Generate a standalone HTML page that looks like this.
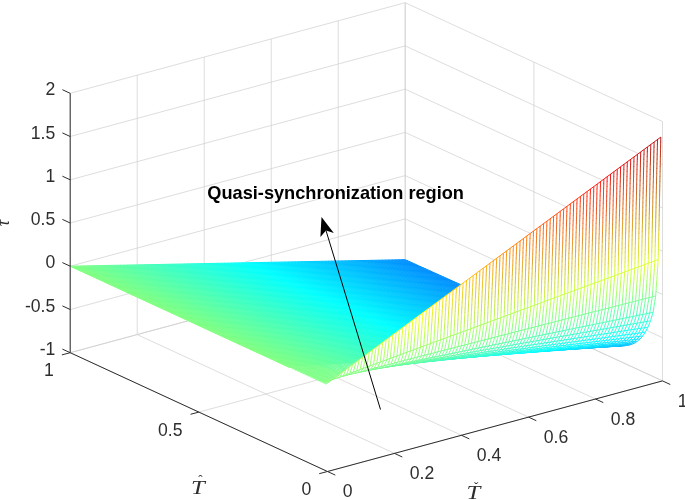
<!DOCTYPE html>
<html><head><meta charset="utf-8"><title>Quasi-synchronization region</title>
<style>html,body{margin:0;padding:0;background:#fff}svg{display:block}</style></head>
<body>
<svg width="685" height="500" viewBox="0 0 685 500"><defs><linearGradient id="ul" gradientUnits="userSpaceOnUse" x1="70.2" y1="266.2" x2="132.8" y2="130.7"><stop offset="0.000" stop-color="#80ff80"/><stop offset="0.534" stop-color="#00ffff"/><stop offset="1.000" stop-color="#0090ff"/></linearGradient><linearGradient id="p99" gradientUnits="userSpaceOnUse" x1="115.5" y1="426.9" x2="28.3" y2="104.6"><stop offset="0" stop-color="#000080"/><stop offset="0.125" stop-color="#0000ff"/><stop offset="0.375" stop-color="#00ffff"/><stop offset="0.625" stop-color="#ffff00"/><stop offset="0.875" stop-color="#ff0000"/><stop offset="1" stop-color="#800000"/></linearGradient><linearGradient id="p98" gradientUnits="userSpaceOnUse" x1="115.9" y1="428.7" x2="28.8" y2="106.4"><stop offset="0" stop-color="#000080"/><stop offset="0.125" stop-color="#0000ff"/><stop offset="0.375" stop-color="#00ffff"/><stop offset="0.625" stop-color="#ffff00"/><stop offset="0.875" stop-color="#ff0000"/><stop offset="1" stop-color="#800000"/></linearGradient><linearGradient id="p97" gradientUnits="userSpaceOnUse" x1="116.4" y1="430.5" x2="29.2" y2="108.1"><stop offset="0" stop-color="#000080"/><stop offset="0.125" stop-color="#0000ff"/><stop offset="0.375" stop-color="#00ffff"/><stop offset="0.625" stop-color="#ffff00"/><stop offset="0.875" stop-color="#ff0000"/><stop offset="1" stop-color="#800000"/></linearGradient><linearGradient id="p96" gradientUnits="userSpaceOnUse" x1="116.9" y1="432.2" x2="29.7" y2="109.9"><stop offset="0" stop-color="#000080"/><stop offset="0.125" stop-color="#0000ff"/><stop offset="0.375" stop-color="#00ffff"/><stop offset="0.625" stop-color="#ffff00"/><stop offset="0.875" stop-color="#ff0000"/><stop offset="1" stop-color="#800000"/></linearGradient><linearGradient id="p95" gradientUnits="userSpaceOnUse" x1="117.4" y1="434.0" x2="30.2" y2="111.7"><stop offset="0" stop-color="#000080"/><stop offset="0.125" stop-color="#0000ff"/><stop offset="0.375" stop-color="#00ffff"/><stop offset="0.625" stop-color="#ffff00"/><stop offset="0.875" stop-color="#ff0000"/><stop offset="1" stop-color="#800000"/></linearGradient><linearGradient id="p94" gradientUnits="userSpaceOnUse" x1="117.8" y1="435.7" x2="30.7" y2="113.4"><stop offset="0" stop-color="#000080"/><stop offset="0.125" stop-color="#0000ff"/><stop offset="0.375" stop-color="#00ffff"/><stop offset="0.625" stop-color="#ffff00"/><stop offset="0.875" stop-color="#ff0000"/><stop offset="1" stop-color="#800000"/></linearGradient><linearGradient id="p93" gradientUnits="userSpaceOnUse" x1="118.3" y1="437.5" x2="31.2" y2="115.2"><stop offset="0" stop-color="#000080"/><stop offset="0.125" stop-color="#0000ff"/><stop offset="0.375" stop-color="#00ffff"/><stop offset="0.625" stop-color="#ffff00"/><stop offset="0.875" stop-color="#ff0000"/><stop offset="1" stop-color="#800000"/></linearGradient><linearGradient id="p92" gradientUnits="userSpaceOnUse" x1="118.8" y1="439.3" x2="31.6" y2="117.0"><stop offset="0" stop-color="#000080"/><stop offset="0.125" stop-color="#0000ff"/><stop offset="0.375" stop-color="#00ffff"/><stop offset="0.625" stop-color="#ffff00"/><stop offset="0.875" stop-color="#ff0000"/><stop offset="1" stop-color="#800000"/></linearGradient><linearGradient id="p91" gradientUnits="userSpaceOnUse" x1="119.3" y1="441.0" x2="32.1" y2="118.7"><stop offset="0" stop-color="#000080"/><stop offset="0.125" stop-color="#0000ff"/><stop offset="0.375" stop-color="#00ffff"/><stop offset="0.625" stop-color="#ffff00"/><stop offset="0.875" stop-color="#ff0000"/><stop offset="1" stop-color="#800000"/></linearGradient><linearGradient id="p90" gradientUnits="userSpaceOnUse" x1="119.7" y1="442.8" x2="32.6" y2="120.5"><stop offset="0" stop-color="#000080"/><stop offset="0.125" stop-color="#0000ff"/><stop offset="0.375" stop-color="#00ffff"/><stop offset="0.625" stop-color="#ffff00"/><stop offset="0.875" stop-color="#ff0000"/><stop offset="1" stop-color="#800000"/></linearGradient><linearGradient id="p89" gradientUnits="userSpaceOnUse" x1="120.2" y1="444.5" x2="33.1" y2="122.2"><stop offset="0" stop-color="#000080"/><stop offset="0.125" stop-color="#0000ff"/><stop offset="0.375" stop-color="#00ffff"/><stop offset="0.625" stop-color="#ffff00"/><stop offset="0.875" stop-color="#ff0000"/><stop offset="1" stop-color="#800000"/></linearGradient><linearGradient id="p88" gradientUnits="userSpaceOnUse" x1="120.7" y1="446.3" x2="33.5" y2="124.0"><stop offset="0" stop-color="#000080"/><stop offset="0.125" stop-color="#0000ff"/><stop offset="0.375" stop-color="#00ffff"/><stop offset="0.625" stop-color="#ffff00"/><stop offset="0.875" stop-color="#ff0000"/><stop offset="1" stop-color="#800000"/></linearGradient><linearGradient id="p87" gradientUnits="userSpaceOnUse" x1="121.2" y1="448.1" x2="34.0" y2="125.8"><stop offset="0" stop-color="#000080"/><stop offset="0.125" stop-color="#0000ff"/><stop offset="0.375" stop-color="#00ffff"/><stop offset="0.625" stop-color="#ffff00"/><stop offset="0.875" stop-color="#ff0000"/><stop offset="1" stop-color="#800000"/></linearGradient><linearGradient id="p86" gradientUnits="userSpaceOnUse" x1="121.7" y1="449.8" x2="34.5" y2="127.5"><stop offset="0" stop-color="#000080"/><stop offset="0.125" stop-color="#0000ff"/><stop offset="0.375" stop-color="#00ffff"/><stop offset="0.625" stop-color="#ffff00"/><stop offset="0.875" stop-color="#ff0000"/><stop offset="1" stop-color="#800000"/></linearGradient><linearGradient id="p85" gradientUnits="userSpaceOnUse" x1="122.1" y1="451.6" x2="35.0" y2="129.3"><stop offset="0" stop-color="#000080"/><stop offset="0.125" stop-color="#0000ff"/><stop offset="0.375" stop-color="#00ffff"/><stop offset="0.625" stop-color="#ffff00"/><stop offset="0.875" stop-color="#ff0000"/><stop offset="1" stop-color="#800000"/></linearGradient><linearGradient id="p84" gradientUnits="userSpaceOnUse" x1="122.6" y1="453.4" x2="35.4" y2="131.0"><stop offset="0" stop-color="#000080"/><stop offset="0.125" stop-color="#0000ff"/><stop offset="0.375" stop-color="#00ffff"/><stop offset="0.625" stop-color="#ffff00"/><stop offset="0.875" stop-color="#ff0000"/><stop offset="1" stop-color="#800000"/></linearGradient><linearGradient id="p83" gradientUnits="userSpaceOnUse" x1="123.1" y1="455.1" x2="35.9" y2="132.8"><stop offset="0" stop-color="#000080"/><stop offset="0.125" stop-color="#0000ff"/><stop offset="0.375" stop-color="#00ffff"/><stop offset="0.625" stop-color="#ffff00"/><stop offset="0.875" stop-color="#ff0000"/><stop offset="1" stop-color="#800000"/></linearGradient><linearGradient id="p82" gradientUnits="userSpaceOnUse" x1="123.6" y1="456.9" x2="36.4" y2="134.6"><stop offset="0" stop-color="#000080"/><stop offset="0.125" stop-color="#0000ff"/><stop offset="0.375" stop-color="#00ffff"/><stop offset="0.625" stop-color="#ffff00"/><stop offset="0.875" stop-color="#ff0000"/><stop offset="1" stop-color="#800000"/></linearGradient><linearGradient id="p81" gradientUnits="userSpaceOnUse" x1="124.0" y1="458.6" x2="36.9" y2="136.3"><stop offset="0" stop-color="#000080"/><stop offset="0.125" stop-color="#0000ff"/><stop offset="0.375" stop-color="#00ffff"/><stop offset="0.625" stop-color="#ffff00"/><stop offset="0.875" stop-color="#ff0000"/><stop offset="1" stop-color="#800000"/></linearGradient><linearGradient id="p80" gradientUnits="userSpaceOnUse" x1="124.5" y1="460.4" x2="37.3" y2="138.1"><stop offset="0" stop-color="#000080"/><stop offset="0.125" stop-color="#0000ff"/><stop offset="0.375" stop-color="#00ffff"/><stop offset="0.625" stop-color="#ffff00"/><stop offset="0.875" stop-color="#ff0000"/><stop offset="1" stop-color="#800000"/></linearGradient><linearGradient id="p79" gradientUnits="userSpaceOnUse" x1="125.0" y1="462.2" x2="37.8" y2="139.9"><stop offset="0" stop-color="#000080"/><stop offset="0.125" stop-color="#0000ff"/><stop offset="0.375" stop-color="#00ffff"/><stop offset="0.625" stop-color="#ffff00"/><stop offset="0.875" stop-color="#ff0000"/><stop offset="1" stop-color="#800000"/></linearGradient><linearGradient id="p78" gradientUnits="userSpaceOnUse" x1="125.5" y1="463.9" x2="38.3" y2="141.6"><stop offset="0" stop-color="#000080"/><stop offset="0.125" stop-color="#0000ff"/><stop offset="0.375" stop-color="#00ffff"/><stop offset="0.625" stop-color="#ffff00"/><stop offset="0.875" stop-color="#ff0000"/><stop offset="1" stop-color="#800000"/></linearGradient><linearGradient id="p77" gradientUnits="userSpaceOnUse" x1="125.9" y1="465.7" x2="38.8" y2="143.4"><stop offset="0" stop-color="#000080"/><stop offset="0.125" stop-color="#0000ff"/><stop offset="0.375" stop-color="#00ffff"/><stop offset="0.625" stop-color="#ffff00"/><stop offset="0.875" stop-color="#ff0000"/><stop offset="1" stop-color="#800000"/></linearGradient><linearGradient id="p76" gradientUnits="userSpaceOnUse" x1="126.4" y1="467.4" x2="39.3" y2="145.1"><stop offset="0" stop-color="#000080"/><stop offset="0.125" stop-color="#0000ff"/><stop offset="0.375" stop-color="#00ffff"/><stop offset="0.625" stop-color="#ffff00"/><stop offset="0.875" stop-color="#ff0000"/><stop offset="1" stop-color="#800000"/></linearGradient><linearGradient id="p75" gradientUnits="userSpaceOnUse" x1="126.9" y1="469.2" x2="39.7" y2="146.9"><stop offset="0" stop-color="#000080"/><stop offset="0.125" stop-color="#0000ff"/><stop offset="0.375" stop-color="#00ffff"/><stop offset="0.625" stop-color="#ffff00"/><stop offset="0.875" stop-color="#ff0000"/><stop offset="1" stop-color="#800000"/></linearGradient><linearGradient id="p74" gradientUnits="userSpaceOnUse" x1="127.4" y1="471.0" x2="40.2" y2="148.7"><stop offset="0" stop-color="#000080"/><stop offset="0.125" stop-color="#0000ff"/><stop offset="0.375" stop-color="#00ffff"/><stop offset="0.625" stop-color="#ffff00"/><stop offset="0.875" stop-color="#ff0000"/><stop offset="1" stop-color="#800000"/></linearGradient><linearGradient id="p73" gradientUnits="userSpaceOnUse" x1="127.8" y1="472.7" x2="40.7" y2="150.4"><stop offset="0" stop-color="#000080"/><stop offset="0.125" stop-color="#0000ff"/><stop offset="0.375" stop-color="#00ffff"/><stop offset="0.625" stop-color="#ffff00"/><stop offset="0.875" stop-color="#ff0000"/><stop offset="1" stop-color="#800000"/></linearGradient><linearGradient id="p72" gradientUnits="userSpaceOnUse" x1="128.3" y1="474.5" x2="41.2" y2="152.2"><stop offset="0" stop-color="#000080"/><stop offset="0.125" stop-color="#0000ff"/><stop offset="0.375" stop-color="#00ffff"/><stop offset="0.625" stop-color="#ffff00"/><stop offset="0.875" stop-color="#ff0000"/><stop offset="1" stop-color="#800000"/></linearGradient><linearGradient id="p71" gradientUnits="userSpaceOnUse" x1="128.8" y1="476.3" x2="41.6" y2="153.9"><stop offset="0" stop-color="#000080"/><stop offset="0.125" stop-color="#0000ff"/><stop offset="0.375" stop-color="#00ffff"/><stop offset="0.625" stop-color="#ffff00"/><stop offset="0.875" stop-color="#ff0000"/><stop offset="1" stop-color="#800000"/></linearGradient><linearGradient id="p70" gradientUnits="userSpaceOnUse" x1="129.3" y1="478.0" x2="42.1" y2="155.7"><stop offset="0" stop-color="#000080"/><stop offset="0.125" stop-color="#0000ff"/><stop offset="0.375" stop-color="#00ffff"/><stop offset="0.625" stop-color="#ffff00"/><stop offset="0.875" stop-color="#ff0000"/><stop offset="1" stop-color="#800000"/></linearGradient><linearGradient id="p69" gradientUnits="userSpaceOnUse" x1="129.8" y1="479.8" x2="42.6" y2="157.5"><stop offset="0" stop-color="#000080"/><stop offset="0.125" stop-color="#0000ff"/><stop offset="0.375" stop-color="#00ffff"/><stop offset="0.625" stop-color="#ffff00"/><stop offset="0.875" stop-color="#ff0000"/><stop offset="1" stop-color="#800000"/></linearGradient><linearGradient id="p68" gradientUnits="userSpaceOnUse" x1="130.2" y1="481.5" x2="43.1" y2="159.2"><stop offset="0" stop-color="#000080"/><stop offset="0.125" stop-color="#0000ff"/><stop offset="0.375" stop-color="#00ffff"/><stop offset="0.625" stop-color="#ffff00"/><stop offset="0.875" stop-color="#ff0000"/><stop offset="1" stop-color="#800000"/></linearGradient><linearGradient id="p67" gradientUnits="userSpaceOnUse" x1="130.7" y1="483.3" x2="43.5" y2="161.0"><stop offset="0" stop-color="#000080"/><stop offset="0.125" stop-color="#0000ff"/><stop offset="0.375" stop-color="#00ffff"/><stop offset="0.625" stop-color="#ffff00"/><stop offset="0.875" stop-color="#ff0000"/><stop offset="1" stop-color="#800000"/></linearGradient><linearGradient id="p66" gradientUnits="userSpaceOnUse" x1="131.2" y1="485.1" x2="44.0" y2="162.8"><stop offset="0" stop-color="#000080"/><stop offset="0.125" stop-color="#0000ff"/><stop offset="0.375" stop-color="#00ffff"/><stop offset="0.625" stop-color="#ffff00"/><stop offset="0.875" stop-color="#ff0000"/><stop offset="1" stop-color="#800000"/></linearGradient><linearGradient id="p65" gradientUnits="userSpaceOnUse" x1="131.7" y1="486.8" x2="44.5" y2="164.5"><stop offset="0" stop-color="#000080"/><stop offset="0.125" stop-color="#0000ff"/><stop offset="0.375" stop-color="#00ffff"/><stop offset="0.625" stop-color="#ffff00"/><stop offset="0.875" stop-color="#ff0000"/><stop offset="1" stop-color="#800000"/></linearGradient><linearGradient id="p64" gradientUnits="userSpaceOnUse" x1="132.1" y1="488.6" x2="45.0" y2="166.3"><stop offset="0" stop-color="#000080"/><stop offset="0.125" stop-color="#0000ff"/><stop offset="0.375" stop-color="#00ffff"/><stop offset="0.625" stop-color="#ffff00"/><stop offset="0.875" stop-color="#ff0000"/><stop offset="1" stop-color="#800000"/></linearGradient><linearGradient id="p63" gradientUnits="userSpaceOnUse" x1="132.6" y1="490.3" x2="45.4" y2="168.0"><stop offset="0" stop-color="#000080"/><stop offset="0.125" stop-color="#0000ff"/><stop offset="0.375" stop-color="#00ffff"/><stop offset="0.625" stop-color="#ffff00"/><stop offset="0.875" stop-color="#ff0000"/><stop offset="1" stop-color="#800000"/></linearGradient><linearGradient id="p62" gradientUnits="userSpaceOnUse" x1="133.1" y1="492.1" x2="45.9" y2="169.8"><stop offset="0" stop-color="#000080"/><stop offset="0.125" stop-color="#0000ff"/><stop offset="0.375" stop-color="#00ffff"/><stop offset="0.625" stop-color="#ffff00"/><stop offset="0.875" stop-color="#ff0000"/><stop offset="1" stop-color="#800000"/></linearGradient><linearGradient id="p61" gradientUnits="userSpaceOnUse" x1="133.6" y1="493.9" x2="46.4" y2="171.6"><stop offset="0" stop-color="#000080"/><stop offset="0.125" stop-color="#0000ff"/><stop offset="0.375" stop-color="#00ffff"/><stop offset="0.625" stop-color="#ffff00"/><stop offset="0.875" stop-color="#ff0000"/><stop offset="1" stop-color="#800000"/></linearGradient><linearGradient id="p60" gradientUnits="userSpaceOnUse" x1="134.0" y1="495.6" x2="46.9" y2="173.3"><stop offset="0" stop-color="#000080"/><stop offset="0.125" stop-color="#0000ff"/><stop offset="0.375" stop-color="#00ffff"/><stop offset="0.625" stop-color="#ffff00"/><stop offset="0.875" stop-color="#ff0000"/><stop offset="1" stop-color="#800000"/></linearGradient><linearGradient id="p59" gradientUnits="userSpaceOnUse" x1="134.5" y1="497.4" x2="47.4" y2="175.1"><stop offset="0" stop-color="#000080"/><stop offset="0.125" stop-color="#0000ff"/><stop offset="0.375" stop-color="#00ffff"/><stop offset="0.625" stop-color="#ffff00"/><stop offset="0.875" stop-color="#ff0000"/><stop offset="1" stop-color="#800000"/></linearGradient><linearGradient id="p58" gradientUnits="userSpaceOnUse" x1="135.0" y1="499.2" x2="47.8" y2="176.8"><stop offset="0" stop-color="#000080"/><stop offset="0.125" stop-color="#0000ff"/><stop offset="0.375" stop-color="#00ffff"/><stop offset="0.625" stop-color="#ffff00"/><stop offset="0.875" stop-color="#ff0000"/><stop offset="1" stop-color="#800000"/></linearGradient><linearGradient id="p57" gradientUnits="userSpaceOnUse" x1="135.5" y1="500.9" x2="48.3" y2="178.6"><stop offset="0" stop-color="#000080"/><stop offset="0.125" stop-color="#0000ff"/><stop offset="0.375" stop-color="#00ffff"/><stop offset="0.625" stop-color="#ffff00"/><stop offset="0.875" stop-color="#ff0000"/><stop offset="1" stop-color="#800000"/></linearGradient><linearGradient id="p56" gradientUnits="userSpaceOnUse" x1="135.9" y1="502.7" x2="48.8" y2="180.4"><stop offset="0" stop-color="#000080"/><stop offset="0.125" stop-color="#0000ff"/><stop offset="0.375" stop-color="#00ffff"/><stop offset="0.625" stop-color="#ffff00"/><stop offset="0.875" stop-color="#ff0000"/><stop offset="1" stop-color="#800000"/></linearGradient><linearGradient id="p55" gradientUnits="userSpaceOnUse" x1="136.4" y1="504.4" x2="49.3" y2="182.1"><stop offset="0" stop-color="#000080"/><stop offset="0.125" stop-color="#0000ff"/><stop offset="0.375" stop-color="#00ffff"/><stop offset="0.625" stop-color="#ffff00"/><stop offset="0.875" stop-color="#ff0000"/><stop offset="1" stop-color="#800000"/></linearGradient><linearGradient id="p54" gradientUnits="userSpaceOnUse" x1="136.9" y1="506.2" x2="49.7" y2="183.9"><stop offset="0" stop-color="#000080"/><stop offset="0.125" stop-color="#0000ff"/><stop offset="0.375" stop-color="#00ffff"/><stop offset="0.625" stop-color="#ffff00"/><stop offset="0.875" stop-color="#ff0000"/><stop offset="1" stop-color="#800000"/></linearGradient><linearGradient id="p53" gradientUnits="userSpaceOnUse" x1="137.4" y1="508.0" x2="50.2" y2="185.7"><stop offset="0" stop-color="#000080"/><stop offset="0.125" stop-color="#0000ff"/><stop offset="0.375" stop-color="#00ffff"/><stop offset="0.625" stop-color="#ffff00"/><stop offset="0.875" stop-color="#ff0000"/><stop offset="1" stop-color="#800000"/></linearGradient><linearGradient id="p52" gradientUnits="userSpaceOnUse" x1="137.9" y1="509.7" x2="50.7" y2="187.4"><stop offset="0" stop-color="#000080"/><stop offset="0.125" stop-color="#0000ff"/><stop offset="0.375" stop-color="#00ffff"/><stop offset="0.625" stop-color="#ffff00"/><stop offset="0.875" stop-color="#ff0000"/><stop offset="1" stop-color="#800000"/></linearGradient><linearGradient id="p51" gradientUnits="userSpaceOnUse" x1="138.3" y1="511.5" x2="51.2" y2="189.2"><stop offset="0" stop-color="#000080"/><stop offset="0.125" stop-color="#0000ff"/><stop offset="0.375" stop-color="#00ffff"/><stop offset="0.625" stop-color="#ffff00"/><stop offset="0.875" stop-color="#ff0000"/><stop offset="1" stop-color="#800000"/></linearGradient><linearGradient id="p50" gradientUnits="userSpaceOnUse" x1="138.8" y1="513.2" x2="51.6" y2="190.9"><stop offset="0" stop-color="#000080"/><stop offset="0.125" stop-color="#0000ff"/><stop offset="0.375" stop-color="#00ffff"/><stop offset="0.625" stop-color="#ffff00"/><stop offset="0.875" stop-color="#ff0000"/><stop offset="1" stop-color="#800000"/></linearGradient><linearGradient id="p49" gradientUnits="userSpaceOnUse" x1="139.3" y1="515.0" x2="52.1" y2="192.7"><stop offset="0" stop-color="#000080"/><stop offset="0.125" stop-color="#0000ff"/><stop offset="0.375" stop-color="#00ffff"/><stop offset="0.625" stop-color="#ffff00"/><stop offset="0.875" stop-color="#ff0000"/><stop offset="1" stop-color="#800000"/></linearGradient><linearGradient id="p48" gradientUnits="userSpaceOnUse" x1="139.8" y1="516.8" x2="52.6" y2="194.5"><stop offset="0" stop-color="#000080"/><stop offset="0.125" stop-color="#0000ff"/><stop offset="0.375" stop-color="#00ffff"/><stop offset="0.625" stop-color="#ffff00"/><stop offset="0.875" stop-color="#ff0000"/><stop offset="1" stop-color="#800000"/></linearGradient><linearGradient id="p47" gradientUnits="userSpaceOnUse" x1="140.2" y1="518.5" x2="53.1" y2="196.2"><stop offset="0" stop-color="#000080"/><stop offset="0.125" stop-color="#0000ff"/><stop offset="0.375" stop-color="#00ffff"/><stop offset="0.625" stop-color="#ffff00"/><stop offset="0.875" stop-color="#ff0000"/><stop offset="1" stop-color="#800000"/></linearGradient><linearGradient id="p46" gradientUnits="userSpaceOnUse" x1="140.7" y1="520.3" x2="53.5" y2="198.0"><stop offset="0" stop-color="#000080"/><stop offset="0.125" stop-color="#0000ff"/><stop offset="0.375" stop-color="#00ffff"/><stop offset="0.625" stop-color="#ffff00"/><stop offset="0.875" stop-color="#ff0000"/><stop offset="1" stop-color="#800000"/></linearGradient><linearGradient id="p45" gradientUnits="userSpaceOnUse" x1="141.2" y1="522.1" x2="54.0" y2="199.7"><stop offset="0" stop-color="#000080"/><stop offset="0.125" stop-color="#0000ff"/><stop offset="0.375" stop-color="#00ffff"/><stop offset="0.625" stop-color="#ffff00"/><stop offset="0.875" stop-color="#ff0000"/><stop offset="1" stop-color="#800000"/></linearGradient><linearGradient id="p44" gradientUnits="userSpaceOnUse" x1="141.7" y1="523.8" x2="54.5" y2="201.5"><stop offset="0" stop-color="#000080"/><stop offset="0.125" stop-color="#0000ff"/><stop offset="0.375" stop-color="#00ffff"/><stop offset="0.625" stop-color="#ffff00"/><stop offset="0.875" stop-color="#ff0000"/><stop offset="1" stop-color="#800000"/></linearGradient><linearGradient id="p43" gradientUnits="userSpaceOnUse" x1="142.1" y1="525.6" x2="55.0" y2="203.3"><stop offset="0" stop-color="#000080"/><stop offset="0.125" stop-color="#0000ff"/><stop offset="0.375" stop-color="#00ffff"/><stop offset="0.625" stop-color="#ffff00"/><stop offset="0.875" stop-color="#ff0000"/><stop offset="1" stop-color="#800000"/></linearGradient><linearGradient id="p42" gradientUnits="userSpaceOnUse" x1="142.6" y1="527.3" x2="55.5" y2="205.0"><stop offset="0" stop-color="#000080"/><stop offset="0.125" stop-color="#0000ff"/><stop offset="0.375" stop-color="#00ffff"/><stop offset="0.625" stop-color="#ffff00"/><stop offset="0.875" stop-color="#ff0000"/><stop offset="1" stop-color="#800000"/></linearGradient><linearGradient id="p41" gradientUnits="userSpaceOnUse" x1="143.1" y1="529.1" x2="55.9" y2="206.8"><stop offset="0" stop-color="#000080"/><stop offset="0.125" stop-color="#0000ff"/><stop offset="0.375" stop-color="#00ffff"/><stop offset="0.625" stop-color="#ffff00"/><stop offset="0.875" stop-color="#ff0000"/><stop offset="1" stop-color="#800000"/></linearGradient><linearGradient id="p40" gradientUnits="userSpaceOnUse" x1="143.6" y1="530.9" x2="56.4" y2="208.6"><stop offset="0" stop-color="#000080"/><stop offset="0.125" stop-color="#0000ff"/><stop offset="0.375" stop-color="#00ffff"/><stop offset="0.625" stop-color="#ffff00"/><stop offset="0.875" stop-color="#ff0000"/><stop offset="1" stop-color="#800000"/></linearGradient><linearGradient id="p39" gradientUnits="userSpaceOnUse" x1="144.0" y1="532.6" x2="56.9" y2="210.3"><stop offset="0" stop-color="#000080"/><stop offset="0.125" stop-color="#0000ff"/><stop offset="0.375" stop-color="#00ffff"/><stop offset="0.625" stop-color="#ffff00"/><stop offset="0.875" stop-color="#ff0000"/><stop offset="1" stop-color="#800000"/></linearGradient><linearGradient id="p38" gradientUnits="userSpaceOnUse" x1="144.5" y1="534.4" x2="57.4" y2="212.1"><stop offset="0" stop-color="#000080"/><stop offset="0.125" stop-color="#0000ff"/><stop offset="0.375" stop-color="#00ffff"/><stop offset="0.625" stop-color="#ffff00"/><stop offset="0.875" stop-color="#ff0000"/><stop offset="1" stop-color="#800000"/></linearGradient><linearGradient id="p37" gradientUnits="userSpaceOnUse" x1="145.0" y1="536.1" x2="57.8" y2="213.8"><stop offset="0" stop-color="#000080"/><stop offset="0.125" stop-color="#0000ff"/><stop offset="0.375" stop-color="#00ffff"/><stop offset="0.625" stop-color="#ffff00"/><stop offset="0.875" stop-color="#ff0000"/><stop offset="1" stop-color="#800000"/></linearGradient><linearGradient id="p36" gradientUnits="userSpaceOnUse" x1="145.5" y1="537.9" x2="58.3" y2="215.6"><stop offset="0" stop-color="#000080"/><stop offset="0.125" stop-color="#0000ff"/><stop offset="0.375" stop-color="#00ffff"/><stop offset="0.625" stop-color="#ffff00"/><stop offset="0.875" stop-color="#ff0000"/><stop offset="1" stop-color="#800000"/></linearGradient><linearGradient id="p35" gradientUnits="userSpaceOnUse" x1="146.0" y1="539.7" x2="58.8" y2="217.4"><stop offset="0" stop-color="#000080"/><stop offset="0.125" stop-color="#0000ff"/><stop offset="0.375" stop-color="#00ffff"/><stop offset="0.625" stop-color="#ffff00"/><stop offset="0.875" stop-color="#ff0000"/><stop offset="1" stop-color="#800000"/></linearGradient><linearGradient id="p34" gradientUnits="userSpaceOnUse" x1="146.4" y1="541.4" x2="59.3" y2="219.1"><stop offset="0" stop-color="#000080"/><stop offset="0.125" stop-color="#0000ff"/><stop offset="0.375" stop-color="#00ffff"/><stop offset="0.625" stop-color="#ffff00"/><stop offset="0.875" stop-color="#ff0000"/><stop offset="1" stop-color="#800000"/></linearGradient><linearGradient id="p33" gradientUnits="userSpaceOnUse" x1="146.9" y1="543.2" x2="59.7" y2="220.9"><stop offset="0" stop-color="#000080"/><stop offset="0.125" stop-color="#0000ff"/><stop offset="0.375" stop-color="#00ffff"/><stop offset="0.625" stop-color="#ffff00"/><stop offset="0.875" stop-color="#ff0000"/><stop offset="1" stop-color="#800000"/></linearGradient><linearGradient id="p32" gradientUnits="userSpaceOnUse" x1="147.4" y1="545.0" x2="60.2" y2="222.7"><stop offset="0" stop-color="#000080"/><stop offset="0.125" stop-color="#0000ff"/><stop offset="0.375" stop-color="#00ffff"/><stop offset="0.625" stop-color="#ffff00"/><stop offset="0.875" stop-color="#ff0000"/><stop offset="1" stop-color="#800000"/></linearGradient><linearGradient id="p31" gradientUnits="userSpaceOnUse" x1="147.9" y1="546.7" x2="60.7" y2="224.4"><stop offset="0" stop-color="#000080"/><stop offset="0.125" stop-color="#0000ff"/><stop offset="0.375" stop-color="#00ffff"/><stop offset="0.625" stop-color="#ffff00"/><stop offset="0.875" stop-color="#ff0000"/><stop offset="1" stop-color="#800000"/></linearGradient><linearGradient id="p30" gradientUnits="userSpaceOnUse" x1="148.3" y1="548.5" x2="61.2" y2="226.2"><stop offset="0" stop-color="#000080"/><stop offset="0.125" stop-color="#0000ff"/><stop offset="0.375" stop-color="#00ffff"/><stop offset="0.625" stop-color="#ffff00"/><stop offset="0.875" stop-color="#ff0000"/><stop offset="1" stop-color="#800000"/></linearGradient><linearGradient id="p29" gradientUnits="userSpaceOnUse" x1="148.8" y1="550.2" x2="61.6" y2="227.9"><stop offset="0" stop-color="#000080"/><stop offset="0.125" stop-color="#0000ff"/><stop offset="0.375" stop-color="#00ffff"/><stop offset="0.625" stop-color="#ffff00"/><stop offset="0.875" stop-color="#ff0000"/><stop offset="1" stop-color="#800000"/></linearGradient><linearGradient id="p28" gradientUnits="userSpaceOnUse" x1="149.3" y1="552.0" x2="62.1" y2="229.7"><stop offset="0" stop-color="#000080"/><stop offset="0.125" stop-color="#0000ff"/><stop offset="0.375" stop-color="#00ffff"/><stop offset="0.625" stop-color="#ffff00"/><stop offset="0.875" stop-color="#ff0000"/><stop offset="1" stop-color="#800000"/></linearGradient><linearGradient id="p27" gradientUnits="userSpaceOnUse" x1="149.8" y1="553.8" x2="62.6" y2="231.5"><stop offset="0" stop-color="#000080"/><stop offset="0.125" stop-color="#0000ff"/><stop offset="0.375" stop-color="#00ffff"/><stop offset="0.625" stop-color="#ffff00"/><stop offset="0.875" stop-color="#ff0000"/><stop offset="1" stop-color="#800000"/></linearGradient><linearGradient id="p26" gradientUnits="userSpaceOnUse" x1="150.2" y1="555.5" x2="63.1" y2="233.2"><stop offset="0" stop-color="#000080"/><stop offset="0.125" stop-color="#0000ff"/><stop offset="0.375" stop-color="#00ffff"/><stop offset="0.625" stop-color="#ffff00"/><stop offset="0.875" stop-color="#ff0000"/><stop offset="1" stop-color="#800000"/></linearGradient><linearGradient id="p25" gradientUnits="userSpaceOnUse" x1="150.7" y1="557.3" x2="63.6" y2="235.0"><stop offset="0" stop-color="#000080"/><stop offset="0.125" stop-color="#0000ff"/><stop offset="0.375" stop-color="#00ffff"/><stop offset="0.625" stop-color="#ffff00"/><stop offset="0.875" stop-color="#ff0000"/><stop offset="1" stop-color="#800000"/></linearGradient><linearGradient id="p24" gradientUnits="userSpaceOnUse" x1="151.2" y1="559.0" x2="64.0" y2="236.7"><stop offset="0" stop-color="#000080"/><stop offset="0.125" stop-color="#0000ff"/><stop offset="0.375" stop-color="#00ffff"/><stop offset="0.625" stop-color="#ffff00"/><stop offset="0.875" stop-color="#ff0000"/><stop offset="1" stop-color="#800000"/></linearGradient><linearGradient id="p23" gradientUnits="userSpaceOnUse" x1="151.7" y1="560.8" x2="64.5" y2="238.5"><stop offset="0" stop-color="#000080"/><stop offset="0.125" stop-color="#0000ff"/><stop offset="0.375" stop-color="#00ffff"/><stop offset="0.625" stop-color="#ffff00"/><stop offset="0.875" stop-color="#ff0000"/><stop offset="1" stop-color="#800000"/></linearGradient><linearGradient id="p22" gradientUnits="userSpaceOnUse" x1="152.1" y1="562.6" x2="65.0" y2="240.3"><stop offset="0" stop-color="#000080"/><stop offset="0.125" stop-color="#0000ff"/><stop offset="0.375" stop-color="#00ffff"/><stop offset="0.625" stop-color="#ffff00"/><stop offset="0.875" stop-color="#ff0000"/><stop offset="1" stop-color="#800000"/></linearGradient><linearGradient id="p21" gradientUnits="userSpaceOnUse" x1="152.6" y1="564.3" x2="65.5" y2="242.0"><stop offset="0" stop-color="#000080"/><stop offset="0.125" stop-color="#0000ff"/><stop offset="0.375" stop-color="#00ffff"/><stop offset="0.625" stop-color="#ffff00"/><stop offset="0.875" stop-color="#ff0000"/><stop offset="1" stop-color="#800000"/></linearGradient><linearGradient id="p20" gradientUnits="userSpaceOnUse" x1="153.1" y1="566.1" x2="65.9" y2="243.8"><stop offset="0" stop-color="#000080"/><stop offset="0.125" stop-color="#0000ff"/><stop offset="0.375" stop-color="#00ffff"/><stop offset="0.625" stop-color="#ffff00"/><stop offset="0.875" stop-color="#ff0000"/><stop offset="1" stop-color="#800000"/></linearGradient><linearGradient id="p19" gradientUnits="userSpaceOnUse" x1="153.6" y1="567.9" x2="66.4" y2="245.6"><stop offset="0" stop-color="#000080"/><stop offset="0.125" stop-color="#0000ff"/><stop offset="0.375" stop-color="#00ffff"/><stop offset="0.625" stop-color="#ffff00"/><stop offset="0.875" stop-color="#ff0000"/><stop offset="1" stop-color="#800000"/></linearGradient><linearGradient id="p18" gradientUnits="userSpaceOnUse" x1="154.1" y1="569.6" x2="66.9" y2="247.3"><stop offset="0" stop-color="#000080"/><stop offset="0.125" stop-color="#0000ff"/><stop offset="0.375" stop-color="#00ffff"/><stop offset="0.625" stop-color="#ffff00"/><stop offset="0.875" stop-color="#ff0000"/><stop offset="1" stop-color="#800000"/></linearGradient><linearGradient id="p17" gradientUnits="userSpaceOnUse" x1="154.5" y1="571.4" x2="67.4" y2="249.1"><stop offset="0" stop-color="#000080"/><stop offset="0.125" stop-color="#0000ff"/><stop offset="0.375" stop-color="#00ffff"/><stop offset="0.625" stop-color="#ffff00"/><stop offset="0.875" stop-color="#ff0000"/><stop offset="1" stop-color="#800000"/></linearGradient><linearGradient id="p16" gradientUnits="userSpaceOnUse" x1="155.0" y1="573.1" x2="67.8" y2="250.8"><stop offset="0" stop-color="#000080"/><stop offset="0.125" stop-color="#0000ff"/><stop offset="0.375" stop-color="#00ffff"/><stop offset="0.625" stop-color="#ffff00"/><stop offset="0.875" stop-color="#ff0000"/><stop offset="1" stop-color="#800000"/></linearGradient><linearGradient id="p15" gradientUnits="userSpaceOnUse" x1="155.5" y1="574.9" x2="68.3" y2="252.6"><stop offset="0" stop-color="#000080"/><stop offset="0.125" stop-color="#0000ff"/><stop offset="0.375" stop-color="#00ffff"/><stop offset="0.625" stop-color="#ffff00"/><stop offset="0.875" stop-color="#ff0000"/><stop offset="1" stop-color="#800000"/></linearGradient><linearGradient id="s14" gradientUnits="userSpaceOnUse" x1="156.0" y1="576.7" x2="68.8" y2="254.4"><stop offset="0" stop-color="#000080"/><stop offset="0.125" stop-color="#0000ff"/><stop offset="0.375" stop-color="#00ffff"/><stop offset="0.625" stop-color="#ffff00"/><stop offset="0.875" stop-color="#ff0000"/><stop offset="1" stop-color="#800000"/></linearGradient><linearGradient id="s13" gradientUnits="userSpaceOnUse" x1="156.4" y1="578.4" x2="69.3" y2="256.1"><stop offset="0" stop-color="#000080"/><stop offset="0.125" stop-color="#0000ff"/><stop offset="0.375" stop-color="#00ffff"/><stop offset="0.625" stop-color="#ffff00"/><stop offset="0.875" stop-color="#ff0000"/><stop offset="1" stop-color="#800000"/></linearGradient><linearGradient id="s12" gradientUnits="userSpaceOnUse" x1="156.9" y1="580.2" x2="69.7" y2="257.9"><stop offset="0" stop-color="#000080"/><stop offset="0.125" stop-color="#0000ff"/><stop offset="0.375" stop-color="#00ffff"/><stop offset="0.625" stop-color="#ffff00"/><stop offset="0.875" stop-color="#ff0000"/><stop offset="1" stop-color="#800000"/></linearGradient><linearGradient id="s11" gradientUnits="userSpaceOnUse" x1="157.4" y1="582.0" x2="70.2" y2="259.6"><stop offset="0" stop-color="#000080"/><stop offset="0.125" stop-color="#0000ff"/><stop offset="0.375" stop-color="#00ffff"/><stop offset="0.625" stop-color="#ffff00"/><stop offset="0.875" stop-color="#ff0000"/><stop offset="1" stop-color="#800000"/></linearGradient><linearGradient id="s10" gradientUnits="userSpaceOnUse" x1="157.9" y1="583.7" x2="70.7" y2="261.4"><stop offset="0" stop-color="#000080"/><stop offset="0.125" stop-color="#0000ff"/><stop offset="0.375" stop-color="#00ffff"/><stop offset="0.625" stop-color="#ffff00"/><stop offset="0.875" stop-color="#ff0000"/><stop offset="1" stop-color="#800000"/></linearGradient><linearGradient id="s9" gradientUnits="userSpaceOnUse" x1="158.3" y1="585.5" x2="71.2" y2="263.2"><stop offset="0" stop-color="#000080"/><stop offset="0.125" stop-color="#0000ff"/><stop offset="0.375" stop-color="#00ffff"/><stop offset="0.625" stop-color="#ffff00"/><stop offset="0.875" stop-color="#ff0000"/><stop offset="1" stop-color="#800000"/></linearGradient><linearGradient id="s8" gradientUnits="userSpaceOnUse" x1="158.8" y1="587.2" x2="71.6" y2="264.9"><stop offset="0" stop-color="#000080"/><stop offset="0.125" stop-color="#0000ff"/><stop offset="0.375" stop-color="#00ffff"/><stop offset="0.625" stop-color="#ffff00"/><stop offset="0.875" stop-color="#ff0000"/><stop offset="1" stop-color="#800000"/></linearGradient><linearGradient id="s7" gradientUnits="userSpaceOnUse" x1="159.3" y1="589.0" x2="72.1" y2="266.7"><stop offset="0" stop-color="#000080"/><stop offset="0.125" stop-color="#0000ff"/><stop offset="0.375" stop-color="#00ffff"/><stop offset="0.625" stop-color="#ffff00"/><stop offset="0.875" stop-color="#ff0000"/><stop offset="1" stop-color="#800000"/></linearGradient><linearGradient id="s6" gradientUnits="userSpaceOnUse" x1="159.8" y1="590.8" x2="72.6" y2="268.5"><stop offset="0" stop-color="#000080"/><stop offset="0.125" stop-color="#0000ff"/><stop offset="0.375" stop-color="#00ffff"/><stop offset="0.625" stop-color="#ffff00"/><stop offset="0.875" stop-color="#ff0000"/><stop offset="1" stop-color="#800000"/></linearGradient><linearGradient id="s5" gradientUnits="userSpaceOnUse" x1="160.2" y1="592.5" x2="73.1" y2="270.2"><stop offset="0" stop-color="#000080"/><stop offset="0.125" stop-color="#0000ff"/><stop offset="0.375" stop-color="#00ffff"/><stop offset="0.625" stop-color="#ffff00"/><stop offset="0.875" stop-color="#ff0000"/><stop offset="1" stop-color="#800000"/></linearGradient><linearGradient id="s4" gradientUnits="userSpaceOnUse" x1="160.7" y1="594.3" x2="73.6" y2="272.0"><stop offset="0" stop-color="#000080"/><stop offset="0.125" stop-color="#0000ff"/><stop offset="0.375" stop-color="#00ffff"/><stop offset="0.625" stop-color="#ffff00"/><stop offset="0.875" stop-color="#ff0000"/><stop offset="1" stop-color="#800000"/></linearGradient><linearGradient id="s3" gradientUnits="userSpaceOnUse" x1="161.2" y1="596.0" x2="74.0" y2="273.7"><stop offset="0" stop-color="#000080"/><stop offset="0.125" stop-color="#0000ff"/><stop offset="0.375" stop-color="#00ffff"/><stop offset="0.625" stop-color="#ffff00"/><stop offset="0.875" stop-color="#ff0000"/><stop offset="1" stop-color="#800000"/></linearGradient><linearGradient id="s2" gradientUnits="userSpaceOnUse" x1="161.7" y1="597.8" x2="74.5" y2="275.5"><stop offset="0" stop-color="#000080"/><stop offset="0.125" stop-color="#0000ff"/><stop offset="0.375" stop-color="#00ffff"/><stop offset="0.625" stop-color="#ffff00"/><stop offset="0.875" stop-color="#ff0000"/><stop offset="1" stop-color="#800000"/></linearGradient><linearGradient id="s1" gradientUnits="userSpaceOnUse" x1="162.2" y1="599.6" x2="75.0" y2="277.3"><stop offset="0" stop-color="#000080"/><stop offset="0.125" stop-color="#0000ff"/><stop offset="0.375" stop-color="#00ffff"/><stop offset="0.625" stop-color="#ffff00"/><stop offset="0.875" stop-color="#ff0000"/><stop offset="1" stop-color="#800000"/></linearGradient><linearGradient id="s0" gradientUnits="userSpaceOnUse" x1="162.6" y1="601.3" x2="75.5" y2="279.0"><stop offset="0" stop-color="#000080"/><stop offset="0.125" stop-color="#0000ff"/><stop offset="0.375" stop-color="#00ffff"/><stop offset="0.625" stop-color="#ffff00"/><stop offset="0.875" stop-color="#ff0000"/><stop offset="1" stop-color="#800000"/></linearGradient><linearGradient id="sf" gradientUnits="userSpaceOnUse" x1="324" y1="0" x2="342" y2="0"><stop offset="0" stop-color="#a6ffa6"/><stop offset="1" stop-color="#fff"/></linearGradient></defs>
<path d="M327.5 471.5L70.2 352.7M70.2 352.7L70.2 93.3M394.5 453.4L137.2 334.6M137.2 334.6L137.2 75.2M461.5 435.3L204.2 316.5M204.2 316.5L204.2 57.1M528.5 417.1L271.2 298.3M271.2 298.3L271.2 38.9M595.5 399L338.2 280.2M338.2 280.2L338.2 20.8M662.5 380.9L405.2 262.1M405.2 262.1L405.2 2.7M327.5 471.5L662.5 380.9M662.5 380.9L662.5 121.5M198.8 412.1L533.9 321.5M533.9 321.5L533.9 62.1M70.2 352.7L405.2 262.1M405.2 262.1L405.2 2.7M70.2 352.7L405.2 262.1M405.2 262.1L662.5 380.9M70.2 309.5L405.2 218.9M405.2 218.9L662.5 337.7M70.2 266.2L405.2 175.6M405.2 175.6L662.5 294.4M70.2 223L405.2 132.4M405.2 132.4L662.5 251.2M70.2 179.8L405.2 89.2M405.2 89.2L662.5 208M70.2 136.5L405.2 45.9M405.2 45.9L662.5 164.7M70.2 93.3L405.2 2.7M405.2 2.7L662.5 121.5" stroke="#cecece" stroke-width="0.7" fill="none"/>
<path d="M289.7 367.6L624.7 345.7L624.7 345.7L622.1 345.8L619.5 345.8L616.9 345.5L614.3 345.2L611.8 344.8L609.2 344.3L606.6 343.7L604 343L601.4 342.3L598.9 341.6L596.3 340.8L593.7 340L591.1 339.1L588.5 338.3L585.9 337.4L583.4 336.4L580.8 335.5L578.2 334.6L575.6 333.6L573 332.6L570.4 331.6L567.9 330.6L565.3 329.6L562.7 328.6L560.1 327.5L557.5 326.5L555 325.4L552.4 324.4L549.8 323.3L547.2 322.3L544.6 321.2L542 320.1L539.5 319L536.9 317.9L534.3 316.8L531.7 315.7L529.1 314.6L526.6 313.5L524 312.4L521.4 311.3L518.8 310.2L516.2 309.1L513.6 308L511.1 306.9L508.5 305.7L505.9 304.6L503.3 303.5L500.7 302.4L498.2 301.2L495.6 300.1L493 299L490.4 297.8L487.8 296.7L485.2 295.5L482.7 294.4L480.1 293.3L477.5 292.1L474.9 291L472.3 289.8L469.8 288.7L467.2 287.5L464.6 286.4L462 285.2L459.4 284.1L456.8 282.9L454.3 281.8L451.7 280.6L449.1 279.4L446.5 278.3L443.9 277.1L441.3 276L438.8 274.8L436.2 273.6L433.6 272.5L431 271.3L428.4 270.2L425.9 269L423.3 267.8L420.7 266.7L418.1 265.5L415.5 264.3L412.9 263.2L410.4 262L407.8 260.8L405.2 259.7L70.2 266.2 Z" fill="#fff"/>
<path d="M289.7 367.6L624.7 345.7L624.7 345.7L622.1 345.8L619.5 345.8L616.9 345.5L614.3 345.2L611.8 344.8L609.2 344.3L606.6 343.7L604 343L601.4 342.3L598.9 341.6L596.3 340.8L593.7 340L591.1 339.1L588.5 338.3L585.9 337.4L583.4 336.4L580.8 335.5L578.2 334.6L575.6 333.6L573 332.6L570.4 331.6L567.9 330.6L565.3 329.6L562.7 328.6L560.1 327.5L557.5 326.5L555 325.4L552.4 324.4L549.8 323.3L547.2 322.3L544.6 321.2L542 320.1L539.5 319L536.9 317.9L534.3 316.8L531.7 315.7L529.1 314.6L526.6 313.5L524 312.4L521.4 311.3L518.8 310.2L516.2 309.1L513.6 308L511.1 306.9L508.5 305.7L505.9 304.6L503.3 303.5L500.7 302.4L498.2 301.2L495.6 300.1L493 299L490.4 297.8L487.8 296.7L485.2 295.5L482.7 294.4L480.1 293.3L477.5 292.1L474.9 291L472.3 289.8L469.8 288.7L467.2 287.5L464.6 286.4L462 285.2L459.4 284.1L456.8 282.9L454.3 281.8L451.7 280.6L449.1 279.4L446.5 278.3L443.9 277.1L441.3 276L438.8 274.8L436.2 273.6L433.6 272.5L431 271.3L428.4 270.2L425.9 269L423.3 267.8L420.7 266.7L418.1 265.5L415.5 264.3L412.9 263.2L410.4 262L407.8 260.8L405.2 259.7L70.2 266.2 Z" fill="url(#ul)" fill-opacity="0.7"/>
<g fill="none" stroke-width="1">
<path d="M70.2 266.2L405.2 259.7" stroke="url(#p99)"/>
<path d="M72.8 267.4L407.8 260.8" stroke="url(#p98)"/>
<path d="M75.4 268.6L410.4 262" stroke="url(#p97)"/>
<path d="M77.9 269.8L412.9 263.2" stroke="url(#p96)"/>
<path d="M80.5 271L415.5 264.3" stroke="url(#p95)"/>
<path d="M83.1 272.2L418.1 265.5" stroke="url(#p94)"/>
<path d="M85.7 273.4L420.7 266.7" stroke="url(#p93)"/>
<path d="M88.3 274.6L423.3 267.8" stroke="url(#p92)"/>
<path d="M90.9 275.8L425.9 269" stroke="url(#p91)"/>
<path d="M93.4 277L428.4 270.2" stroke="url(#p90)"/>
<path d="M96 278.2L431 271.3" stroke="url(#p89)"/>
<path d="M98.6 279.3L433.6 272.5" stroke="url(#p88)"/>
<path d="M101.2 280.5L436.2 273.6" stroke="url(#p87)"/>
<path d="M103.8 281.7L438.8 274.8" stroke="url(#p86)"/>
<path d="M106.3 282.9L441.3 276" stroke="url(#p85)"/>
<path d="M108.9 284.1L443.9 277.1" stroke="url(#p84)"/>
<path d="M111.5 285.3L446.5 278.3" stroke="url(#p83)"/>
<path d="M114.1 286.5L449.1 279.4" stroke="url(#p82)"/>
<path d="M116.7 287.7L451.7 280.6" stroke="url(#p81)"/>
<path d="M119.3 288.9L454.3 281.8" stroke="url(#p80)"/>
<path d="M121.8 290.1L456.8 282.9" stroke="url(#p79)"/>
<path d="M124.4 291.3L459.4 284.1" stroke="url(#p78)"/>
<path d="M127 292.5L462 285.2" stroke="url(#p77)"/>
<path d="M129.6 293.6L464.6 286.4" stroke="url(#p76)"/>
<path d="M132.2 294.8L467.2 287.5" stroke="url(#p75)"/>
<path d="M134.8 296L469.8 288.7" stroke="url(#p74)"/>
<path d="M137.3 297.2L472.3 289.8" stroke="url(#p73)"/>
<path d="M139.9 298.4L474.9 291" stroke="url(#p72)"/>
<path d="M142.5 299.6L477.5 292.1" stroke="url(#p71)"/>
<path d="M145.1 300.8L480.1 293.3" stroke="url(#p70)"/>
<path d="M147.7 302L482.7 294.4" stroke="url(#p69)"/>
<path d="M150.2 303.2L485.2 295.5" stroke="url(#p68)"/>
<path d="M152.8 304.4L487.8 296.7" stroke="url(#p67)"/>
<path d="M155.4 305.6L490.4 297.8" stroke="url(#p66)"/>
<path d="M158 306.8L493 299" stroke="url(#p65)"/>
<path d="M160.6 308L495.6 300.1" stroke="url(#p64)"/>
<path d="M163.2 309.1L498.2 301.2" stroke="url(#p63)"/>
<path d="M165.7 310.3L500.7 302.4" stroke="url(#p62)"/>
<path d="M168.3 311.5L503.3 303.5" stroke="url(#p61)"/>
<path d="M170.9 312.7L505.9 304.6" stroke="url(#p60)"/>
<path d="M173.5 313.9L508.5 305.7" stroke="url(#p59)"/>
<path d="M176.1 315.1L511.1 306.9" stroke="url(#p58)"/>
<path d="M178.6 316.3L513.6 308" stroke="url(#p57)"/>
<path d="M181.2 317.5L516.2 309.1" stroke="url(#p56)"/>
<path d="M183.8 318.7L518.8 310.2" stroke="url(#p55)"/>
<path d="M186.4 319.9L521.4 311.3" stroke="url(#p54)"/>
<path d="M189 321.1L524 312.4" stroke="url(#p53)"/>
<path d="M191.6 322.3L526.6 313.5" stroke="url(#p52)"/>
<path d="M194.1 323.5L529.1 314.6" stroke="url(#p51)"/>
<path d="M196.7 324.6L531.7 315.7" stroke="url(#p50)"/>
<path d="M199.3 325.8L534.3 316.8" stroke="url(#p49)"/>
<path d="M201.9 327L536.9 317.9" stroke="url(#p48)"/>
<path d="M204.5 328.2L539.5 319" stroke="url(#p47)"/>
<path d="M207 329.4L542 320.1" stroke="url(#p46)"/>
<path d="M209.6 330.6L544.6 321.2" stroke="url(#p45)"/>
<path d="M212.2 331.8L547.2 322.3" stroke="url(#p44)"/>
<path d="M214.8 333L549.8 323.3" stroke="url(#p43)"/>
<path d="M217.4 334.2L552.4 324.4" stroke="url(#p42)"/>
<path d="M220 335.4L555 325.4" stroke="url(#p41)"/>
<path d="M222.5 336.6L557.5 326.5" stroke="url(#p40)"/>
<path d="M225.1 337.8L560.1 327.5" stroke="url(#p39)"/>
<path d="M227.7 339L562.7 328.6" stroke="url(#p38)"/>
<path d="M230.3 340.1L565.3 329.6" stroke="url(#p37)"/>
<path d="M232.9 341.3L567.9 330.6" stroke="url(#p36)"/>
<path d="M235.4 342.5L570.4 331.6" stroke="url(#p35)"/>
<path d="M238 343.7L573 332.6" stroke="url(#p34)"/>
<path d="M240.6 344.9L575.6 333.6" stroke="url(#p33)"/>
<path d="M243.2 346.1L578.2 334.6" stroke="url(#p32)"/>
<path d="M245.8 347.3L580.8 335.5" stroke="url(#p31)"/>
<path d="M248.4 348.5L583.4 336.4" stroke="url(#p30)"/>
<path d="M250.9 349.7L585.9 337.4" stroke="url(#p29)"/>
<path d="M253.5 350.9L588.5 338.3" stroke="url(#p28)"/>
<path d="M256.1 352.1L591.1 339.1" stroke="url(#p27)"/>
<path d="M258.7 353.3L593.7 340" stroke="url(#p26)"/>
<path d="M261.3 354.4L596.3 340.8" stroke="url(#p25)"/>
<path d="M263.9 355.6L598.9 341.6" stroke="url(#p24)"/>
<path d="M266.4 356.8L601.4 342.3" stroke="url(#p23)"/>
<path d="M269 358L604 343" stroke="url(#p22)"/>
<path d="M271.6 359.2L606.6 343.7" stroke="url(#p21)"/>
<path d="M274.2 360.4L609.2 344.3" stroke="url(#p20)"/>
<path d="M276.8 361.6L611.8 344.8" stroke="url(#p19)"/>
<path d="M279.3 362.8L614.3 345.2" stroke="url(#p18)"/>
<path d="M281.9 364L616.9 345.5" stroke="url(#p17)"/>
<path d="M284.5 365.2L619.5 345.8" stroke="url(#p16)"/>
<path d="M287.1 366.4L622.1 345.8" stroke="url(#p15)"/>
<path d="M624.7 345.7L604 343L583.4 336.4L562.7 328.6L542 320.1L521.4 311.3L500.7 302.4L480.1 293.3L459.4 284.1L438.8 274.8L418.1 265.5L405.2 259.7" stroke="#0090ff"/>
<path d="M621.3 346L600.7 343.2L580 336.6L559.4 328.7L538.7 320.2L518 311.4L497.4 302.4L476.7 293.3L456.1 284.1L435.4 274.9L414.8 265.6L401.8 259.7" stroke="#0092ff"/>
<path d="M618 346.2L597.3 343.3L576.7 336.7L556 328.8L535.3 320.3L514.7 311.5L494 302.5L473.4 293.4L452.7 284.2L432.1 274.9L411.4 265.6L398.5 259.8" stroke="#0095ff"/>
<path d="M614.6 346.4L594 343.5L573.3 336.8L552.7 328.9L532 320.4L511.3 311.6L490.7 302.6L470 293.5L449.4 284.3L428.7 275L408.1 265.7L395.2 259.9" stroke="#0097ff"/>
<path d="M611.3 346.6L590.6 343.6L570 336.9L549.3 329L528.6 320.5L508 311.7L487.3 302.7L466.7 293.6L446 284.3L425.4 275.1L404.7 265.8L391.8 259.9" stroke="#0099ff"/>
<path d="M607.9 346.8L587.3 343.8L566.6 337L546 329.1L525.3 320.6L504.6 311.8L484 302.8L463.3 293.6L442.7 284.4L422 275.2L401.4 265.8L388.4 260" stroke="#009cff"/>
<path d="M604.6 347L583.9 343.9L563.3 337.2L542.6 329.2L521.9 320.7L501.3 311.8L480.6 302.8L460 293.7L439.3 284.5L418.7 275.2L398 265.9L385.1 260.1" stroke="#009eff"/>
<path d="M601.2 347.3L580.6 344.1L559.9 337.3L539.3 329.3L518.6 320.8L497.9 311.9L477.3 302.9L456.6 293.8L436 284.6L415.3 275.3L394.7 266L381.7 260.1" stroke="#00a1ff"/>
<path d="M597.9 347.5L577.2 344.2L556.6 337.4L535.9 329.4L515.2 320.9L494.6 312L473.9 303L453.3 293.9L432.6 284.6L412 275.4L391.3 266L378.4 260.2" stroke="#00a3ff"/>
<path d="M594.5 347.7L573.9 344.4L553.2 337.5L532.6 329.5L511.9 320.9L491.2 312.1L470.6 303.1L449.9 293.9L429.3 284.7L408.6 275.4L388 266.1L375.1 260.3" stroke="#00a5ff"/>
<path d="M591.2 347.9L570.5 344.5L549.9 337.7L529.2 329.6L508.5 321L487.9 312.2L467.2 303.2L446.6 294L425.9 284.8L405.3 275.5L384.6 266.2L371.7 260.3" stroke="#00a8ff"/>
<path d="M587.8 348.1L567.2 344.7L546.5 337.8L525.9 329.7L505.2 321.1L484.5 312.3L463.9 303.2L443.2 294.1L422.6 284.9L401.9 275.6L381.3 266.2L368.3 260.4" stroke="#00aaff"/>
<path d="M584.5 348.4L563.8 344.8L543.2 337.9L522.5 329.8L501.8 321.2L481.2 312.4L460.5 303.3L439.9 294.2L419.2 284.9L398.6 275.6L377.9 266.3L365 260.5" stroke="#00adff"/>
<path d="M581.1 348.6L560.5 345L539.8 338L519.2 329.9L498.5 321.3L477.8 312.4L457.2 303.4L436.5 294.2L415.9 285L395.2 275.7L374.6 266.4L361.7 260.5" stroke="#00afff"/>
<path d="M577.8 348.8L557.1 345.1L536.5 338.1L515.8 330L495.1 321.4L474.5 312.5L453.8 303.5L433.2 294.3L412.5 285.1L391.9 275.8L371.2 266.4L358.3 260.6" stroke="#00b1ff"/>
<path d="M574.4 349L553.8 345.3L533.1 338.3L512.5 330.1L491.8 321.5L471.1 312.6L450.5 303.6L429.8 294.4L409.2 285.1L388.5 275.8L367.9 266.5L354.9 260.7" stroke="#00b4ff"/>
<path d="M571.1 349.2L550.4 345.4L529.8 338.4L509.1 330.2L488.4 321.6L467.8 312.7L447.1 303.6L426.5 294.5L405.8 285.2L385.2 275.9L364.5 266.6L351.6 260.7" stroke="#00b6ff"/>
<path d="M567.7 349.4L547.1 345.6L526.4 338.5L505.8 330.3L485.1 321.7L464.4 312.8L443.8 303.7L423.1 294.5L402.5 285.3L381.8 276L361.2 266.6L348.2 260.8" stroke="#00b8ff"/>
<path d="M564.4 349.7L543.7 345.7L523.1 338.6L502.4 330.4L481.7 321.8L461.1 312.9L440.4 303.8L419.8 294.6L399.1 285.4L378.5 276.1L357.8 266.7L344.9 260.9" stroke="#00bbff"/>
<path d="M561 349.9L540.4 345.9L519.7 338.7L499.1 330.5L478.4 321.9L457.7 313L437.1 303.9L416.4 294.7L395.8 285.4L375.1 276.1L354.5 266.8L341.6 260.9" stroke="#00bdff"/>
<path d="M557.7 350.1L537 346L516.4 338.9L495.7 330.6L475 322L454.4 313L433.7 303.9L413.1 294.8L392.4 285.5L371.8 276.2L351.1 266.8L338.2 261" stroke="#00c0ff"/>
<path d="M554.3 350.3L533.7 346.2L513 339L492.4 330.8L471.7 322.1L451 313.1L430.4 304L409.7 294.8L389.1 285.6L368.4 276.3L347.8 266.9L334.9 261" stroke="#00c2ff"/>
<path d="M551 350.5L530.3 346.3L509.7 339.1L489 330.9L468.3 322.2L447.7 313.2L427 304.1L406.4 294.9L385.7 285.6L365.1 276.3L344.4 267L331.5 261.1" stroke="#00c4ff"/>
<path d="M547.6 350.8L527 346.5L506.3 339.2L485.7 331L465 322.2L444.3 313.3L423.7 304.2L403 295L382.4 285.7L361.7 276.4L341.1 267L328.2 261.2" stroke="#00c7ff"/>
<path d="M544.3 351L523.6 346.6L503 339.3L482.3 331.1L461.6 322.3L441 313.4L420.3 304.3L399.7 295.1L379 285.8L358.4 276.5L337.7 267.1L324.8 261.2" stroke="#00c9ff"/>
<path d="M540.9 351.2L520.3 346.8L499.6 339.5L479 331.2L458.3 322.4L437.6 313.5L417 304.3L396.3 295.1L375.7 285.9L355 276.5L334.4 267.2L321.4 261.3" stroke="#00ccff"/>
<path d="M537.6 351.4L516.9 346.9L496.3 339.6L475.6 331.3L454.9 322.5L434.3 313.6L413.6 304.4L393 295.2L372.3 285.9L351.7 276.6L331 267.2L318.1 261.4" stroke="#00ceff"/>
<path d="M534.2 351.6L513.6 347.1L492.9 339.7L472.3 331.4L451.6 322.6L430.9 313.6L410.3 304.5L389.6 295.3L369 286L348.3 276.7L327.7 267.3L314.7 261.4" stroke="#00d0ff"/>
<path d="M530.9 351.8L510.2 347.2L489.6 339.8L468.9 331.5L448.2 322.7L427.6 313.7L406.9 304.6L386.3 295.4L365.6 286.1L345 276.7L324.3 267.4L311.4 261.5" stroke="#00d3ff"/>
<path d="M527.5 352.1L506.9 347.4L486.2 339.9L465.6 331.6L444.9 322.8L424.2 313.8L403.6 304.7L382.9 295.4L362.3 286.1L341.6 276.8L321 267.4L308.1 261.6" stroke="#00d5ff"/>
<path d="M524.2 352.3L503.5 347.5L482.9 340.1L462.2 331.7L441.5 322.9L420.9 313.9L400.2 304.7L379.6 295.5L358.9 286.2L338.3 276.9L317.6 267.5L304.7 261.6" stroke="#00d7ff"/>
<path d="M520.8 352.5L500.2 347.7L479.5 340.2L458.9 331.8L438.2 323L417.5 314L396.9 304.8L376.2 295.6L355.6 286.3L334.9 277L314.3 267.6L301.3 261.7" stroke="#00daff"/>
<path d="M517.5 352.7L496.8 347.8L476.2 340.3L455.5 331.9L434.8 323.1L414.2 314.1L393.5 304.9L372.9 295.7L352.2 286.4L331.6 277L310.9 267.6L298 261.8" stroke="#00dcff"/>
<path d="M514.1 352.9L493.5 348L472.8 340.4L452.2 332L431.5 323.2L410.8 314.1L390.2 305L369.5 295.7L348.9 286.4L328.2 277.1L307.6 267.7L294.7 261.8" stroke="#00dfff"/>
<path d="M510.8 353.2L490.1 348.1L469.5 340.5L448.8 332.1L428.1 323.3L407.5 314.2L386.8 305.1L366.2 295.8L345.5 286.5L324.9 277.2L304.2 267.8L291.3 261.9" stroke="#00e1ff"/>
<path d="M507.4 353.4L486.8 348.3L466.1 340.7L445.5 332.2L424.8 323.4L404.1 314.3L383.5 305.1L362.8 295.9L342.2 286.6L321.5 277.2L300.9 267.8L287.9 262" stroke="#00e3ff"/>
<path d="M504.1 353.6L483.4 348.4L462.8 340.8L442.1 332.3L421.4 323.5L400.8 314.4L380.1 305.2L359.5 296L338.8 286.7L318.2 277.3L297.5 267.9L284.6 262" stroke="#00e6ff"/>
<path d="M500.7 353.8L480.1 348.6L459.4 340.9L438.8 332.4L418.1 323.6L397.4 314.5L376.8 305.3L356.1 296L335.5 286.7L314.8 277.4L294.2 268L281.2 262.1" stroke="#00e8ff"/>
<path d="M497.4 354L476.7 348.7L456.1 341L435.4 332.5L414.7 323.6L394.1 314.6L373.4 305.4L352.8 296.1L332.1 286.8L311.5 277.4L290.8 268L277.9 262.2" stroke="#00ebff"/>
<path d="M494 354.2L473.4 348.9L452.7 341.1L432.1 332.6L411.4 323.7L390.7 314.7L370.1 305.5L349.4 296.2L328.8 286.9L308.1 277.5L287.5 268.1L274.6 262.2" stroke="#00edff"/>
<path d="M490.7 354.5L470 349L449.4 341.3L428.7 332.7L408 323.8L387.4 314.7L366.7 305.5L346.1 296.3L325.4 286.9L304.8 277.6L284.1 268.2L271.2 262.3" stroke="#00efff"/>
<path d="M487.3 354.7L466.7 349.2L446 341.4L425.4 332.8L404.7 323.9L384 314.8L363.4 305.6L342.7 296.3L322.1 287L301.4 277.6L280.8 268.2L267.8 262.4" stroke="#00f2ff"/>
<path d="M484 354.9L463.3 349.3L442.7 341.5L422 332.9L401.3 324L380.7 314.9L360 305.7L339.4 296.4L318.7 287.1L298.1 277.7L277.4 268.3L264.5 262.4" stroke="#00f4ff"/>
<path d="M480.6 355.1L460 349.5L439.3 341.6L418.7 333L398 324.1L377.3 315L356.7 305.8L336 296.5L315.4 287.2L294.7 277.8L274.1 268.4L261.2 262.5" stroke="#00f7ff"/>
<path d="M477.3 355.3L456.6 349.6L436 341.7L415.3 333.1L394.6 324.2L374 315.1L353.3 305.9L332.7 296.6L312 287.2L291.4 277.9L270.7 268.4L257.8 262.6" stroke="#00f9ff"/>
<path d="M473.9 355.6L453.3 349.8L432.6 341.9L412 333.2L391.3 324.3L370.6 315.2L350 305.9L329.3 296.6L308.7 287.3L288 277.9L267.4 268.5L254.4 262.6" stroke="#00fbff"/>
<path d="M470.6 355.8L449.9 349.9L429.3 342L408.6 333.3L387.9 324.4L367.3 315.3L346.6 306L326 296.7L305.3 287.4L284.7 278L264 268.6L251.1 262.7" stroke="#00feff"/>
<path d="M467.2 356L446.6 350.1L425.9 342.1L405.3 333.5L384.6 324.5L363.9 315.3L343.3 306.1L322.6 296.8L302 287.4L281.3 278.1L260.7 268.6L247.8 262.8" stroke="#01fffe"/>
<path d="M463.9 356.2L443.2 350.2L422.6 342.2L401.9 333.6L381.2 324.6L360.6 315.4L339.9 306.2L319.3 296.9L298.6 287.5L278 278.1L257.3 268.7L244.4 262.8" stroke="#03fffc"/>
<path d="M460.5 356.4L439.9 350.4L419.2 342.3L398.6 333.7L377.9 324.7L357.2 315.5L336.6 306.3L315.9 297L295.3 287.6L274.6 278.2L254 268.8L241.1 262.9" stroke="#06fff9"/>
<path d="M457.2 356.6L436.5 350.5L415.9 342.5L395.2 333.8L374.5 324.8L353.9 315.6L333.2 306.3L312.6 297L291.9 287.7L271.3 278.3L250.6 268.8L237.7 263" stroke="#08fff7"/>
<path d="M453.8 356.9L433.2 350.7L412.5 342.6L391.9 333.9L371.2 324.9L350.5 315.7L329.9 306.4L309.2 297.1L288.6 287.7L267.9 278.3L247.3 268.9L234.3 263" stroke="#0bfff4"/>
<path d="M450.5 357.1L429.8 350.8L409.2 342.7L388.5 334L367.8 324.9L347.2 315.8L326.5 306.5L305.9 297.2L285.2 287.8L264.6 278.4L243.9 269L231 263.1" stroke="#0dfff2"/>
<path d="M447.1 357.3L426.5 351L405.8 342.8L385.2 334.1L364.5 325L343.8 315.9L323.2 306.6L302.5 297.3L281.9 287.9L261.2 278.5L240.6 269L227.7 263.1" stroke="#0ffff0"/>
<path d="M443.8 357.5L423.1 351.1L402.5 342.9L381.8 334.2L361.1 325.1L340.5 315.9L319.8 306.7L299.2 297.3L278.5 288L257.9 278.5L237.2 269.1L224.3 263.2" stroke="#12ffed"/>
<path d="M440.4 357.7L419.8 351.3L399.1 343.1L378.5 334.3L357.8 325.2L337.1 316L316.5 306.7L295.8 297.4L275.2 288L254.5 278.6L233.9 269.2L220.9 263.3" stroke="#14ffeb"/>
<path d="M437.1 358L416.4 351.4L395.8 343.2L375.1 334.4L354.4 325.3L333.8 316.1L313.1 306.8L292.5 297.5L271.8 288.1L251.2 278.7L230.5 269.2L217.6 263.3" stroke="#17ffe8"/>
<path d="M433.7 358.2L413.1 351.6L392.4 343.3L371.8 334.5L351.1 325.4L330.4 316.2L309.8 306.9L289.1 297.6L268.5 288.2L247.8 278.8L227.2 269.3L214.2 263.4" stroke="#19ffe6"/>
<path d="M430.4 358.4L409.7 351.7L389.1 343.4L368.4 334.6L347.7 325.5L327.1 316.3L306.4 307L285.8 297.6L265.1 288.2L244.5 278.8L223.8 269.4L210.9 263.5" stroke="#1bffe4"/>
<path d="M427 358.6L406.4 351.9L385.7 343.6L365.1 334.7L344.4 325.6L323.7 316.4L303.1 307.1L282.4 297.7L261.8 288.3L241.1 278.9L220.5 269.4L207.6 263.5" stroke="#1effe1"/>
<path d="M423.7 358.8L403 352L382.4 343.7L361.7 334.8L341 325.7L320.4 316.5L299.7 307.1L279.1 297.8L258.4 288.4L237.8 279L217.1 269.5L204.2 263.6" stroke="#20ffdf"/>
<path d="M420.3 359L399.7 352.2L379 343.8L358.4 334.9L337.7 325.8L317 316.5L296.4 307.2L275.7 297.9L255.1 288.5L234.4 279L213.8 269.6L200.8 263.7" stroke="#22ffdd"/>
<path d="M417 359.3L396.3 352.3L375.7 343.9L355 335L334.3 325.9L313.7 316.6L293 307.3L272.4 297.9L251.7 288.5L231.1 279.1L210.4 269.6L197.5 263.7" stroke="#25ffda"/>
<path d="M413.6 359.5L393 352.5L372.3 344L351.7 335.1L331 326L310.3 316.7L289.7 307.4L269 298L248.4 288.6L227.7 279.2L207.1 269.7L194.1 263.8" stroke="#27ffd8"/>
<path d="M410.3 359.7L389.6 352.6L369 344.2L348.3 335.2L327.6 326.1L307 316.8L286.3 307.5L265.7 298.1L245 288.7L224.4 279.2L203.7 269.8L190.8 263.9" stroke="#2affd5"/>
<path d="M406.9 359.9L386.3 352.8L365.6 344.3L345 335.3L324.3 326.2L303.6 316.9L283 307.5L262.3 298.2L241.7 288.7L221 279.3L200.4 269.9L187.4 263.9" stroke="#2cffd3"/>
<path d="M403.6 360.1L382.9 352.9L362.3 344.4L341.6 335.4L320.9 326.3L300.3 317L279.6 307.6L259 298.2L238.3 288.8L217.7 279.4L197 269.9L184.1 264" stroke="#2effd1"/>
<path d="M400.2 360.4L379.6 353.1L358.9 344.5L338.3 335.5L317.6 326.3L296.9 317.1L276.3 307.7L255.6 298.3L235 288.9L214.3 279.4L193.7 270L180.8 264.1" stroke="#31ffce"/>
<path d="M396.9 360.6L376.2 353.2L355.6 344.6L334.9 335.6L314.2 326.4L293.6 317.1L272.9 307.8L252.3 298.4L231.6 289L211 279.5L190.3 270.1L177.4 264.1" stroke="#33ffcc"/>
<path d="M393.5 360.8L372.9 353.4L352.2 344.8L331.6 335.7L310.9 326.5L290.2 317.2L269.6 307.9L248.9 298.5L228.3 289L207.6 279.6L187 270.1L174.1 264.2" stroke="#36ffc9"/>
<path d="M390.2 361L369.5 353.5L348.9 344.9L328.2 335.8L307.5 326.6L286.9 317.3L266.2 307.9L245.6 298.5L224.9 289.1L204.3 279.7L183.6 270.2L170.7 264.3" stroke="#38ffc7"/>
<path d="M386.8 361.2L366.2 353.7L345.5 345L324.9 335.9L304.2 326.7L283.5 317.4L262.9 308L242.2 298.6L221.6 289.2L200.9 279.7L180.3 270.3L167.3 264.3" stroke="#3affc5"/>
<path d="M383.5 361.5L362.8 353.8L342.2 345.1L321.5 336L300.8 326.8L280.2 317.5L259.5 308.1L238.9 298.7L218.2 289.2L197.6 279.8L176.9 270.3L164 264.4" stroke="#3dffc2"/>
<path d="M380.1 361.7L359.5 354L338.8 345.2L318.2 336.1L297.5 326.9L276.8 317.6L256.2 308.2L235.5 298.8L214.9 289.3L194.2 279.9L173.6 270.4L160.6 264.5" stroke="#3fffc0"/>
<path d="M376.8 361.9L356.1 354.1L335.5 345.4L314.8 336.3L294.1 327L273.5 317.7L252.8 308.3L232.2 298.8L211.5 289.4L190.9 279.9L170.2 270.5L157.3 264.5" stroke="#41ffbe"/>
<path d="M373.4 362.1L352.8 354.3L332.1 345.5L311.5 336.4L290.8 327.1L270.1 317.7L249.5 308.3L228.8 298.9L208.2 289.5L187.5 280L166.9 270.5L153.9 264.6" stroke="#44ffbb"/>
<path d="M370.1 362.3L349.4 354.4L328.8 345.6L308.1 336.5L287.4 327.2L266.8 317.8L246.1 308.4L225.5 299L204.8 289.5L184.2 280.1L163.5 270.6L150.6 264.7" stroke="#46ffb9"/>
<path d="M366.7 362.5L346.1 354.6L325.4 345.7L304.8 336.6L284.1 327.3L263.4 317.9L242.8 308.5L222.1 299.1L201.5 289.6L180.8 280.1L160.2 270.7L147.2 264.7" stroke="#49ffb6"/>
<path d="M363.4 362.8L342.7 354.7L322.1 345.8L301.4 336.7L280.7 327.4L260.1 318L239.4 308.6L218.8 299.1L198.1 289.7L177.5 280.2L156.8 270.7L143.9 264.8" stroke="#4bffb4"/>
<path d="M360 363L339.4 354.9L318.7 346L298.1 336.8L277.4 327.5L256.7 318.1L236.1 308.7L215.4 299.2L194.8 289.8L174.1 280.3L153.5 270.8L140.6 264.9" stroke="#4dffb2"/>
<path d="M356.7 363.2L336 355L315.4 346.1L294.7 336.9L274 327.6L253.4 318.2L232.7 308.7L212.1 299.3L191.4 289.8L170.8 280.3L150.1 270.9L137.2 264.9" stroke="#50ffaf"/>
<path d="M353.3 363.4L332.7 355.2L312 346.2L291.4 337L270.7 327.6L250 318.3L229.4 308.8L208.7 299.4L188.1 289.9L167.4 280.4L146.8 270.9L133.8 265" stroke="#52ffad"/>
<path d="M350 363.6L329.3 355.3L308.7 346.3L288 337.1L267.3 327.7L246.7 318.3L226 308.9L205.4 299.4L184.7 290L164.1 280.5L143.4 271L130.5 265" stroke="#55ffaa"/>
<path d="M346.6 363.9L326 355.5L305.3 346.4L284.7 337.2L264 327.8L243.3 318.4L222.7 309L202 299.5L181.4 290L160.7 280.6L140.1 271.1L127.1 265.1" stroke="#57ffa8"/>
<path d="M343.3 364.1L322.6 355.6L302 346.6L281.3 337.3L260.6 327.9L240 318.5L219.3 309.1L198.7 299.6L178 290.1L157.4 280.6L136.7 271.1L123.8 265.2" stroke="#59ffa6"/>
<path d="M339.9 364.3L319.3 355.8L298.6 346.7L278 337.4L257.3 328L236.6 318.6L216 309.1L195.3 299.7L174.7 290.2L154 280.7L133.4 271.2L120.4 265.2" stroke="#5cffa3"/>
<path d="M336.6 364.5L315.9 355.9L295.3 346.8L274.6 337.5L253.9 328.1L233.3 318.7L212.6 309.2L192 299.7L171.3 290.3L150.7 280.8L130 271.3L117.1 265.3" stroke="#5effa1"/>
<path d="M333.2 364.7L312.6 356.1L291.9 346.9L271.3 337.6L250.6 328.2L229.9 318.8L209.3 309.3L188.6 299.8L168 290.3L147.3 280.8L126.7 271.3L113.8 265.4" stroke="#60ff9f"/>
<path d="M329.9 364.9L309.2 356.2L288.6 347L267.9 337.7L247.2 328.3L226.6 318.9L205.9 309.4L185.3 299.9L164.6 290.4L144 280.9L123.3 271.4L110.4 265.4" stroke="#63ff9c"/>
<path d="M326.5 365.2L305.9 356.4L285.2 347.2L264.6 337.8L243.9 328.4L223.2 318.9L202.6 309.5L181.9 300L161.3 290.5L140.6 281L120 271.5L107.1 265.5" stroke="#65ff9a"/>
<path d="M323.2 365.4L302.5 356.5L281.9 347.3L261.2 337.9L240.5 328.5L219.9 319L199.2 309.5L178.6 300L157.9 290.5L137.3 281L116.6 271.5L103.7 265.6" stroke="#68ff97"/>
<path d="M319.8 365.6L299.2 356.7L278.5 347.4L257.9 338L237.2 328.6L216.5 319.1L195.9 309.6L175.2 300.1L154.6 290.6L133.9 281.1L113.3 271.6L100.3 265.6" stroke="#6aff95"/>
<path d="M316.5 365.8L295.8 356.8L275.2 347.5L254.5 338.1L233.8 328.7L213.2 319.2L192.5 309.7L171.9 300.2L151.2 290.7L130.6 281.2L109.9 271.7L97 265.7" stroke="#6cff93"/>
<path d="M313.1 366L292.5 357L271.8 347.6L251.2 338.2L230.5 328.8L209.8 319.3L189.2 309.8L168.5 300.3L147.9 290.8L127.2 281.2L106.6 271.7L93.6 265.8" stroke="#6fff90"/>
<path d="M309.8 366.3L289.1 357.1L268.5 347.8L247.8 338.3L227.1 328.9L206.5 319.4L185.8 309.9L165.2 300.3L144.5 290.8L123.9 281.3L103.2 271.8L90.3 265.8" stroke="#71ff8e"/>
<path d="M306.4 366.5L285.8 357.3L265.1 347.9L244.5 338.4L223.8 328.9L203.1 319.4L182.5 309.9L161.8 300.4L141.2 290.9L120.5 281.4L99.9 271.9L86.9 265.9" stroke="#74ff8b"/>
<path d="M303.1 366.7L282.4 357.4L261.8 348L241.1 338.5L220.4 329L199.8 319.5L179.1 310L158.5 300.5L137.8 291L117.2 281.5L96.5 271.9L83.6 266" stroke="#76ff89"/>
<path d="M299.7 366.9L279.1 357.6L258.4 348.1L237.8 338.6L217.1 329.1L196.4 319.6L175.8 310.1L155.1 300.6L134.5 291L113.8 281.5L93.2 272L80.2 266" stroke="#78ff87"/>
<path d="M296.4 367.1L275.7 357.7L255.1 348.2L234.4 338.7L213.7 329.2L193.1 319.7L172.4 310.2L151.8 300.7L131.1 291.1L110.5 281.6L89.8 272.1L76.9 266.1" stroke="#7bff84"/>
<path d="M293 367.3L272.4 357.9L251.7 348.4L231.1 338.8L210.4 329.3L189.7 319.8L169.1 310.3L148.4 300.7L127.8 291.2L107.1 281.7L86.5 272.1L73.6 266.2" stroke="#7dff82"/>
<path d="M289.7 367.6L269 358L248.4 348.5L227.7 339L207 329.4L186.4 319.9L165.7 310.3L145.1 300.8L124.4 291.3L103.8 281.7L83.1 272.2L70.2 266.2" stroke="#80ff80"/>
</g>
<g fill="none" stroke-width="0.9">
<path d="M292.3 368.8L627.3 345.4L624.7 345.7L289.7 367.6Z" fill="url(#sf)"/>
<path d="M289.7 367.6L624.7 345.7" stroke="url(#s14)"/>
<path d="M295.6 368.5L293 367.3M299 368.3L296.4 367.1M302.3 368.1L299.7 366.9M305.7 367.8L303.1 366.7M309 367.6L306.4 366.5M312.4 367.4L309.8 366.3M315.7 367.1L313.1 366M319.1 366.9L316.5 365.8" stroke="#7f8"/>
<path d="M322.4 366.7L319.8 365.6M325.8 366.4L323.2 365.4M329.1 366.2L326.5 365.2M332.5 366L329.9 364.9M335.8 365.7L333.2 364.7M339.2 365.5L336.6 364.5M342.5 365.3L339.9 364.3M345.9 365L343.3 364.1" stroke="#6f9"/>
<path d="M349.2 364.8L346.6 363.9M352.6 364.6L350 363.6M355.9 364.3L353.3 363.4M359.3 364.1L356.7 363.2M362.6 363.9L360 363M366 363.6L363.4 362.8M369.3 363.4L366.7 362.5M372.7 363.2L370.1 362.3M376 362.9L373.4 362.1" stroke="#5fa"/>
<path d="M379.4 362.7L376.8 361.9M382.7 362.5L380.1 361.7M386.1 362.2L383.5 361.5M389.4 362L386.8 361.2M392.8 361.8L390.2 361M396.1 361.5L393.5 360.8M399.5 361.3L396.9 360.6M402.8 361.1L400.2 360.4" stroke="#4fb"/>
<path d="M406.2 360.8L403.6 360.1M409.5 360.6L406.9 359.9M412.9 360.4L410.3 359.7M416.2 360.1L413.6 359.5M419.6 359.9L417 359.3M422.9 359.7L420.3 359M426.3 359.4L423.7 358.8M429.6 359.2L427 358.6M433 359L430.4 358.4" stroke="#3fc"/>
<path d="M436.3 358.7L433.7 358.2M439.7 358.5L437.1 358M443 358.3L440.4 357.7M446.4 358L443.8 357.5M449.7 357.8L447.1 357.3M453.1 357.6L450.5 357.1M456.4 357.3L453.8 356.9M459.8 357.1L457.2 356.6" stroke="#2fd"/>
<path d="M463.1 356.9L460.5 356.4M466.5 356.6L463.9 356.2M469.8 356.4L467.2 356M473.2 356.2L470.6 355.8M476.5 355.9L473.9 355.6M479.9 355.7L477.3 355.3M483.2 355.5L480.6 355.1M486.6 355.2L484 354.9M489.9 355L487.3 354.7" stroke="#1fe"/>
<path d="M493.3 354.8L490.7 354.5M496.6 354.5L494 354.2M500 354.3L497.4 354M503.3 354.1L500.7 353.8M506.7 353.8L504.1 353.6M510 353.6L507.4 353.4M513.4 353.4L510.8 353.2M516.7 353.1L514.1 352.9" stroke="#0ff"/>
<path d="M520.1 352.9L517.5 352.7M523.4 352.7L520.8 352.5M526.8 352.4L524.2 352.3M530.1 352.2L527.5 352.1M533.5 352L530.9 351.8M536.8 351.7L534.2 351.6M540.2 351.5L537.6 351.4M543.5 351.3L540.9 351.2M546.9 351L544.3 351" stroke="#0ef"/>
<path d="M550.2 350.8L547.6 350.8M553.6 350.6L551 350.5M556.9 350.3L554.3 350.3M560.3 350.1L557.7 350.1M563.6 349.9L561 349.9M567 349.6L564.4 349.7M570.3 349.4L567.7 349.4M573.7 349.2L571.1 349.2" stroke="#0df"/>
<path d="M577 348.9L574.4 349M580.4 348.7L577.8 348.8M583.7 348.5L581.1 348.6M587.1 348.2L584.5 348.4M590.4 348L587.8 348.1M593.8 347.8L591.2 347.9M597.1 347.5L594.5 347.7M600.5 347.3L597.9 347.5M603.8 347.1L601.2 347.3" stroke="#0cf"/>
<path d="M607.2 346.8L604.6 347M610.5 346.6L607.9 346.8M613.9 346.4L611.3 346.6M617.2 346.1L614.6 346.4M620.6 345.9L618 346.2M623.9 345.7L621.3 346M627.3 345.4L624.7 345.7" stroke="#0bf"/>
<path d="M294.8 369.9L629.8 344.9L627.3 345.4L292.3 368.8Z" fill="url(#sf)"/>
<path d="M292.3 368.8L627.3 345.4" stroke="url(#s13)"/>
<path d="M298.2 369.7L295.6 368.5M301.5 369.4L299 368.3M304.9 369.2L302.3 368.1M308.2 368.9L305.7 367.8M311.6 368.7L309 367.6M314.9 368.4L312.4 367.4M318.3 368.2L315.7 367.1M321.6 367.9L319.1 366.9" stroke="#7f8"/>
<path d="M325 367.7L322.4 366.7M328.3 367.4L325.8 366.4M331.7 367.2L329.1 366.2M335 366.9L332.5 366M338.4 366.7L335.8 365.7M341.7 366.4L339.2 365.5M345.1 366.2L342.5 365.3M348.4 365.9L345.9 365M351.8 365.7L349.2 364.8" stroke="#6f9"/>
<path d="M355.1 365.4L352.6 364.6M358.5 365.2L355.9 364.3M361.8 364.9L359.3 364.1M365.2 364.7L362.6 363.9M368.5 364.4L366 363.6M371.9 364.2L369.3 363.4M375.2 363.9L372.7 363.2M378.6 363.7L376 362.9M381.9 363.4L379.4 362.7" stroke="#5fa"/>
<path d="M385.3 363.2L382.7 362.5M388.6 362.9L386.1 362.2M392 362.7L389.4 362M395.3 362.4L392.8 361.8M398.7 362.2L396.1 361.5M402 361.9L399.5 361.3M405.4 361.7L402.8 361.1M408.7 361.4L406.2 360.8" stroke="#4fb"/>
<path d="M412.1 361.2L409.5 360.6M415.4 360.9L412.9 360.4M418.8 360.7L416.2 360.1M422.1 360.4L419.6 359.9M425.5 360.2L422.9 359.7M428.8 359.9L426.3 359.4M432.2 359.7L429.6 359.2M435.5 359.4L433 359M438.9 359.2L436.3 358.7" stroke="#3fc"/>
<path d="M442.2 358.9L439.7 358.5M445.6 358.7L443 358.3M448.9 358.4L446.4 358M452.3 358.2L449.7 357.8M455.6 357.9L453.1 357.6M459 357.7L456.4 357.3M462.3 357.4L459.8 357.1M465.7 357.2L463.1 356.9M469 356.9L466.5 356.6" stroke="#2fd"/>
<path d="M472.4 356.7L469.8 356.4M475.7 356.4L473.2 356.2M479.1 356.2L476.5 355.9M482.4 355.9L479.9 355.7M485.8 355.7L483.2 355.5M489.1 355.4L486.6 355.2M492.5 355.2L489.9 355M495.8 354.9L493.3 354.8" stroke="#1fe"/>
<path d="M499.2 354.7L496.6 354.5M502.5 354.4L500 354.3M505.9 354.2L503.3 354.1M509.2 353.9L506.7 353.8M512.6 353.7L510 353.6M515.9 353.4L513.4 353.4M519.3 353.2L516.7 353.1M522.6 352.9L520.1 352.9M526 352.7L523.4 352.7" stroke="#0ff"/>
<path d="M529.3 352.4L526.8 352.4M532.7 352.2L530.1 352.2M536 351.9L533.5 352M539.4 351.7L536.8 351.7M542.7 351.4L540.2 351.5M546.1 351.2L543.5 351.3M549.4 350.9L546.9 351M552.8 350.6L550.2 350.8M556.1 350.4L553.6 350.6" stroke="#0ef"/>
<path d="M559.5 350.1L556.9 350.3M562.8 349.9L560.3 350.1M566.2 349.6L563.6 349.9M569.5 349.4L567 349.6M572.9 349.1L570.3 349.4M576.2 348.9L573.7 349.2M579.6 348.6L577 348.9M582.9 348.4L580.4 348.7" stroke="#0df"/>
<path d="M586.3 348.1L583.7 348.5M589.6 347.9L587.1 348.2M593 347.6L590.4 348M596.3 347.4L593.8 347.8M599.7 347.1L597.1 347.5M603 346.9L600.5 347.3M606.4 346.6L603.8 347.1M609.7 346.4L607.2 346.8M613.1 346.1L610.5 346.6" stroke="#0cf"/>
<path d="M616.4 345.9L613.9 346.4M619.8 345.6L617.2 346.1M623.1 345.4L620.6 345.9M626.5 345.1L623.9 345.7M629.8 344.9L627.3 345.4" stroke="#0bf"/>
<path d="M297.4 371.1L632.4 344L629.8 344.9L294.8 369.9Z" fill="url(#sf)"/>
<path d="M294.8 369.9L629.8 344.9" stroke="url(#s12)"/>
<path d="M300.8 370.9L298.2 369.7M304.1 370.6L301.5 369.4M307.5 370.3L304.9 369.2M310.8 370.1L308.2 368.9M314.2 369.8L311.6 368.7M317.5 369.5L314.9 368.4M320.9 369.2L318.3 368.2M324.2 369L321.6 367.9" stroke="#7f8"/>
<path d="M327.6 368.7L325 367.7M330.9 368.4L328.3 367.4M334.3 368.2L331.7 367.2M337.6 367.9L335 366.9M341 367.6L338.4 366.7M344.3 367.3L341.7 366.4M347.7 367.1L345.1 366.2M351 366.8L348.4 365.9M354.4 366.5L351.8 365.7" stroke="#6f9"/>
<path d="M357.7 366.3L355.1 365.4M361.1 366L358.5 365.2M364.4 365.7L361.8 364.9M367.8 365.4L365.2 364.7M371.1 365.2L368.5 364.4M374.5 364.9L371.9 364.2M377.8 364.6L375.2 363.9M381.2 364.4L378.6 363.7M384.5 364.1L381.9 363.4" stroke="#5fa"/>
<path d="M387.9 363.8L385.3 363.2M391.2 363.6L388.6 362.9M394.6 363.3L392 362.7M397.9 363L395.3 362.4M401.3 362.7L398.7 362.2M404.6 362.5L402 361.9M408 362.2L405.4 361.7M411.3 361.9L408.7 361.4M414.7 361.7L412.1 361.2" stroke="#4fb"/>
<path d="M418 361.4L415.4 360.9M421.4 361.1L418.8 360.7M424.7 360.8L422.1 360.4M428.1 360.6L425.5 360.2M431.4 360.3L428.8 359.9M434.8 360L432.2 359.7M438.1 359.8L435.5 359.4M441.5 359.5L438.9 359.2M444.8 359.2L442.2 358.9" stroke="#3fc"/>
<path d="M448.2 358.9L445.6 358.7M451.5 358.7L448.9 358.4M454.9 358.4L452.3 358.2M458.2 358.1L455.6 357.9M461.6 357.9L459 357.7M464.9 357.6L462.3 357.4M468.3 357.3L465.7 357.2M471.6 357L469 356.9M475 356.8L472.4 356.7" stroke="#2fd"/>
<path d="M478.3 356.5L475.7 356.4M481.7 356.2L479.1 356.2M485 356L482.4 355.9M488.4 355.7L485.8 355.7M491.7 355.4L489.1 355.4M495.1 355.1L492.5 355.2M498.4 354.9L495.8 354.9M501.8 354.6L499.2 354.7M505.1 354.3L502.5 354.4" stroke="#1fe"/>
<path d="M508.5 354.1L505.9 354.2M511.8 353.8L509.2 353.9M515.2 353.5L512.6 353.7M518.5 353.2L515.9 353.4M521.9 353L519.3 353.2M525.2 352.7L522.6 352.9M528.6 352.4L526 352.7M531.9 352.2L529.3 352.4M535.3 351.9L532.7 352.2" stroke="#0ff"/>
<path d="M538.6 351.6L536 351.9M542 351.4L539.4 351.7M545.3 351.1L542.7 351.4M548.7 350.8L546.1 351.2M552 350.5L549.4 350.9M555.4 350.3L552.8 350.6M558.7 350L556.1 350.4M562.1 349.7L559.5 350.1M565.4 349.5L562.8 349.9" stroke="#0ef"/>
<path d="M568.8 349.2L566.2 349.6M572.1 348.9L569.5 349.4M575.5 348.6L572.9 349.1M578.8 348.4L576.2 348.9M582.2 348.1L579.6 348.6M585.5 347.8L582.9 348.4M588.9 347.6L586.3 348.1M592.2 347.3L589.6 347.9M595.6 347L593 347.6" stroke="#0df"/>
<path d="M598.9 346.7L596.3 347.4M602.3 346.5L599.7 347.1M605.6 346.2L603 346.9M609 345.9L606.4 346.6M612.3 345.7L609.7 346.4M615.7 345.4L613.1 346.1M619 345.1L616.4 345.9M622.4 344.8L619.8 345.6M625.7 344.6L623.1 345.4" stroke="#0cf"/>
<path d="M629.1 344.3L626.5 345.1M632.4 344L629.8 344.9" stroke="#0bf"/>
<path d="M300 372.3L635 342.8L632.4 344L297.4 371.1Z" fill="url(#sf)"/>
<path d="M297.4 371.1L632.4 344" stroke="url(#s11)"/>
<path d="M303.3 372L300.8 370.9M306.7 371.7L304.1 370.6M310 371.4L307.5 370.3M313.4 371.2L310.8 370.1M316.7 370.9L314.2 369.8M320.1 370.6L317.5 369.5M323.4 370.3L320.9 369.2M326.8 370L324.2 369M330.1 369.7L327.6 368.7" stroke="#7f8"/>
<path d="M333.5 369.4L330.9 368.4M336.8 369.1L334.3 368.2M340.2 368.8L337.6 367.9M343.5 368.5L341 367.6M346.9 368.2L344.3 367.3M350.2 367.9L347.7 367.1M353.6 367.6L351 366.8M356.9 367.3L354.4 366.5M360.3 367L357.7 366.3" stroke="#6f9"/>
<path d="M363.6 366.7L361.1 366M367 366.4L364.4 365.7M370.3 366.1L367.8 365.4M373.7 365.8L371.1 365.2M377 365.5L374.5 364.9M380.4 365.2L377.8 364.6M383.7 365L381.2 364.4M387.1 364.7L384.5 364.1M390.4 364.4L387.9 363.8" stroke="#5fa"/>
<path d="M393.8 364.1L391.2 363.6M397.1 363.8L394.6 363.3M400.5 363.5L397.9 363M403.8 363.2L401.3 362.7M407.2 362.9L404.6 362.5M410.5 362.6L408 362.2M413.9 362.3L411.3 361.9M417.2 362L414.7 361.7M420.6 361.7L418 361.4M423.9 361.4L421.4 361.1" stroke="#4fb"/>
<path d="M427.3 361.1L424.7 360.8M430.6 360.8L428.1 360.6M434 360.5L431.4 360.3M437.3 360.2L434.8 360M440.7 359.9L438.1 359.8M444 359.6L441.5 359.5M447.4 359.3L444.8 359.2M450.7 359L448.2 358.9M454.1 358.8L451.5 358.7" stroke="#3fc"/>
<path d="M457.4 358.5L454.9 358.4M460.8 358.2L458.2 358.1M464.1 357.9L461.6 357.9M467.5 357.6L464.9 357.6M470.8 357.3L468.3 357.3M474.2 357L471.6 357M477.5 356.7L475 356.8M480.9 356.4L478.3 356.5M484.2 356.1L481.7 356.2" stroke="#2fd"/>
<path d="M487.6 355.8L485 356M490.9 355.5L488.4 355.7M494.3 355.2L491.7 355.4M497.6 354.9L495.1 355.1M501 354.6L498.4 354.9M504.3 354.3L501.8 354.6M507.7 354L505.1 354.3M511 353.7L508.5 354.1M514.4 353.4L511.8 353.8" stroke="#1fe"/>
<path d="M517.7 353.1L515.2 353.5M521.1 352.8L518.5 353.2M524.4 352.6L521.9 353M527.8 352.3L525.2 352.7M531.1 352L528.6 352.4M534.5 351.7L531.9 352.2M537.8 351.4L535.3 351.9M541.2 351.1L538.6 351.6M544.5 350.8L542 351.4M547.9 350.5L545.3 351.1" stroke="#0ff"/>
<path d="M551.2 350.2L548.7 350.8M554.6 349.9L552 350.5M557.9 349.6L555.4 350.3M561.3 349.3L558.7 350M564.6 349L562.1 349.7M568 348.7L565.4 349.5M571.3 348.4L568.8 349.2M574.7 348.1L572.1 348.9M578 347.8L575.5 348.6" stroke="#0ef"/>
<path d="M581.4 347.5L578.8 348.4M584.7 347.2L582.2 348.1M588.1 346.9L585.5 347.8M591.4 346.6L588.9 347.6M594.8 346.4L592.2 347.3M598.1 346.1L595.6 347M601.5 345.8L598.9 346.7M604.8 345.5L602.3 346.5M608.2 345.2L605.6 346.2" stroke="#0df"/>
<path d="M611.5 344.9L609 345.9M614.9 344.6L612.3 345.7M618.2 344.3L615.7 345.4M621.6 344L619 345.1M624.9 343.7L622.4 344.8M628.3 343.4L625.7 344.6M631.6 343.1L629.1 344.3M635 342.8L632.4 344" stroke="#0cf"/>
<path d="M302.6 373.5L637.6 341.1L635 342.8L300 372.3Z" fill="url(#sf)"/>
<path d="M300 372.3L635 342.8" stroke="url(#s10)"/>
<path d="M305.9 373.2L303.3 372M309.3 372.9L306.7 371.7M312.6 372.6L310 371.4M316 372.2L313.4 371.2M319.3 371.9L316.7 370.9M322.7 371.6L320.1 370.6M326 371.3L323.4 370.3M329.4 370.9L326.8 370M332.7 370.6L330.1 369.7" stroke="#7f8"/>
<path d="M336.1 370.3L333.5 369.4M339.4 370L336.8 369.1M342.8 369.6L340.2 368.8M346.1 369.3L343.5 368.5M349.5 369L346.9 368.2M352.8 368.7L350.2 367.9M356.2 368.3L353.6 367.6M359.5 368L356.9 367.3M362.9 367.7L360.3 367M366.2 367.4L363.6 366.7" stroke="#6f9"/>
<path d="M369.6 367L367 366.4M372.9 366.7L370.3 366.1M376.3 366.4L373.7 365.8M379.6 366.1L377 365.5M383 365.8L380.4 365.2M386.3 365.4L383.7 365M389.7 365.1L387.1 364.7M393 364.8L390.4 364.4M396.4 364.5L393.8 364.1" stroke="#5fa"/>
<path d="M399.7 364.1L397.1 363.8M403.1 363.8L400.5 363.5M406.4 363.5L403.8 363.2M409.8 363.2L407.2 362.9M413.1 362.8L410.5 362.6M416.5 362.5L413.9 362.3M419.8 362.2L417.2 362M423.2 361.9L420.6 361.7M426.5 361.5L423.9 361.4M429.9 361.2L427.3 361.1" stroke="#4fb"/>
<path d="M433.2 360.9L430.6 360.8M436.6 360.6L434 360.5M439.9 360.2L437.3 360.2M443.3 359.9L440.7 359.9M446.6 359.6L444 359.6M450 359.3L447.4 359.3M453.3 359L450.7 359M456.7 358.6L454.1 358.8M460 358.3L457.4 358.5M463.4 358L460.8 358.2" stroke="#3fc"/>
<path d="M466.7 357.7L464.1 357.9M470.1 357.3L467.5 357.6M473.4 357L470.8 357.3M476.8 356.7L474.2 357M480.1 356.4L477.5 356.7M483.5 356L480.9 356.4M486.8 355.7L484.2 356.1M490.2 355.4L487.6 355.8M493.5 355.1L490.9 355.5" stroke="#2fd"/>
<path d="M496.9 354.7L494.3 355.2M500.2 354.4L497.6 354.9M503.6 354.1L501 354.6M506.9 353.8L504.3 354.3M510.3 353.4L507.7 354M513.6 353.1L511 353.7M517 352.8L514.4 353.4M520.3 352.5L517.7 353.1M523.7 352.1L521.1 352.8M527 351.8L524.4 352.6" stroke="#1fe"/>
<path d="M530.4 351.5L527.8 352.3M533.7 351.2L531.1 352M537.1 350.9L534.5 351.7M540.4 350.5L537.8 351.4M543.8 350.2L541.2 351.1M547.1 349.9L544.5 350.8M550.5 349.6L547.9 350.5M553.8 349.2L551.2 350.2M557.2 348.9L554.6 349.9M560.5 348.6L557.9 349.6" stroke="#0ff"/>
<path d="M563.9 348.3L561.3 349.3M567.2 347.9L564.6 349M570.6 347.6L568 348.7M573.9 347.3L571.3 348.4M577.3 347L574.7 348.1M580.6 346.6L578 347.8M584 346.3L581.4 347.5M587.3 346L584.7 347.2M590.7 345.7L588.1 346.9" stroke="#0ef"/>
<path d="M594 345.3L591.4 346.6M597.4 345L594.8 346.4M600.7 344.7L598.1 346.1M604.1 344.4L601.5 345.8M607.4 344.1L604.8 345.5M610.8 343.7L608.2 345.2M614.1 343.4L611.5 344.9M617.5 343.1L614.9 344.6M620.8 342.8L618.2 344.3M624.2 342.4L621.6 344" stroke="#0df"/>
<path d="M627.5 342.1L624.9 343.7M630.9 341.8L628.3 343.4M634.2 341.5L631.6 343.1M637.6 341.1L635 342.8" stroke="#0cf"/>
<path d="M305.2 374.7L640.2 338.9L637.6 341.1L302.6 373.5Z" fill="url(#sf)"/>
<path d="M302.6 373.5L637.6 341.1" stroke="url(#s9)"/>
<path d="M308.5 374.4L305.9 373.2M311.9 374L309.3 372.9M315.2 373.6L312.6 372.6M318.6 373.3L316 372.2M321.9 372.9L319.3 371.9M325.3 372.6L322.7 371.6M328.6 372.2L326 371.3M332 371.9L329.4 370.9M335.3 371.5L332.7 370.6M338.7 371.1L336.1 370.3" stroke="#7f8"/>
<path d="M342 370.8L339.4 370M345.4 370.4L342.8 369.6M348.7 370.1L346.1 369.3M352.1 369.7L349.5 369M355.4 369.3L352.8 368.7M358.8 369L356.2 368.3M362.1 368.6L359.5 368M365.5 368.3L362.9 367.7M368.8 367.9L366.2 367.4M372.2 367.6L369.6 367" stroke="#6f9"/>
<path d="M375.5 367.2L372.9 366.7M378.9 366.8L376.3 366.4M382.2 366.5L379.6 366.1M385.6 366.1L383 365.8M388.9 365.8L386.3 365.4M392.3 365.4L389.7 365.1M395.6 365L393 364.8M399 364.7L396.4 364.5M402.3 364.3L399.7 364.1M405.7 364L403.1 363.8" stroke="#5fa"/>
<path d="M409 363.6L406.4 363.5M412.4 363.3L409.8 363.2M415.7 362.9L413.1 362.8M419.1 362.5L416.5 362.5M422.4 362.2L419.8 362.2M425.8 361.8L423.2 361.9M429.1 361.5L426.5 361.5M432.5 361.1L429.9 361.2M435.8 360.8L433.2 360.9M439.2 360.4L436.6 360.6" stroke="#4fb"/>
<path d="M442.5 360L439.9 360.2M445.9 359.7L443.3 359.9M449.2 359.3L446.6 359.6M452.6 359L450 359.3M455.9 358.6L453.3 359M459.3 358.2L456.7 358.6M462.6 357.9L460 358.3M466 357.5L463.4 358M469.3 357.2L466.7 357.7M472.7 356.8L470.1 357.3M476 356.5L473.4 357" stroke="#3fc"/>
<path d="M479.4 356.1L476.8 356.7M482.7 355.7L480.1 356.4M486.1 355.4L483.5 356M489.4 355L486.8 355.7M492.8 354.7L490.2 355.4M496.1 354.3L493.5 355.1M499.5 353.9L496.9 354.7M502.8 353.6L500.2 354.4M506.2 353.2L503.6 354.1M509.5 352.9L506.9 353.8" stroke="#2fd"/>
<path d="M512.9 352.5L510.3 353.4M516.2 352.2L513.6 353.1M519.6 351.8L517 352.8M522.9 351.4L520.3 352.5M526.3 351.1L523.7 352.1M529.6 350.7L527 351.8M533 350.4L530.4 351.5M536.3 350L533.7 351.2M539.7 349.7L537.1 350.9M543 349.3L540.4 350.5" stroke="#1fe"/>
<path d="M546.4 348.9L543.8 350.2M549.7 348.6L547.1 349.9M553.1 348.2L550.5 349.6M556.4 347.9L553.8 349.2M559.8 347.5L557.2 348.9M563.1 347.1L560.5 348.6M566.5 346.8L563.9 348.3M569.8 346.4L567.2 347.9M573.2 346.1L570.6 347.6M576.5 345.7L573.9 347.3" stroke="#0ff"/>
<path d="M579.9 345.4L577.3 347M583.2 345L580.6 346.6M586.6 344.6L584 346.3M589.9 344.3L587.3 346M593.3 343.9L590.7 345.7M596.6 343.6L594 345.3M600 343.2L597.4 345M603.3 342.8L600.7 344.7M606.7 342.5L604.1 344.4M610 342.1L607.4 344.1" stroke="#0ef"/>
<path d="M613.4 341.8L610.8 343.7M616.7 341.4L614.1 343.4M620.1 341.1L617.5 343.1M623.4 340.7L620.8 342.8M626.8 340.3L624.2 342.4M630.1 340L627.5 342.1M633.5 339.6L630.9 341.8M636.8 339.3L634.2 341.5M640.2 338.9L637.6 341.1" stroke="#0df"/>
<path d="M307.7 375.9L642.7 336L640.2 338.9L305.2 374.7Z" fill="url(#sf)"/>
<path d="M305.2 374.7L640.2 338.9" stroke="url(#s8)"/>
<path d="M311.1 375.5L308.5 374.4M314.4 375.1L311.9 374M317.8 374.7L315.2 373.6M321.1 374.3L318.6 373.3M324.5 373.9L321.9 372.9M327.8 373.5L325.3 372.6M331.2 373.1L328.6 372.2M334.5 372.7L332 371.9M337.9 372.3L335.3 371.5M341.2 371.9L338.7 371.1" stroke="#7f8"/>
<path d="M344.6 371.5L342 370.8M347.9 371.1L345.4 370.4M351.3 370.7L348.7 370.1M354.6 370.3L352.1 369.7M358 369.9L355.4 369.3M361.3 369.5L358.8 369M364.7 369.1L362.1 368.6M368 368.7L365.5 368.3M371.4 368.3L368.8 367.9M374.7 367.9L372.2 367.6M378.1 367.5L375.5 367.2" stroke="#6f9"/>
<path d="M381.4 367.1L378.9 366.8M384.8 366.7L382.2 366.5M388.1 366.3L385.6 366.1M391.5 365.9L388.9 365.8M394.8 365.5L392.3 365.4M398.2 365.1L395.6 365M401.5 364.7L399 364.7M404.9 364.3L402.3 364.3M408.2 363.9L405.7 364M411.6 363.5L409 363.6M414.9 363.1L412.4 363.3" stroke="#5fa"/>
<path d="M418.3 362.7L415.7 362.9M421.6 362.3L419.1 362.5M425 361.9L422.4 362.2M428.3 361.5L425.8 361.8M431.7 361.1L429.1 361.5M435 360.7L432.5 361.1M438.4 360.3L435.8 360.8M441.7 359.9L439.2 360.4M445.1 359.5L442.5 360M448.4 359.1L445.9 359.7M451.8 358.7L449.2 359.3" stroke="#4fb"/>
<path d="M455.1 358.3L452.6 359M458.5 357.9L455.9 358.6M461.8 357.5L459.3 358.2M465.2 357.1L462.6 357.9M468.5 356.7L466 357.5M471.9 356.3L469.3 357.2M475.2 355.9L472.7 356.8M478.6 355.5L476 356.5M481.9 355.1L479.4 356.1M485.3 354.7L482.7 355.7M488.6 354.4L486.1 355.4" stroke="#3fc"/>
<path d="M492 354L489.4 355M495.3 353.6L492.8 354.7M498.7 353.2L496.1 354.3M502 352.8L499.5 353.9M505.4 352.4L502.8 353.6M508.7 352L506.2 353.2M512.1 351.6L509.5 352.9M515.4 351.2L512.9 352.5M518.8 350.8L516.2 352.2M522.1 350.4L519.6 351.8M525.5 350L522.9 351.4" stroke="#2fd"/>
<path d="M528.8 349.6L526.3 351.1M532.2 349.2L529.6 350.7M535.5 348.8L533 350.4M538.9 348.4L536.3 350M542.2 348L539.7 349.7M545.6 347.6L543 349.3M548.9 347.2L546.4 348.9M552.3 346.8L549.7 348.6M555.6 346.4L553.1 348.2M559 346L556.4 347.9M562.3 345.6L559.8 347.5" stroke="#1fe"/>
<path d="M565.7 345.2L563.1 347.1M569 344.8L566.5 346.8M572.4 344.4L569.8 346.4M575.7 344L573.2 346.1M579.1 343.6L576.5 345.7M582.4 343.2L579.9 345.4M585.8 342.8L583.2 345M589.1 342.4L586.6 344.6M592.5 342L589.9 344.3M595.8 341.6L593.3 343.9M599.2 341.2L596.6 343.6" stroke="#0ff"/>
<path d="M602.5 340.8L600 343.2M605.9 340.4L603.3 342.8M609.2 340L606.7 342.5M612.6 339.6L610 342.1M615.9 339.2L613.4 341.8M619.3 338.8L616.7 341.4M622.6 338.4L620.1 341.1M626 338L623.4 340.7M629.3 337.6L626.8 340.3M632.7 337.2L630.1 340M636 336.8L633.5 339.6" stroke="#0ef"/>
<path d="M639.4 336.4L636.8 339.3M642.7 336L640.2 338.9" stroke="#0df"/>
<path d="M310.3 377.1L645.3 332.2L642.7 336L307.7 375.9Z" fill="url(#sf)"/>
<path d="M307.7 375.9L642.7 336" stroke="url(#s7)"/>
<path d="M313.7 376.7L311.1 375.5M317 376.2L314.4 375.1M320.4 375.8L317.8 374.7M323.7 375.3L321.1 374.3M327.1 374.9L324.5 373.9M330.4 374.4L327.8 373.5M333.8 374L331.2 373.1M337.1 373.5L334.5 372.7M340.5 373.1L337.9 372.3M343.8 372.6L341.2 371.9M347.2 372.2L344.6 371.5" stroke="#7f8"/>
<path d="M350.5 371.7L347.9 371.1M353.9 371.3L351.3 370.7M357.2 370.8L354.6 370.3M360.6 370.4L358 369.9M363.9 369.9L361.3 369.5M367.3 369.5L364.7 369.1M370.6 369L368 368.7M374 368.6L371.4 368.3M377.3 368.1L374.7 367.9M380.7 367.7L378.1 367.5M384 367.2L381.4 367.1M387.4 366.8L384.8 366.7" stroke="#6f9"/>
<path d="M390.7 366.3L388.1 366.3M394.1 365.9L391.5 365.9M397.4 365.4L394.8 365.5M400.8 365L398.2 365.1M404.1 364.5L401.5 364.7M407.5 364.1L404.9 364.3M410.8 363.6L408.2 363.9M414.2 363.2L411.6 363.5M417.5 362.7L414.9 363.1M420.9 362.3L418.3 362.7M424.2 361.8L421.6 362.3M427.6 361.4L425 361.9" stroke="#5fa"/>
<path d="M430.9 360.9L428.3 361.5M434.3 360.5L431.7 361.1M437.6 360L435 360.7M441 359.6L438.4 360.3M444.3 359.1L441.7 359.9M447.7 358.7L445.1 359.5M451 358.2L448.4 359.1M454.4 357.8L451.8 358.7M457.7 357.3L455.1 358.3M461.1 356.9L458.5 357.9M464.4 356.4L461.8 357.5M467.8 356L465.2 357.1" stroke="#4fb"/>
<path d="M471.1 355.5L468.5 356.7M474.5 355.1L471.9 356.3M477.8 354.6L475.2 355.9M481.2 354.2L478.6 355.5M484.5 353.7L481.9 355.1M487.9 353.3L485.3 354.7M491.2 352.8L488.6 354.4M494.6 352.4L492 354M497.9 351.9L495.3 353.6M501.3 351.5L498.7 353.2M504.6 351.1L502 352.8M508 350.6L505.4 352.4" stroke="#3fc"/>
<path d="M511.3 350.2L508.7 352M514.7 349.7L512.1 351.6M518 349.3L515.4 351.2M521.4 348.8L518.8 350.8M524.7 348.4L522.1 350.4M528.1 347.9L525.5 350M531.4 347.5L528.8 349.6M534.8 347L532.2 349.2M538.1 346.6L535.5 348.8M541.5 346.1L538.9 348.4M544.8 345.7L542.2 348M548.2 345.2L545.6 347.6" stroke="#2fd"/>
<path d="M551.5 344.8L548.9 347.2M554.9 344.3L552.3 346.8M558.2 343.9L555.6 346.4M561.6 343.4L559 346M564.9 343L562.3 345.6M568.3 342.5L565.7 345.2M571.6 342.1L569 344.8M575 341.6L572.4 344.4M578.3 341.2L575.7 344M581.7 340.7L579.1 343.6M585 340.3L582.4 343.2M588.4 339.8L585.8 342.8" stroke="#1fe"/>
<path d="M591.7 339.4L589.1 342.4M595.1 338.9L592.5 342M598.4 338.5L595.8 341.6M601.8 338L599.2 341.2M605.1 337.6L602.5 340.8M608.5 337.1L605.9 340.4M611.8 336.7L609.2 340M615.2 336.2L612.6 339.6M618.5 335.8L615.9 339.2M621.9 335.3L619.3 338.8M625.2 334.9L622.6 338.4M628.6 334.4L626 338" stroke="#0ff"/>
<path d="M631.9 334L629.3 337.6M635.3 333.5L632.7 337.2M638.6 333.1L636 336.8M642 332.6L639.4 336.4M645.3 332.2L642.7 336" stroke="#0ef"/>
<path d="M312.9 378.3L647.9 327.2L645.3 332.2L310.3 377.1Z" fill="url(#sf)"/>
<path d="M310.3 377.1L645.3 332.2" stroke="url(#s6)"/>
<path d="M316.3 377.8L313.7 376.7M319.6 377.3L317 376.2M323 376.8L320.4 375.8M326.3 376.2L323.7 375.3M329.7 375.7L327.1 374.9M333 375.2L330.4 374.4M336.4 374.7L333.8 374M339.7 374.2L337.1 373.5M343.1 373.7L340.5 373.1M346.4 373.2L343.8 372.6M349.8 372.7L347.2 372.2M353.1 372.2L350.5 371.7M356.5 371.7L353.9 371.3" stroke="#7f8"/>
<path d="M359.8 371.1L357.2 370.8M363.2 370.6L360.6 370.4M366.5 370.1L363.9 369.9M369.9 369.6L367.3 369.5M373.2 369.1L370.6 369M376.6 368.6L374 368.6M379.9 368.1L377.3 368.1M383.3 367.6L380.7 367.7M386.6 367.1L384 367.2M390 366.5L387.4 366.8M393.3 366L390.7 366.3M396.7 365.5L394.1 365.9M400 365L397.4 365.4M403.4 364.5L400.8 365" stroke="#6f9"/>
<path d="M406.7 364L404.1 364.5M410.1 363.5L407.5 364.1M413.4 363L410.8 363.6M416.8 362.5L414.2 363.2M420.1 361.9L417.5 362.7M423.5 361.4L420.9 362.3M426.8 360.9L424.2 361.8M430.2 360.4L427.6 361.4M433.5 359.9L430.9 360.9M436.9 359.4L434.3 360.5M440.2 358.9L437.6 360M443.6 358.4L441 359.6M446.9 357.9L444.3 359.1" stroke="#5fa"/>
<path d="M450.3 357.3L447.7 358.7M453.6 356.8L451 358.2M457 356.3L454.4 357.8M460.3 355.8L457.7 357.3M463.7 355.3L461.1 356.9M467 354.8L464.4 356.4M470.4 354.3L467.8 356M473.7 353.8L471.1 355.5M477.1 353.3L474.5 355.1M480.4 352.8L477.8 354.6M483.8 352.2L481.2 354.2M487.1 351.7L484.5 353.7M490.5 351.2L487.9 353.3M493.8 350.7L491.2 352.8" stroke="#4fb"/>
<path d="M497.2 350.2L494.6 352.4M500.5 349.7L497.9 351.9M503.9 349.2L501.3 351.5M507.2 348.7L504.6 351.1M510.6 348.2L508 350.6M513.9 347.6L511.3 350.2M517.3 347.1L514.7 349.7M520.6 346.6L518 349.3M524 346.1L521.4 348.8M527.3 345.6L524.7 348.4M530.7 345.1L528.1 347.9M534 344.6L531.4 347.5M537.4 344.1L534.8 347" stroke="#3fc"/>
<path d="M540.7 343.6L538.1 346.6M544.1 343L541.5 346.1M547.4 342.5L544.8 345.7M550.8 342L548.2 345.2M554.1 341.5L551.5 344.8M557.5 341L554.9 344.3M560.8 340.5L558.2 343.9M564.2 340L561.6 343.4M567.5 339.5L564.9 343M570.9 339L568.3 342.5M574.2 338.4L571.6 342.1M577.6 337.9L575 341.6M580.9 337.4L578.3 341.2M584.3 336.9L581.7 340.7" stroke="#2fd"/>
<path d="M587.6 336.4L585 340.3M591 335.9L588.4 339.8M594.3 335.4L591.7 339.4M597.7 334.9L595.1 338.9M601 334.4L598.4 338.5M604.4 333.8L601.8 338M607.7 333.3L605.1 337.6M611.1 332.8L609.6 335.2M609.9 334.8L608.5 337.1M614.4 332.3L613 334.7M613.2 334.3L611.8 336.7M617.8 331.8L616.3 334.2M616.6 333.8L615.2 336.2M621.1 331.3L619.7 333.8M624.5 330.8L623 333.3M627.8 330.3L626.4 332.8M631.2 329.8L629.7 332.3M634.5 329.3L633.1 331.8M637.9 328.7L636.4 331.4M641.2 328.2L639.8 330.9M644.6 327.7L643.2 330.4" stroke="#1fe"/>
<path d="M619.9 333.3L618.5 335.8M623.3 332.8L621.9 335.3M626.6 332.4L625.2 334.9M630 331.9L628.6 334.4M633.3 331.4L631.9 334M636.7 330.9L635.3 333.5M640 330.4L638.6 333.1M643.4 330L642 332.6M647.9 327.2L646.5 329.9M646.7 329.5L645.3 332.2" stroke="#0ff"/>
<path d="M315.5 379.5L650.5 320.8L647.9 327.2L312.9 378.3Z" fill="url(#sf)"/>
<path d="M312.9 378.3L647.9 327.2" stroke="url(#s5)"/>
<path d="M318.8 378.9L316.3 377.8M322.2 378.3L319.6 377.3M325.5 377.7L323 376.8M328.9 377.1L326.3 376.2M332.2 376.6L329.7 375.7M335.6 376L333 375.2M338.9 375.4L336.4 374.7M342.3 374.8L339.7 374.2M345.6 374.2L343.1 373.7M349 373.6L346.4 373.2M352.3 373L349.8 372.7M355.7 372.4L353.1 372.2M359 371.9L356.5 371.7M362.4 371.3L359.8 371.1M365.7 370.7L363.2 370.6M369.1 370.1L366.5 370.1" stroke="#7f8"/>
<path d="M372.4 369.5L369.9 369.6M375.8 368.9L373.2 369.1M379.1 368.3L376.6 368.6M382.5 367.7L379.9 368.1M385.8 367.2L383.3 367.6M389.2 366.6L386.6 367.1M392.5 366L390 366.5M395.9 365.4L393.3 366M399.2 364.8L396.7 365.5M402.6 364.2L400 365M405.9 363.6L403.4 364.5M409.3 363.1L406.7 364M412.6 362.5L410.1 363.5M416 361.9L413.4 363M419.3 361.3L416.8 362.5M422.7 360.7L420.1 361.9" stroke="#6f9"/>
<path d="M426 360.1L423.5 361.4M429.4 359.5L426.8 360.9M432.7 358.9L430.2 360.4M436.1 358.4L433.5 359.9M439.4 357.8L436.9 359.4M442.8 357.2L440.2 358.9M446.1 356.6L443.6 358.4M449.5 356L446.9 357.9M452.8 355.4L450.3 357.3M456.2 354.8L453.6 356.8M459.5 354.3L457 356.3M462.9 353.7L460.3 355.8M466.2 353.1L463.7 355.3M469.6 352.5L467 354.8M472.9 351.9L470.4 354.3M476.3 351.3L473.7 353.8" stroke="#5fa"/>
<path d="M479.6 350.7L477.1 353.3M483 350.1L480.4 352.8M486.3 349.6L483.8 352.2M489.7 349L487.1 351.7M493 348.4L490.5 351.2M496.4 347.8L493.8 350.7M499.7 347.2L497.2 350.2M503.1 346.6L500.5 349.7M506.4 346L503.9 349.2M509.8 345.4L507.2 348.7M513.1 344.9L510.6 348.2M516.5 344.3L513.9 347.6M519.8 343.7L517.3 347.1M523.2 343.1L520.6 346.6M526.5 342.5L524 346.1M529.9 341.9L527.3 345.6" stroke="#4fb"/>
<path d="M533.2 341.3L530.7 345.1M536.6 340.8L534 344.6M539.9 340.2L537.4 344.1M543.3 339.6L540.7 343.6M546.6 339L544.1 343M550 338.4L547.4 342.5M553.3 337.8L550.8 342M556.7 337.2L554.1 341.5M560 336.6L558.6 339M558.9 338.6L557.5 341M563.4 336.1L562 338.5M562.2 338.1L560.8 340.5M566.7 335.5L565.3 337.9M565.6 337.5L564.2 340M570.1 334.9L568.7 337.4M568.9 337L567.5 339.5M573.4 334.3L572 336.8M576.8 333.7L575.4 336.3M580.1 333.1L578.7 335.8M583.5 332.5L582.1 335.2M586.8 332L585.4 334.7M590.2 331.4L588.8 334.1M593.5 330.8L592.1 333.6M596.9 330.2L595.5 333M600.2 329.6L598.8 332.5" stroke="#3fc"/>
<path d="M572.3 336.4L570.9 339M575.6 335.9L574.2 338.4M579 335.3L577.6 337.9M582.3 334.8L580.9 337.4M585.7 334.2L584.3 336.9M589 333.7L587.6 336.4M592.4 333.1L591 335.9M595.7 332.6L594.3 335.4M599.1 332L597.7 334.9M603.6 329L602.2 331.9M602.4 331.5L601 334.4M606.9 328.4L605.5 331.4M605.8 330.9L604.4 333.8M610.3 327.8L608.9 330.8M609.1 330.4L607.7 333.3M613.6 327.3L612.2 330.3M612.5 329.8L611.1 332.8M617 326.7L615.6 329.7M615.8 329.3L614.4 332.3M620.3 326.1L618.9 329.2M619.2 328.7L617.8 331.8M623.7 325.5L622.3 328.6M627 324.9L625.6 328.1M630.4 324.3L629 327.5M633.7 323.7L632.4 327M637.1 323.1L635.7 326.4M640.4 322.6L639.1 325.9M643.8 322L642.4 325.3M647.1 321.4L645.8 324.8M650.5 320.8L649.1 324.2" stroke="#2fd"/>
<path d="M622.5 328.2L621.1 331.3M625.9 327.6L624.5 330.8M629.2 327.1L627.8 330.3M632.5 326.5L631.2 329.8M635.9 326L634.5 329.3M639.2 325.4L637.9 328.7M642.6 324.9L641.2 328.2M645.9 324.3L644.6 327.7M649.3 323.8L647.9 327.2" stroke="#1fe"/>
<path d="M318.1 380.7L653.1 312.3L650.5 320.8L315.5 379.5Z" fill="url(#sf)"/>
<path d="M315.5 379.5L650.5 320.8" stroke="url(#s4)"/>
<path d="M321.4 380L318.8 378.9M324.8 379.3L322.2 378.3M328.1 378.6L325.5 377.7M331.5 377.9L328.9 377.1M334.8 377.3L332.2 376.6M338.2 376.6L335.6 376M341.5 375.9L338.9 375.4M344.9 375.2L342.3 374.8M348.2 374.5L345.6 374.2M351.6 373.8L349 373.6M354.9 373.2L352.3 373M358.3 372.5L355.7 372.4M361.6 371.8L359 371.9M365 371.1L362.4 371.3M368.3 370.4L365.7 370.7M371.7 369.7L369.1 370.1M375 369.1L372.4 369.5M378.4 368.4L375.8 368.9M381.7 367.7L379.1 368.3M385.1 367L382.5 367.7M388.4 366.3L385.8 367.2" stroke="#7f8"/>
<path d="M391.8 365.6L389.2 366.6M395.1 365L392.5 366M398.5 364.3L395.9 365.4M401.8 363.6L399.2 364.8M405.2 362.9L402.6 364.2M408.5 362.2L405.9 363.6M411.9 361.5L409.3 363.1M415.2 360.9L412.6 362.5M418.6 360.2L416 361.9M421.9 359.5L419.3 361.3M425.3 358.8L422.7 360.7M428.6 358.1L426 360.1M432 357.4L429.4 359.5M435.3 356.7L432.7 358.9M438.7 356.1L436.1 358.4M442 355.4L439.4 357.8M445.4 354.7L442.8 357.2M448.7 354L446.1 356.6M452.1 353.3L449.5 356M455.4 352.6L452.8 355.4M458.8 352L456.2 354.8" stroke="#6f9"/>
<path d="M462.1 351.3L459.5 354.3M465.5 350.6L462.9 353.7M468.8 349.9L466.2 353.1M472.2 349.2L469.6 352.5M475.5 348.5L472.9 351.9M478.9 347.9L476.3 351.3M482.2 347.2L479.6 350.7M485.6 346.5L483 350.1M488.9 345.8L486.3 349.6M492.3 345.1L489.7 349M495.6 344.4L493 348.4M499 343.8L496.4 347.8M502.3 343.1L499.7 347.2M505.7 342.4L503.1 346.6M509 341.7L507.6 344.1M507.9 343.7L506.4 346M512.4 341L511 343.5M511.2 343L509.8 345.4M515.7 340.3L514.3 342.8M519.1 339.7L517.7 342.2M522.4 339L521 341.6M525.8 338.3L524.4 340.9M529.1 337.6L527.7 340.3M532.5 336.9L531.1 339.6M535.8 336.2L534.4 339M539.2 335.6L537.8 338.4M542.5 334.9L541.1 337.7M545.9 334.2L544.5 337.1M549.2 333.5L547.8 336.5M552.6 332.8L551.2 335.8" stroke="#5fa"/>
<path d="M514.6 342.4L513.1 344.9M517.9 341.7L516.5 344.3M521.3 341.1L519.8 343.7M524.6 340.5L523.2 343.1M527.9 339.8L526.5 342.5M531.3 339.2L529.9 341.9M534.6 338.6L533.2 341.3M538 337.9L536.6 340.8M541.3 337.3L539.9 340.2M544.7 336.7L543.3 339.6M548 336L546.6 339M551.4 335.4L550 338.4M555.9 332.1L554.5 335.2M554.7 334.8L553.3 337.8M559.3 331.5L557.9 334.6M558.1 334.1L556.7 337.2M562.6 330.8L561.2 333.9M561.4 333.5L560 336.6M566 330.1L564.6 333.3M564.8 332.8L563.4 336.1M569.3 329.4L567.9 332.7M568.1 332.2L566.7 335.5M572.7 328.7L571.3 332M571.5 331.6L570.1 334.9M576 328L574.6 331.4M574.8 330.9L573.4 334.3M579.4 327.4L578 330.8M578.2 330.3L576.8 333.7M582.7 326.7L581.3 330.1M586.1 326L584.7 329.5M589.4 325.3L588 328.9M592.8 324.6L591.4 328.2M596.1 323.9L594.7 327.6M599.5 323.2L598.1 327M602.8 322.6L601.4 326.3M606.2 321.9L604.8 325.7M609.5 321.2L608.1 325M612.9 320.5L611.5 324.4M616.2 319.8L614.8 323.8M619.6 319.1L618.2 323.1M622.9 318.5L621.6 322.5M626.3 317.8L624.9 321.9M629.6 317.1L628.3 321.2" stroke="#4fb"/>
<path d="M581.5 329.7L580.1 333.1M584.9 329L583.5 332.5M588.2 328.4L586.8 332M591.6 327.8L590.2 331.4M594.9 327.1L593.5 330.8M598.3 326.5L596.9 330.2M601.6 325.9L600.2 329.6M605 325.2L603.6 329M608.3 324.6L606.9 328.4M611.7 323.9L610.3 327.8M615 323.3L613.6 327.3M618.4 322.7L617 326.7M621.7 322L620.3 326.1M625.1 321.4L623.7 325.5M628.4 320.8L627 324.9M633 316.4L631.6 320.6M631.8 320.1L630.4 324.3M636.3 315.7L635 320M635.1 319.5L633.7 323.7M639.7 315L638.3 319.3M638.5 318.9L637.1 323.1M643 314.4L641.7 318.7M641.8 318.2L640.4 322.6M646.4 313.7L645 318.1M649.7 313L648.4 317.4M653.1 312.3L651.7 316.8" stroke="#3fc"/>
<path d="M645.2 317.6L643.8 322M648.5 317L647.1 321.4M651.9 316.3L650.5 320.8" stroke="#2fd"/>
<path d="M320.7 381.9L655.7 295.9L653.1 312.3L318.1 380.7Z" fill="url(#sf)"/>
<path d="M318.1 380.7L653.1 312.3" stroke="url(#s3)"/>
<path d="M324 381L321.4 380M327.4 380.1L324.8 379.3M330.7 379.3L328.1 378.6M334.1 378.4L331.5 377.9M337.4 377.6L334.8 377.3M340.8 376.7L338.2 376.6M344.1 375.9L341.5 375.9M347.5 375L344.9 375.2M350.8 374.1L348.2 374.5M354.2 373.3L351.6 373.8M357.5 372.4L354.9 373.2M360.9 371.6L358.3 372.5M364.2 370.7L361.6 371.8M367.6 369.8L365 371.1M370.9 369L368.3 370.4M374.3 368.1L371.7 369.7M377.6 367.3L375 369.1M381 366.4L378.4 368.4M384.3 365.5L381.7 367.7M387.7 364.7L385.1 367M391 363.8L388.4 366.3M394.4 363L391.8 365.6M397.7 362.1L395.1 365M401.1 361.2L398.5 364.3M404.4 360.4L401.8 363.6M407.8 359.5L405.2 362.9M411.1 358.7L408.5 362.2M414.5 357.8L411.9 361.5M417.8 356.9L415.2 360.9M421.2 356.1L418.6 360.2M424.5 355.2L421.9 359.5M427.9 354.4L426.4 356.8M426.7 356.4L425.3 358.8M431.2 353.5L429.8 356M434.6 352.6L433.1 355.3M437.9 351.8L436.5 354.5M441.3 350.9L439.9 353.7M444.6 350.1L443.2 352.9M448 349.2L446.6 352.2M451.3 348.3L449.9 351.4M454.7 347.5L453.3 350.6M458 346.6L456.6 349.9M461.4 345.8L460 349.1M464.7 344.9L463.3 348.3M468.1 344L466.7 347.6M471.4 343.2L470 346.8M474.8 342.3L473.4 346M478.1 341.5L476.7 345.2M481.5 340.6L480.1 344.5M484.8 339.7L483.4 343.7M488.2 338.9L486.8 342.9M491.5 338L490.1 342.2M494.9 337.2L493.5 341.4M498.2 336.3L496.8 340.6M501.6 335.4L500.2 339.8M504.9 334.6L503.5 339.1M508.3 333.7L506.9 338.3M511.6 332.9L510.2 337.5M515 332L513.6 336.8M518.3 331.1L516.9 336M521.7 330.3L520.3 335.2M525 329.4L523.6 334.4M528.4 328.6L527.4 332.1M531.7 327.7L530.8 331.3M535.1 326.9L534.1 330.4M538.4 326L537.5 329.6M541.8 325.1L540.8 328.8M545.1 324.3L544.2 328M548.5 323.4L547.5 327.2M551.8 322.6L550.9 326.4M555.2 321.7L554.2 325.6M558.5 320.8L557.6 324.8M561.9 320L560.9 324M565.2 319.1L564.3 323.2M568.6 318.3L567.6 322.4M571.9 317.4L571 321.6M575.3 316.5L574.3 320.8" stroke="#7f8"/>
<path d="M430 355.6L428.6 358.1M433.4 354.8L432 357.4M436.7 354L435.3 356.7M440.1 353.3L438.7 356.1M443.4 352.5L442 355.4M446.8 351.7L445.4 354.7M450.1 351L448.7 354M453.5 350.2L452.1 353.3M456.8 349.4L455.4 352.6M460.2 348.6L458.8 352M463.5 347.9L462.1 351.3M466.9 347.1L465.5 350.6M470.2 346.3L468.8 349.9M473.6 345.5L472.2 349.2M476.9 344.8L475.5 348.5M480.2 344L478.9 347.9M483.6 343.2L482.2 347.2M486.9 342.5L485.6 346.5M490.3 341.7L488.9 345.8M493.6 340.9L492.3 345.1M497 340.1L495.6 344.4M500.3 339.4L499 343.8M503.7 338.6L502.3 343.1M507 337.8L505.7 342.4M510.4 337L509 341.7M513.7 336.3L512.4 341M517.1 335.5L515.7 340.3M520.4 334.7L519.1 339.7M523.8 334L522.4 339M527.6 331.6L526.6 335.3M530.9 330.8L529.9 334.5M534.3 330L533.3 333.8M537.6 329.2L536.6 333.1M541 328.4L540 332.3M544.3 327.6L543.3 331.6M547.7 326.8L546.7 330.8M551 326L550 330.1M554.4 325.2L553.4 329.4M557.7 324.4L556.7 328.6M561 323.6L560.1 327.9M564.4 322.8L563.4 327.1M567.7 322L566.8 326.4M571.1 321.2L570.1 325.6M574.4 320.4L573.5 324.9M578.6 315.7L577.7 320M577.8 319.6L576.8 324.2M582 314.8L581 319.2M581.1 318.7L580.2 323.4M585.3 314L584.4 318.4M584.5 317.9L583.5 322.7M588.7 313.1L587.7 317.6M587.8 317.1L586.9 321.9M592 312.2L591.1 316.8M591.2 316.3L590.2 321.2M595.4 311.4L594.4 316M594.5 315.5L593.6 320.4M598.7 310.5L597.8 315.2M597.9 314.7L596.9 319.7M602.1 309.7L601.1 314.4M601.2 313.9L600.3 319M605.4 308.8L604.5 313.6M604.6 313.1L603.6 318.2M608.8 307.9L607.8 312.8M612.1 307.1L611.2 312M615.5 306.2L614.5 311.2M618.8 305.4L617.9 310.4M622.2 304.5L621.3 309.6M625.5 303.6L624.8 307.6M624.9 307.1L624.2 311.3M628.9 302.8L628.2 306.8M628.3 306.3L627.5 310.5M632.2 301.9L631.5 306M631.6 305.5L630.9 309.8M635.6 301.1L634.9 305.1M635 304.7L634.2 309M638.9 300.2L638.2 304.3M638.3 303.8L637.6 308.2M642.3 299.3L641.6 303.5M641.6 303L640.9 307.4M645.6 298.5L644.9 302.7M645 302.2L644.3 306.7M649 297.6L648.3 301.9M648.3 301.4L647.6 305.9M652.3 296.8L651.6 301.1M651.7 300.6L651 305.1M655.7 295.9L655 300.3M655 299.8L654.3 304.4" stroke="#6f9"/>
<path d="M526.7 334.8L525.8 338.3M530 334.1L529.1 337.6M533.4 333.3L532.5 336.9M536.7 332.6L535.8 336.2M540.1 331.8L539.2 335.6M543.4 331.1L542.5 334.9M546.8 330.4L545.9 334.2M550.1 329.6L549.2 333.5M553.5 328.9L552.6 332.8M556.8 328.1L555.9 332.1M560.2 327.4L559.3 331.5M563.5 326.6L562.6 330.8M566.9 325.9L566 330.1M570.2 325.2L569.3 329.4M573.6 324.4L572.7 328.7M576.9 323.7L576 328M580.3 322.9L579.4 327.4M583.6 322.2L582.7 326.7M587 321.4L586.1 326M590.3 320.7L589.4 325.3M593.7 320L592.8 324.6M597 319.2L596.1 323.9M600.4 318.5L599.5 323.2M603.7 317.7L602.8 322.6M607.9 312.3L607 317.5M607.1 317L606.2 321.9M611.3 311.5L610.3 316.7M610.4 316.2L609.5 321.2M614.6 310.7L613.7 316M613.8 315.5L612.9 320.5M618 309.9L617 315.3M617.1 314.8L616.2 319.8M621.3 309.1L620.4 314.5M624.3 310.8L623.5 315M627.6 310L626.9 314.3M631 309.3L630.2 313.5M634.3 308.5L633.6 312.8M637.7 307.7L636.9 312.1M641 306.9L640.3 311.4M644.4 306.2L643.6 310.6M647.7 305.4L647 309.9M651.1 304.6L650.3 309.2M654.4 303.9L653.7 308.5" stroke="#5fa"/>
<path d="M620.5 314L619.6 319.1M623.6 314.5L622.9 318.5M627 313.8L626.3 317.8M630.3 313.1L629.6 317.1M633.7 312.3L633 316.4M637 311.6L636.3 315.7M640.4 310.9L639.7 315M643.7 310.1L643 314.4M647.1 309.4L646.4 313.7M650.4 308.7L649.7 313M653.8 308L653.1 312.3" stroke="#4fb"/>
<path d="M323.2 383.1L658.2 259.6L655.7 295.9L320.7 381.9Z" fill="url(#sf)"/>
<path d="M320.7 381.9L655.7 295.9" stroke="url(#s2)"/>
<path d="M326.6 381.8L324 381M329.9 380.6L327.4 380.1M333.3 379.4L330.7 379.3M336.6 378.1L334.1 378.4M340 376.9L337.4 377.6M343.3 375.7L340.8 376.7M346.7 374.4L344.1 375.9M350 373.2L347.5 375M353.4 371.9L350.8 374.1M356.7 370.7L354.2 373.3M360.1 369.5L357.5 372.4M363.4 368.2L360.9 371.6M366.8 367L364.2 370.7M370.1 365.8L367.6 369.8M373.5 364.5L372.1 367M372.3 366.5L370.9 369M376.8 363.3L375.4 365.9M375.7 365.5L374.3 368.1M380.2 362.1L378.8 364.9M379 364.4L377.6 367.3M383.5 360.8L382.1 363.8M382.4 363.4L381 366.4M386.9 359.6L385.5 362.8M385.7 362.3L384.3 365.5M390.2 358.4L388.9 361.8M389 361.3L387.7 364.7M393.6 357.1L392.2 360.7M392.4 360.2L391 363.8M396.9 355.9L395.6 359.7M395.7 359.2L394.4 363M400.3 354.7L398.9 358.6M399.1 358.1L397.7 362.1M403.6 353.4L402.3 357.6M402.4 357.1L401.1 361.2M405.8 356L404.4 360.4M409.1 355L407.8 359.5M412.5 353.9L411.1 358.7M415.8 352.9L414.5 357.8M419.6 350.2L418.6 354M418.7 353.5L417.8 356.9M422.9 349.1L422 353M422.1 352.5L421.2 356.1M426.3 348L425.3 352M425.4 351.5L424.5 355.2M429.6 346.9L428.7 351M428.8 350.5L427.9 354.4M433 345.8L432 350M432.1 349.5L431.2 353.5M436.3 344.7L435.4 349M435.5 348.5L434.6 352.6M439.7 343.6L438.7 348M438.8 347.6L437.9 351.8M443 342.5L442.1 347.1M442.2 346.6L441.3 350.9M446.4 341.4L445.4 346.1M445.5 345.6L444.6 350.1M449.7 340.2L448.8 345.1M448.9 344.6L448 349.2M453.1 339.1L452.1 344.1M452.2 343.6L451.3 348.3M456.4 338L455.5 343.1M455.6 342.6L454.7 347.5M458.9 341.6L458 346.6M462.3 340.7L461.4 345.8M466 337.2L465.3 341.4M465.4 340.9L464.7 344.9M469.4 336.1L468.7 340.5M468.7 340L468.1 344M472.7 335.1L472 339.5M472.1 339L471.4 343.2M476.1 334L475.4 338.6M475.4 338.1L474.8 342.3M479.4 333L478.7 337.6M478.8 337.1L478.1 341.5M482.8 331.9L482.1 336.6M482.1 336.2L481.5 340.6M486.1 330.9L485.4 335.7M485.5 335.2L484.8 339.7M489.5 329.9L488.8 334.7M488.8 334.2L488.2 338.9M492.8 328.8L492.1 333.8M492.2 333.3L491.5 338M496.2 327.8L495.5 332.8M495.5 332.3L494.9 337.2M499.5 326.7L498.8 331.9M498.9 331.4L498.2 336.3M502.9 325.7L502.2 330.9M502.2 330.4L501.6 335.4M506.2 324.6L505.5 330M505.6 329.5L504.9 334.6M509.6 323.6L508.9 329M508.9 328.5L508.3 333.7M512.7 324.5L512.1 329.1M516 323.5L515.4 328.1M519.4 322.5L518.8 327.2M522.7 321.5L522.1 326.3M526.1 320.5L525.5 325.3M529.4 319.5L528.8 324.4M532.8 318.5L532.2 323.5M536.1 317.5L535.5 322.5M539.5 316.5L538.9 321.6M542.8 315.5L542.2 320.7M546.2 314.4L545.6 319.7M549.5 313.4L548.9 318.8M552.9 312.4L552.3 317.9M556 313.1L555.6 317.8M559.4 312.1L558.9 316.8M562.7 311.1L562.3 315.9M566.1 310.1L565.6 315M569.4 309.1L569 314.1M572.8 308.2L572.3 313.2M576.1 307.2L575.7 312.2M579.5 306.2L579 311.3M582.8 305.2L582.4 310.4M586.2 304.2L585.7 309.5M589.5 303.2L589.1 308.5M592.9 302.3L592.4 307.6M596.2 301.3L595.8 306.7M599.5 301.7L599.1 306.5M602.8 300.7L602.4 305.6M606.2 299.8L605.8 304.7M609.5 298.8L609.1 303.7M612.9 297.8L612.5 302.8M616.2 296.9L615.8 301.9M619.6 295.9L619.2 301M622.9 294.9L622.5 300.1M626.3 294L625.9 299.2M629.6 293L629.2 298.3M633 292L632.6 297.4M636.3 291.1L635.9 296.4M639.7 290.1L639.3 295.5M643 289.1L642.6 294.6M646.3 289.4L645.9 294.3M649.6 288.5L649.3 293.4M653 287.5L652.6 292.5M656.3 286.6L656 291.6" stroke="#8f7"/>
<path d="M407 352.2L405.6 356.5M410.3 351L409 355.5M413.7 349.7L412.3 354.4M417 348.5L415.7 353.4M420.4 347.3L419.5 350.7M423.7 346L422.8 349.6M427.1 344.8L426.2 348.5M430.4 343.5L429.5 347.4M433.8 342.3L432.9 346.3M437.1 341.1L436.2 345.2M440.5 339.8L439.6 344.1M443.8 338.6L442.9 343M447.2 337.4L446.3 341.8M450.5 336.1L449.6 340.7M453.9 334.9L453 339.6M457.2 333.7L456.3 338.5M460.6 332.4L459.7 337.4M459.8 336.9L458.8 342.1M463.9 331.2L463 336.3M463.1 335.8L462.2 341.2M466.7 333.5L466 337.7M470 332.3L469.3 336.6M473.4 331.2L472.7 335.6M476.7 330L476 334.5M480.1 328.9L479.4 333.5M483.4 327.7L482.7 332.4M486.8 326.6L486.1 331.4M490.1 325.5L489.4 330.3M493.5 324.3L492.8 329.3M496.8 323.2L496.1 328.3M500.2 322L499.5 327.2M503.5 320.9L502.8 326.2M506.9 319.8L506.2 325.1M510.2 318.6L509.5 324.1M513.2 320.5L512.6 325M516.5 319.4L516 324M519.9 318.3L519.3 323M523.2 317.2L522.7 322M526.6 316.2L526 321M529.9 315.1L529.4 320M533.3 314L532.7 319M536.6 312.9L536.1 318M540 311.8L539.4 317M543.3 310.7L542.8 316M546.7 309.7L546.1 314.9M550 308.6L549.5 313.9M553.4 307.5L552.8 312.9M556.5 308.9L556 313.6M559.8 307.9L559.3 312.6M563.2 306.8L562.7 311.6M566.5 305.8L566 310.6M569.9 304.7L569.4 309.6M573.2 303.7L572.7 308.7M576.6 302.6L576.1 307.7M579.9 301.6L579.4 306.7M583.3 300.5L582.8 305.7M586.6 299.5L586.1 304.7M590 298.4L589.5 303.7M593.3 297.4L592.8 302.8M596.7 296.3L596.2 301.8M599.8 297.4L599.4 302.2M603.2 296.4L602.8 301.2M606.5 295.4L606.1 300.3M609.9 294.4L609.5 299.3M613.2 293.3L612.8 298.3M616.6 292.3L616.2 297.4M619.9 291.3L619.5 296.4M623.3 290.3L622.9 295.4M626.6 289.3L626.2 294.5M630 288.2L629.6 293.5M633.3 287.2L632.9 292.5M636.7 286.2L636.3 291.6M640 285.2L639.6 290.6M643.4 284.2L643 289.6M646.9 280.6L646.6 285.5M646.6 285L646.2 289.9M649.9 284L649.6 289M653.3 283L652.9 288M656.6 282L656.3 287.1" stroke="#9f6"/>
<path d="M467.3 330L466.6 333.9M470.6 328.7L469.9 332.8M474 327.5L473.3 331.7M477.3 326.3L476.7 330.5M480.7 325L480 329.4M484 323.8L483.4 328.2M487.4 322.6L486.7 327.1M490.7 321.3L490.1 326M494.1 320.1L493.4 324.8M497.4 318.8L496.8 323.7M500.8 317.6L500.1 322.5M504.1 316.4L503.5 321.4M507.5 315.1L506.8 320.3M510.8 313.9L510.2 319.1M514.2 312.7L513.6 317M513.7 316.5L513.1 321M517.5 311.4L517 315.8M517.1 315.3L516.5 319.9M520.9 310.2L520.3 314.6M520.4 314.1L519.8 318.8M523.8 313L523.2 317.7M527.1 311.8L526.5 316.7M530.4 310.7L529.9 315.6M533.8 309.5L533.2 314.5M537.1 308.3L536.6 313.4M540.5 307.2L539.9 312.3M543.8 306L543.3 311.2M547.2 304.9L546.6 310.2M550.5 303.7L550 309.1M553.9 302.5L553.3 308M557.3 300.6L556.9 305.2M556.9 304.7L556.4 309.4M560.7 299.4L560.2 304.1M560.3 303.6L559.8 308.4M564 298.2L563.6 303M563.6 302.5L563.1 307.3M567.4 297L566.9 301.9M567 301.4L566.5 306.3M570.3 300.3L569.8 305.2M573.6 299.2L573.2 304.2M577 298.1L576.5 303.1M580.3 297L579.9 302.1M583.7 295.9L583.2 301M587 294.7L586.6 300M590.4 293.6L589.9 298.9M593.7 292.5L593.3 297.9M597.1 291.4L596.6 296.8M600.6 288.9L600.2 293.7M600.2 293.2L599.8 297.9M603.9 287.7L603.5 292.6M603.6 292.1L603.1 296.9M607.3 286.6L606.9 291.5M606.9 291L606.5 295.9M610.6 285.5L610.2 290.4M610.3 289.9L609.8 294.9M614 284.4L613.6 289.4M613.6 288.9L613.2 293.8M617.3 283.2L616.9 288.3M617 287.8L616.5 292.8M620.3 286.7L619.9 291.8M623.6 285.6L623.2 290.8M627 284.6L626.6 289.8M630.3 283.5L629.9 288.7M633.7 282.4L633.3 287.7M637 281.3L636.6 286.7M640.4 280.3L640 285.7M643.7 279.2L643.3 284.7M647.2 276.2L646.9 281.1M650.6 275.1L650.2 280.1M650.3 279.6L649.9 284.5M653.9 274L653.6 279M653.6 278.5L653.3 283.5M657.3 272.9L656.9 278M657 277.5L656.6 282.5" stroke="#af5"/>
<path d="M512.2 328.6L511.6 332.9M515.5 327.6L515 332M518.9 326.7L518.3 331.1M522.2 325.8L521.7 330.3M525.6 324.8L525 329.4M528.9 323.9L528.4 328.6M532.2 323L531.7 327.7M535.6 322L535.1 326.9M538.9 321.1L538.4 326M542.3 320.2L541.8 325.1M545.6 319.2L545.1 324.3M549 318.3L548.5 323.4M552.3 317.4L551.8 322.6M555.6 317.3L555.2 321.7M559 316.3L558.5 320.8M562.3 315.4L561.9 320M565.7 314.5L565.2 319.1M569 313.6L568.6 318.3M572.4 312.7L571.9 317.4M575.7 311.7L575.3 316.5M579.1 310.8L578.6 315.7M582.4 309.9L582 314.8M585.8 309L585.3 314M589.1 308L588.7 313.1M592.5 307.1L592 312.2M595.8 306.2L595.4 311.4M599.1 306L598.7 310.5M602.4 305.1L602.1 309.7M605.8 304.2L605.4 308.8M609.1 303.2L608.8 307.9M612.5 302.3L612.1 307.1M615.8 301.4L615.5 306.2M619.2 300.5L618.8 305.4M622.5 299.6L622.2 304.5M625.9 298.7L625.5 303.6M629.2 297.8L628.9 302.8M632.6 296.9L632.2 301.9M635.9 295.9L635.6 301.1M639.3 295L638.9 300.2M642.6 294.1L642.3 299.3M645.9 293.8L645.6 298.5M649.3 292.9L649 297.6M652.6 292L652.3 296.8M656 291.1L655.7 295.9" stroke="#7f8"/>
<path d="M524.2 309L523.7 313.5M527.6 307.7L527 312.3M530.9 306.5L530.4 311.2M534.3 305.3L533.7 310M537.6 304L537.1 308.8M541 302.8L540.4 307.7M544.3 301.6L543.8 306.5M547.7 300.3L547.1 305.4M551 299.1L550.5 304.2M554.4 297.9L553.8 303M557.7 296.6L557.3 301M561.1 295.4L560.6 299.9M564.4 294.2L564 298.7M567.8 292.9L567.3 297.5M571.1 291.7L570.7 296.4M570.7 295.9L570.3 300.8M574.5 290.4L574 295.2M574.1 294.7L573.6 299.7M577.8 289.2L577.4 294M577.4 293.5L577 298.6M581.2 288L580.7 292.8M580.8 292.3L580.3 297.5M584.1 291.2L583.7 296.3M587.5 290L587 295.2M590.8 288.8L590.4 294.1M594.2 287.7L593.7 293M597.5 286.5L597.1 291.9M600.9 284.6L600.5 289.4M604.3 283.4L603.9 288.2M607.6 282.2L607.2 287.1M611 281.1L610.6 286M614.3 279.9L613.9 284.9M617.7 278.7L617.3 283.7M621 277.5L620.6 282.6M620.7 282.1L620.3 287.2M624.4 276.3L624 281.5M624 281L623.6 286.1M627.7 275.1L627.3 280.4M627.4 279.9L627 285.1M631.1 274L630.7 279.2M630.7 278.7L630.3 284M634.1 277.6L633.7 282.9M637.4 276.5L637 281.8M640.8 275.3L640.4 280.8M644.1 274.2L643.7 279.7M647.6 271.8L647.2 276.7M650.9 270.7L650.6 275.6M654.3 269.5L653.9 274.5M657.6 268.4L657.3 273.4" stroke="#bf4"/>
<path d="M584.5 286.7L584.1 291.7M587.9 285.5L587.4 290.5M591.2 284.3L590.8 289.3M594.6 283L594.1 288.2M597.9 281.8L597.5 287M601.3 280.6L600.9 285.1M604.6 279.3L604.2 283.9M608 278.1L607.6 282.7M611.3 276.9L610.9 281.6M614.7 275.6L614.3 280.4M618 274.4L617.6 279.2M621.4 273.2L621 278M624.7 271.9L624.3 276.8M628.1 270.7L627.7 275.6M631.4 269.5L631 274.5M634.8 268.2L634.4 273.3M634.4 272.8L634 278.1M638.1 267L637.7 272.1M637.8 271.6L637.4 277M641.5 265.7L641.1 270.9M641.1 270.4L640.7 275.8M644.5 269.2L644.1 274.7M647.9 267.4L647.5 272.3M651.2 266.2L650.9 271.2M654.6 265.1L654.2 270M657.9 263.9L657.6 268.9" stroke="#cf3"/>
<path d="M644.8 264.5L644.4 269.7M648.2 263.3L647.8 267.9M651.5 262L651.2 266.7M654.9 260.8L654.5 265.6M658.2 259.6L657.9 264.4" stroke="#df2"/>
<path d="M325.8 384.3L660.8 137.1L658.2 259.6L323.2 383.1Z" fill="url(#sf)"/>
<path d="M323.2 383.1L658.2 259.6" stroke="url(#s1)"/>
<path d="M325.8 384.3L660.8 137.1" stroke="url(#s0)"/>
<path d="M329.2 381.8L326.6 381.8M332.5 379.3L329.9 380.6M335.9 376.8L333.3 379.4M339.2 374.4L336.6 378.1M341.4 374.2L340 376.9M344.7 372.3L343.3 375.7M348.1 370.5L346.7 374.4M351.4 368.6L350 373.2M354.3 368.4L353.4 371.9M357.7 366.7L356.7 370.7" stroke="#8f7"/>
<path d="M342.6 371.9L341.2 374.6M345.9 369.4L344.5 372.8M349.3 367L347.9 370.9M352.6 364.5L351.3 369.1M355.2 365.1L354.2 368.9M358.5 363L357.5 367.2M361.9 361L360.9 365.6M361 365.1L360.1 369.5M365.2 358.9L364.3 363.9M364.3 363.4L363.4 368.2M368.1 359.3L367.4 363.5M367.5 363L366.8 367M371.5 357.5L370.7 362M370.8 361.5L370.1 365.8M374.2 360L373.5 364.5M377.5 358.4L376.8 363.3M380.9 356.9L380.2 362.1M384.1 356.4L383.5 360.8M387.4 354.9L386.9 359.6M390.8 353.4L390.2 358.4M394.1 351.9L393.6 357.1M397.4 351.3L396.9 355.9M400.7 349.9L400.3 354.7M404.1 348.4L403.6 353.4M407.4 347L407 352.2M410.7 346.3L410.3 351M414.1 344.9L413.7 349.7" stroke="#9f6"/>
<path d="M356 362L355 365.6M359.3 359.5L358.4 363.5M362.7 357.1L361.8 361.5M366 354.6L365.1 359.4M368.8 355.6L368 359.8M372.1 353.4L371.4 358M375.5 351.3L374.7 356.1M374.8 355.6L374.1 360.4M378.2 353.8L377.4 358.9M381.5 351.9L380.8 357.4M385.1 348L384.5 352.7M384.6 352.2L384 356.9M387.9 350.4L387.4 355.4M391.3 348.7L390.7 353.9M394.6 347L394.1 352.4M397.8 347L397.3 351.8M401.2 345.3L400.7 350.4M404.5 343.7L404 348.9M407.9 342L407.4 347.5M411.1 341.9L410.7 346.8M414.4 340.3L414 345.4M417.8 338.7L417.4 344M417.4 343.5L417 348.5M421.1 337.1L420.7 342.5M420.8 342L420.4 347.3M424.4 336.8L424 341.8M424.1 341.3L423.7 346M427.7 335.2L427.4 340.4M427.4 339.9L427.1 344.8M431.1 333.7L430.7 339M430.8 338.5L430.4 343.5M434.4 332.2L434.1 337.6M434.1 337.1L433.8 342.3M437.7 331.8L437.4 336.8M437.4 336.3L437.1 341.1M441.1 330.2L440.8 335.4M440.8 334.9L440.5 339.8M444.4 328.7L444.1 334M444.1 333.5L443.8 338.6M447.5 332.2L447.2 337.4M451.1 326.7L450.8 331.8M450.8 331.3L450.5 336.1M454.2 329.9L453.9 334.9M457.5 328.6L457.2 333.7M460.9 327.2L460.6 332.4M464.2 326.3L463.9 331.2M467.5 325L467.3 330M470.9 323.6L470.6 328.7M474.2 322.3L474 327.5M477.6 321.4L477.3 326.3M480.9 320L480.7 325M484.3 318.7L484 323.8M487.6 317.4L487.4 322.6" stroke="#af5"/>
<path d="M369.4 352.1L368.7 356.1M372.7 349.7L372 353.9M376.1 347.2L375.4 351.8M379.4 344.7L378.7 349.6M378.8 349.1L378.1 354.3M382.2 347L381.4 352.4M385.6 343.7L385.1 348.4M389 341.5L388.4 346.5M388.5 346L387.9 350.9M391.8 344L391.2 349.2M395.2 342L394.6 347.5M398.3 342.6L397.8 347.5M401.6 340.8L401.1 345.8M405 338.9L404.5 344.2M408.3 337.1L407.8 342.5M411.5 337.4L411.1 342.4M414.8 335.7L414.4 340.8M418.2 333.9L417.8 339.2M421.5 332.1L421.1 337.6M424.7 332.3L424.4 337.3M428.1 330.6L427.7 335.7M431.4 328.9L431.1 334.2M434.8 327.2L434.4 332.7M438 327.2L437.7 332.3M447.8 327.2L447.5 332.7M454.4 325.2L454.1 330.4M490.9 316.4L490.7 321.3M494.3 315.1L494.1 320.1M497.6 313.7L497.4 318.8M501 312.4L500.8 317.6M504.3 311.4L504.1 316.4M507.7 310.1L507.5 315.1M511 308.8L510.8 313.9M514.4 307.5L514.2 312.7M517.7 306.5L517.5 311.4M521.1 305.2L520.9 310.2M524.4 303.9L524.2 309M527.8 302.5L527.6 307.7M531.1 301.5L530.9 306.5M534.5 300.2L534.3 305.3M537.8 298.9L537.6 304M541.2 297.6L541 302.8M544.5 296.6L544.3 301.6M547.8 295.3L547.7 300.3M551.2 294L551 299.1" stroke="#bf4"/>
<path d="M382.8 342.2L382.1 347.4M386.1 339.8L385.6 344.2M389.5 337.3L388.9 342M392.3 339.3L391.8 344.5M395.7 337.1L395.1 342.5M399.1 334L398.6 338.8M398.7 338.3L398.2 343.1M402 336.3L401.6 341.3M405.4 334.2L404.9 339.4M408.7 332.1L408.3 337.6M411.8 333L411.4 337.9M415.2 331.1L414.8 336.2M418.5 329.1L418.1 334.4M421.9 327.2L421.5 332.6M425.4 323.3L425 328.3M425 327.8L424.7 332.8M428.4 326L428 331.1M554.5 292.7L554.4 297.9M557.9 291.6L557.7 296.6M561.2 290.3L561.1 295.4M564.6 289L564.4 294.2M567.9 287.7L567.8 292.9M571.3 286.7L571.1 291.7M574.6 285.4L574.5 290.4M578 284.1L577.8 289.2M581.3 282.8L581.2 288M584.7 281.7L584.5 286.7M588 280.4L587.9 285.5M591.4 279.1L591.2 284.3M594.7 277.8L594.6 283M598.1 276.8L597.9 281.8M601.4 275.5L601.3 280.6M604.8 274.2L604.6 279.3M608.1 272.9L608 278.1M611.5 271.8L611.3 276.9" stroke="#cf3"/>
<path d="M392.8 334.8L392.3 339.8M396.2 332.4L395.6 337.6M399.5 329.9L399.1 334.5M402.9 327.4L402.4 332.2M402.5 331.7L402 336.7M405.8 329.4L405.3 334.7M409.2 327.2L408.7 332.6M412.6 324.2L412.2 329.1M412.2 328.6L411.8 333.5M415.6 326.5L415.1 331.6M418.9 324.4L418.5 329.6M422.2 322.2L421.8 327.7M425.7 318.8L425.3 323.8M618.2 269.3L618 274.4M621.5 268L621.4 273.2M624.9 266.9L624.7 271.9M628.2 265.6L628.1 270.7M631.6 264.3L631.4 269.5M634.9 263L634.8 268.2M638.2 261.9L638.1 267M641.6 260.7L641.5 265.7M644.9 259.4L644.8 264.5M648.3 258.1L648.2 263.3M651.6 256.8L651.5 262M655 255.7L654.9 260.8M658.3 254.4L658.2 259.6" stroke="#df2"/>
<path d="M406.2 324.9L405.8 329.9M409.6 322.5L409.1 327.7M412.9 320L412.5 324.7M416.3 317.5L415.9 322.4M415.9 321.9L415.5 327M419.3 319.6L418.9 324.9M422.6 317.3L422.2 322.7" stroke="#ef1"/>
<path d="M419.6 315.1L419.2 320.1M423 312.6L422.6 317.8" stroke="#ff0"/>
<path d="M426.3 310.1L426 314.9M429.7 307.7L429.3 312.5M433 305.2L432.7 310.2M436.4 302.7L436 307.9" stroke="#fe0"/>
<path d="M426 314.4L425.7 319.3M429.4 312L429 317.2M432.7 309.7L432.4 315M436.1 307.4L435.7 312.9M439.4 304.5L439.1 309.6" stroke="#ee1"/>
<path d="M429 316.7L428.7 321.8M432.4 314.5L432 319.8M432.1 319.3L431.7 324.6M435.7 312.4L435.4 317.8M435.4 317.3L435.1 322.8M439.2 309.1L438.8 314.1M438.9 313.6L438.6 318.6M442.5 306.9L442.2 312M442.2 311.5L441.9 316.7M445.6 309.5L445.3 314.8M611.6 267.1L611.4 272.3M614.9 265.7L614.8 271M618.3 264.4L618.1 269.8M621.6 263L621.5 268.5M625 262.1L624.8 267.4M628.3 260.8L628.2 266.1M631.7 259.4L631.5 264.8M635 258.1L634.9 263.5M638.4 257.1L638.2 262.4M641.7 255.8L641.6 261.2M645.1 254.5L644.9 259.9M648.4 253.1L648.3 258.6M651.8 251.8L651.6 257.3M655.2 246L655.1 251.4M655.1 250.9L655 256.2M658.6 244.6L658.4 250M658.4 249.5L658.3 254.9" stroke="#de2"/>
<path d="M428.7 321.3L428.4 326.5M431.7 324.1L431.4 329.4M435.1 322.3L434.7 327.7M438.6 318.1L438.3 323.2M438.3 322.7L438 327.7M441.9 316.2L441.6 321.4M441.6 320.9L441.3 326.1M445.3 314.3L445 319.6M445 319.1L444.7 324.4M448.6 312.4L448.3 317.8M448.3 317.3L448 322.8M451.8 313L451.6 318.1M451.6 317.6L451.3 322.7M455.2 311.1L454.9 316.3M454.9 315.8L454.6 321M458.3 314.1L458 319.4M461.6 312.4L461.3 317.8M464.9 312.5L464.6 317.6M468.2 310.8L468 316M471.6 309.1L471.3 314.5M478.2 307.4L478 312.6M514.7 297.6L514.5 303M518.1 297.1L517.9 302.3M521.4 295.6L521.2 300.9M524.8 294.1L524.6 299.5M531.4 292.1L531.3 297.3M538 294L537.8 299.4M541.3 292.6L541.1 298.1M544.6 291.9L544.5 297.1M548 290.5L547.8 295.8M551.3 289.1L551.2 294.5M554.7 287.7L554.5 293.2M558 286.9L557.9 292.1M561.4 285.5L561.2 290.8M564.7 284.1L564.6 289.5M568.1 282.8L567.9 288.2M571.4 281.9L571.3 287.2M574.8 280.6L574.6 285.9M578.1 279.2L578 284.6M581.5 277.8L581.3 283.3M584.8 277L584.7 282.2M588.2 275.6L588 280.9M591.5 274.3L591.4 279.6M594.9 272.9L594.7 278.3M598.2 272L598.1 277.3M601.5 270.7L601.4 276M604.9 269.3L604.8 274.7" stroke="#ce3"/>
<path d="M439.7 300.2L439.4 305M443.1 297.8L442.8 302.7M446.4 295.3L446.1 300.4M449.8 292.8L449.5 298" stroke="#fd0"/>
<path d="M442.8 302.2L442.5 307.4M446.1 299.9L445.8 305.2M449.5 297.5L449.2 303M449.2 302.5L448.9 307.9M452.9 294.7L452.6 299.8M452.6 299.3L452.3 304.3M456 297L455.7 302.2" stroke="#ed1"/>
<path d="M441.4 325.6L441 330.7M444.7 323.9L444.4 329.2M448.1 322.3L447.7 327.7M451.3 322.2L451 327.2M454.7 320.5L454.4 325.7M458 318.9L457.7 324.3M457.8 323.8L457.5 329.1M461.4 317.3L461.1 322.8M461.1 322.3L460.8 327.7M464.7 317.1L464.4 322.2M464.4 321.7L464.2 326.8M468 315.5L467.7 320.8M467.8 320.3L467.5 325.5M471.4 314L471.1 319.3M471.1 318.8L470.9 324.1M474.7 312.4L474.4 317.8M474.5 317.3L474.2 322.8M478 312.1L477.8 317.2M477.8 316.7L477.5 321.9M481.3 310.5L481.1 315.8M481.1 315.3L480.9 320.5M484.7 309L484.5 314.3M484.5 313.8L484.2 319.2M488 307.5L487.8 312.9M487.8 312.4L487.6 317.9M491.3 307.1L491.1 312.2M491.1 311.7L490.9 316.9M494.7 305.6L494.5 310.8M494.5 310.3L494.3 315.6M498 304L497.8 309.4M497.8 308.9L497.6 314.2M501.4 302.5L501.2 308M501.2 307.5L501 312.9M504.7 302.1L504.5 307.3M504.5 306.8L504.3 311.9M508 300.6L507.8 305.9M507.9 305.4L507.7 310.6M511.4 299.1L511.2 304.4M511.2 303.9L511 309.3M514.6 302.5L514.4 308M517.9 301.8L517.7 307M521.2 300.4L521 305.7M524.6 299L524.4 304.4M527.9 297.6L527.7 303M531.3 296.8L531.1 302M534.6 295.4L534.4 300.7" stroke="#be4"/>
<path d="M445.9 304.7L445.5 310M448.9 307.4L448.6 312.9M452.4 303.8L452.1 308.9M452.1 308.4L451.8 313.5M455.7 301.7L455.4 306.9M455.4 306.4L455.2 311.6M459.1 299.6L458.8 305M458.8 304.5L458.5 309.8M462.4 297.5L462.1 303M462.1 302.5L461.9 307.9M465.6 298.7L465.3 303.8M468.9 296.6L468.7 301.9M472.1 299.5L471.8 304.8M475.4 297.5L475.1 303M588.4 266L588.3 271.3M591.8 264.5L591.6 269.9M598.4 262.5L598.3 267.7M598.3 267.2L598.2 272.5M601.7 265.8L601.5 271.2M605 264.4L604.9 269.8M608.4 263L608.2 268.5M611.8 257.5L611.7 262.8M611.7 262.3L611.6 267.6M615.2 256L615 261.4M615 260.9L614.9 266.2M618.5 254.6L618.4 260M618.4 259.5L618.3 264.9M621.9 253.1L621.7 258.6M621.7 258.1L621.6 263.5M625.2 252.5L625.1 257.8M625.1 257.3L625 262.6M628.5 251.1L628.4 256.4M628.4 255.9L628.3 261.3M631.9 249.6L631.8 255M631.8 254.5L631.7 259.9M635.2 248.2L635.1 253.6M635.1 253.1L635 258.6M638.6 247.6L638.5 252.9M638.5 252.4L638.3 257.6M641.9 246.1L641.8 251.5M641.8 251L641.7 256.3M645.3 244.7L645.2 250.1M645.2 249.6L645 255M648.6 243.2L648.5 248.7M648.5 248.2L648.4 253.6M652 241.8L651.9 247.3M651.9 246.8L651.7 252.3M655.3 241.2L655.2 246.5M658.7 239.7L658.5 245.1" stroke="#dd2"/>
<path d="M453.1 290.4L452.8 295.2M456.5 287.9L456.2 292.8M459.8 285.4L459.5 290.5M463.2 282.9L462.9 288.1" stroke="#fc0"/>
<path d="M456.2 292.3L455.9 297.5M459.6 290L459.3 295.3M459.3 294.8L459 300.1M462.9 287.6L462.6 293.1M462.7 292.6L462.4 298M466.3 284.8L466 289.9M466.1 289.4L465.8 294.6M469.4 287.2L469.2 292.4M472.8 284.9L472.5 290.3" stroke="#ec1"/>
<path d="M458.5 309.3L458.3 314.6M461.9 307.4L461.6 312.9M465.4 303.3L465.1 308.4M465.1 307.9L464.9 313M468.7 301.4L468.4 306.6M468.5 306.1L468.2 311.3M471.8 304.3L471.6 309.6M475.2 302.5L474.9 307.9M474.9 307.4L474.7 312.9M478.6 298.2L478.4 303.3M478.4 302.8L478.2 307.9M482 296.3L481.8 301.6M481.8 301.1L481.5 306.3M481.6 305.8L481.3 311M485.1 299.3L484.9 304.7M484.9 304.2L484.7 309.5M488.5 297.6L488.2 303M488.3 302.5L488 308M491.7 297.8L491.5 302.9M491.5 302.4L491.3 307.6M495.1 296L494.9 301.3M494.9 300.8L494.7 306.1M498.4 294.3L498.2 299.7M498.2 299.2L498 304.5M501.8 292.6L501.6 298.1M501.6 297.6L501.4 303M505.1 292.7L504.9 297.9M504.9 297.4L504.7 302.6M508.4 291L508.2 296.3M508.2 295.8L508 301.1M511.8 289.4L511.6 294.7M511.6 294.2L511.4 299.6M514.9 292.6L514.7 298.1M518.4 287.7L518.2 292.9M518.2 292.4L518 297.6M521.6 290.8L521.4 296.1M524.9 289.3L524.7 294.6M528.3 287.7L528.1 293.1M528.1 292.6L527.9 298.1M531.6 287.4L531.4 292.6M534.9 285.8L534.8 291.1M534.8 290.6L534.6 295.9M538.3 284.3L538.1 289.7M538.1 289.2L538 294.5M541.6 282.8L541.5 288.2M541.5 287.7L541.3 293.1M545 282.4L544.8 287.6M544.8 287.1L544.6 292.4M548.3 280.9L548.1 286.2M548.2 285.7L548 291M551.7 279.3L551.5 284.7M551.5 284.2L551.3 289.6M555 277.8L554.8 283.3M554.8 282.8L554.7 288.2M558.3 277.4L558.2 282.6M558.2 282.1L558 287.4M561.7 275.9L561.5 281.2M561.5 280.7L561.4 286M565 274.4L564.9 279.8M564.9 279.3L564.7 284.6M568.4 272.9L568.2 278.3M568.2 277.8L568.1 283.3M571.7 272.4L571.5 277.7M571.6 277.2L571.4 282.4M575 270.9L574.9 276.2M574.9 275.7L574.8 281.1M578.4 269.4L578.2 274.8M578.3 274.3L578.1 279.7M581.7 267.9L581.6 273.4M581.6 272.9L581.5 278.3M585.1 267.4L584.9 272.7M584.9 272.2L584.8 277.5M588.3 270.8L588.1 276.1M591.6 269.4L591.5 274.8M595 267.9L594.8 273.4" stroke="#cd3"/>
<path d="M466.5 280.5L466.3 285.3M469.9 278L469.6 283M473.2 275.5L473 280.6" stroke="#fb0"/>
<path d="M465.8 294.1L465.6 299.2M469.2 291.9L468.9 297.1M472.5 289.8L472.3 295.1M472.3 294.6L472 300M475.9 287.7L475.6 293.1M475.6 292.6L475.4 298M479.1 288.9L478.8 294M478.9 293.5L478.6 298.7M482.4 286.8L482.2 292.1M482.2 291.6L482 296.8M485.8 284.8L485.5 290.1M485.6 289.6L485.3 295M488.9 287.7L488.7 293.1M492.1 288.4L491.9 293.6M495.5 286.5L495.3 291.8M498.8 284.6L498.6 290M502.2 282.7L502 288.2M505.4 283.3L505.2 288.5M508.8 281.5L508.6 286.8M542 272.9L541.8 278.3M548.6 271.3L548.4 276.6M575.2 266.1L575 271.4M578.5 264.6L578.4 269.9M581.9 263L581.7 268.4M585.2 262.7L585 267.9M588.5 261.1L588.4 266.5M591.9 259.6L591.7 265M595.2 258.1L595.1 263.5M595.1 263L595 268.4M598.6 257.7L598.4 263M601.9 256.2L601.8 261.5M601.8 261L601.6 266.3M605.3 254.6L605.1 260M605.1 259.5L605 264.9M608.6 253.1L608.5 258.6M608.5 258.1L608.3 263.5M611.9 252.7L611.8 258M615.3 251.2L615.1 256.5M618.6 249.7L618.5 255.1M622 248.2L621.9 253.6M625.3 247.7L625.2 253M628.7 246.2L628.5 251.6M632 244.7L631.9 250.1M635.4 243.2L635.2 248.7M638.8 238L638.7 243.3M638.7 242.8L638.6 248.1M642.1 236.4L642 241.8M642 241.3L641.9 246.6M645.5 234.9L645.4 240.3M645.4 239.8L645.3 245.2M648.8 233.3L648.7 238.8M648.7 238.3L648.6 243.7M652.1 236.8L652 242.3M655.4 236.3L655.3 241.7" stroke="#dc2"/>
<path d="M469.6 282.5L469.4 287.7M473 280.1L472.7 285.4M476.3 277.8L476.1 283.2M476.1 282.7L475.9 288.2M479.7 275L479.5 280.1M479.5 279.6L479.3 284.8M479.3 284.3L479 289.4M482.8 277.3L482.6 282.6M482.6 282.1L482.4 287.3M486.2 275.1L486 280.4M486 279.9L485.7 285.3M489.3 277.8L489.1 283.2M492.7 274.4L492.5 279.6" stroke="#eb1"/>
<path d="M476.6 273.1L476.3 278.3M479.9 270.6L479.7 275.5M483.3 268.1L483 273.1M486.6 265.6L486.4 270.7" stroke="#fa0"/>
<path d="M483.1 272.6L482.8 277.8M486.4 270.2L486.2 275.6M489.8 267.9L489.5 273.3M489.5 272.8L489.3 278.3M493.1 265.1L492.9 270.3M492.9 269.8L492.7 274.9M496.3 267.5L496.1 272.8M496.1 272.3L495.9 277.5M499.6 265.2L499.4 270.6M499.4 270.1L499.2 275.4M502.8 267.9L502.6 273.3M506.2 264.6L506 269.8M506 269.3L505.8 274.5M509.3 267.2L509.1 272.5M512.7 265.1L512.5 270.4M516 262.9L515.8 268.4" stroke="#ea1"/>
<path d="M485.3 294.5L485.1 299.8M488.7 292.6L488.5 298.1M491.9 293.1L491.7 298.3M495.3 291.3L495.1 296.5M498.6 289.5L498.4 294.8M502 287.7L501.8 293.1M505.3 288L505 293.2M508.6 286.3L508.4 291.5M512 284.5L511.7 289.9M515.3 282.7L515.1 288.2M515.1 287.7L514.9 293.1M518.6 283L518.4 288.2M521.9 281.3L521.7 286.5M521.8 286L521.6 291.3M525.3 279.5L525.1 284.9M525.1 284.4L524.9 289.8M528.6 277.8L528.4 283.2M528.5 282.7L528.3 288.2M531.9 278L531.7 283.2M531.8 282.7L531.6 287.9M535.3 276.3L535.1 281.5M535.1 281L534.9 286.3M538.6 274.6L538.4 279.9M538.5 279.4L538.3 284.8M541.8 277.8L541.6 283.3M545.3 272.9L545.1 278.2M545.1 277.7L544.9 282.9M548.5 276.1L548.3 281.4M551.8 274.5L551.6 279.8M555.2 272.9L555 278.3M558.5 272.7L558.3 277.9M561.8 271.1L561.7 276.4M565.2 269.5L565 274.9M568.5 267.9L568.4 273.4M571.8 267.7L571.7 272.9" stroke="#cc3"/>
<path d="M490 263.2L489.7 268.4M493.3 260.7L493.1 265.6M496.7 258.2L496.5 263.2M500 255.8L499.8 260.9M506.5 255.2L506.3 260.4" stroke="#f90"/>
<path d="M489.1 282.7L488.9 288.2M492.5 279.1L492.3 284.3M492.3 283.8L492.1 288.9M495.9 277L495.7 282.3M495.7 281.8L495.5 287M499.2 274.9L499 280.3M499 279.8L498.8 285.1M502.4 277.8L502.2 283.2M505.8 274L505.6 279.2M505.6 278.7L505.4 283.8M509 276.7L508.8 282M512.3 274.8L512.1 280.1M512.1 279.6L511.9 285M515.7 272.8L515.5 278.3M515.5 277.8L515.3 283.2M518.9 273.6L518.7 278.8M518.8 278.3L518.6 283.5M522.3 271.7L522.1 277M522.1 276.5L521.9 281.8M525.6 269.8L525.4 275.2M525.5 274.7L525.3 280M528.8 272.9L528.6 278.3M532.2 268.5L532.1 273.7M532.1 273.2L531.9 278.5M535.4 271.5L535.2 276.8M538.8 269.7L538.6 275.1M542.1 267.9L541.9 273.4M545.4 268.2L545.2 273.4M548.8 266.5L548.6 271.8M552.1 264.7L551.9 270.1M552 269.6L551.8 275M555.5 263L555.3 268.4M555.3 267.9L555.1 273.4M558.7 263.2L558.6 268.4M558.6 267.9L558.4 273.2M562.1 261.5L561.9 266.8M562 266.3L561.8 271.6M565.4 259.8L565.3 265.1M565.3 264.6L565.1 270M568.8 258L568.6 263.5M568.7 263L568.5 268.4M572.1 258.2L571.9 263.4M572 262.9L571.8 268.2M575.4 256.5L575.3 261.8M575.3 261.3L575.2 266.6M578.8 254.8L578.6 260.2M578.7 259.7L578.5 265.1M582 258L581.9 263.5M585.4 253.2L585.3 258.4M585.3 257.9L585.2 263.2M588.7 256.3L588.5 261.6M592 254.7L591.9 260.1M595.4 253.1L595.2 258.6M598.7 252.9L598.5 258.2M602 251.3L601.9 256.7M605.4 249.8L605.2 255.1M608.7 248.2L608.6 253.6M612.2 243.2L612 248.4M612 247.9L611.9 253.2M615.5 241.5L615.4 246.9M615.4 246.4L615.3 251.7M618.9 239.9L618.7 245.3M618.7 244.8L618.6 250.2M622.2 238.3L622.1 243.7M622.1 243.2L622 248.7M625.5 238.2L625.4 243.5M625.4 243L625.3 248.2M628.9 236.6L628.8 241.9M628.8 241.4L628.6 246.7M632.2 235L632.1 240.3M632.1 239.8L632 245.2M635.6 233.3L635.5 238.8M635.5 238.3L635.3 243.7M638.9 233.2L638.8 238.5M642.2 231.6L642.1 236.9" stroke="#db2"/>
<path d="M496.5 262.7L496.3 268M499.8 260.4L499.6 265.7M503.2 258L503 263.4M503 262.9L502.8 268.4M506.4 259.9L506.2 265.1M509.7 257.6L509.5 262.9M509.5 262.4L509.3 267.7M513.1 255.3L512.9 260.7M512.9 260.2L512.7 265.6M516.2 258L516 263.4M519.6 254.8L519.4 260M519.4 259.5L519.2 264.7M522.8 257.3L522.6 262.6M526.1 255.2L525.9 260.6M526 260.1L525.8 265.4M529.5 253.1L529.3 258.5M529.3 258L529.1 263.5M532.7 254.4L532.5 259.6M536.1 252.3L535.9 257.6M539.4 250.2L539.2 255.6M546 249.3L545.8 254.5" stroke="#e91"/>
<path d="M503.4 253.3L503.2 258.5M506.7 250.8L506.5 255.7M510.1 248.3L509.9 253.4M509.9 252.9L509.7 258.1M513.4 245.9L513.2 251M513.2 250.5L513 255.8M516.6 248.1L516.4 253.5M520 245.4L519.8 250.6" stroke="#f80"/>
<path d="M502.6 272.8L502.4 278.3M509.2 272L509 277.2M512.5 269.9L512.3 275.3M515.9 267.9L515.7 273.3M519.3 264.2L519.1 269.4M519.1 268.9L518.9 274.1M522.6 262.1L522.4 267.4M522.4 266.9L522.3 272.2M525.8 264.9L525.6 270.3M529.1 263L529 268.4M529 267.9L528.8 273.4M532.4 263.8L532.2 269M535.7 261.9L535.6 267.2M535.6 266.7L535.4 272M539.1 259.9L538.9 265.3M538.9 264.8L538.8 270.2M542.4 258L542.3 263.5M542.3 263L542.1 268.4M545.7 258.7L545.5 264M545.6 263.5L545.4 268.7M549.1 256.9L548.9 262.2M548.9 261.7L548.7 267M552.4 255L552.2 260.3M552.3 259.8L552.1 265.2M555.6 258L555.4 263.5M559 253.7L558.9 258.9M558.9 258.4L558.7 263.7M562.2 256.7L562.1 262M565.6 254.9L565.4 260.3M568.9 253.1L568.8 258.5M572.2 253.4L572.1 258.7M575.6 251.7L575.4 257M578.9 249.9L578.8 255.3M582.3 248.1L582.1 253.6M582.1 253.1L582 258.5M585.6 248.4L585.4 253.7M588.9 246.7L588.8 252M588.8 251.5L588.7 256.8M592.3 244.9L592.1 250.3M592.1 249.8L592 255.2M595.6 243.2L595.5 248.7M595.5 248.2L595.4 253.6M598.9 243.4L598.8 248.7M598.8 248.2L598.7 253.4M602.3 241.7L602.1 247M602.2 246.5L602 251.8M605.6 240L605.5 245.4M605.5 244.9L605.4 250.3M609 238.3L608.8 243.7M608.9 243.2L608.7 248.7M612.3 238.4L612.2 243.7M615.6 236.7L615.5 242M619 235L618.9 240.4M622.3 233.3L622.2 238.8M625.6 233.4L625.5 238.7M629 231.7L628.9 237.1M632.3 230.1L632.2 235.5" stroke="#da2"/>
<path d="M516.8 243.4L516.6 248.6M520.1 240.9L519.9 245.9M523.5 238.5L523.3 243.5M523.3 243L523.1 248.3M526.8 236L526.6 241.1M526.7 240.6L526.5 246M530 238.2L529.8 243.7M533.4 235.5L533.2 240.7" stroke="#f70"/>
<path d="M516.4 253L516.2 258.5M519.8 250.1L519.6 255.3M523.1 247.8L522.9 253.1M523 252.6L522.8 257.8M526.5 245.5L526.3 250.8M526.3 250.3L526.1 255.7M529.7 248.1L529.5 253.6M533 244.9L532.9 250.2M532.9 249.7L532.7 254.9M536.2 247.5L536.1 252.8M539.6 245.3L539.4 250.7M542.9 243.2L542.8 248.6M542.8 248.1L542.6 253.6M546.2 244.6L546 249.8M549.5 242.5L549.3 247.8M549.4 247.3L549.2 252.6M552.9 240.3L552.7 245.7M552.7 245.2L552.5 250.6M556.1 243.2L555.9 248.6M559.5 239.5L559.3 244.7M559.3 244.2L559.2 249.5M562.7 242.2L562.5 247.5M566 240.2L565.9 245.6M569.4 238.2L569.2 243.7M572.6 239.2L572.5 244.4M576 237.2L575.8 242.5M579.3 235.3L579.2 240.6M582.7 233.3L582.5 238.8M586 234.1L585.8 239.4M589.3 232.2L589.2 237.5M592.7 230.3L592.5 235.7M599.3 229.1L599.2 234.3M602.6 227.2L602.5 232.5" stroke="#e81"/>
<path d="M530.2 233.5L530 238.7M533.5 231L533.3 236M536.9 228.6L536.7 233.6M536.7 233.1L536.5 238.4M540.1 230.7L539.9 236.1M543.4 228.3L543.2 233.8M546.8 225.6L546.6 230.9" stroke="#f60"/>
<path d="M529.8 243.2L529.6 248.6M533.2 240.2L533 245.4M536.6 237.9L536.4 243.2M536.4 242.7L536.2 248M539.9 235.6L539.7 241M539.7 240.5L539.6 245.8M543.1 238.2L542.9 243.7M546.5 235.1L546.3 240.3M546.3 239.8L546.2 245.1M549.8 232.8L549.7 238.1M549.7 237.7L549.5 243M553 235.5L552.9 240.8M556.4 233.3L556.2 238.7M556.2 238.2L556 243.7M559.6 234.7L559.5 240M563 232.6L562.8 237.9M562.8 237.4L562.7 242.7M566.3 230.5L566.2 235.9M566.2 235.4L566 240.7M569.5 233.3L569.4 238.7M572.9 229.7L572.8 234.9M572.8 234.4L572.6 239.7M576.3 227.6L576.1 232.9M576.1 232.4L576 237.7M579.5 230.4L579.3 235.8M582.8 228.4L582.7 233.8M586.1 229.4L585.9 234.6M589.4 227.4L589.3 232.7M592.8 225.4L592.7 230.8M596.1 223.4L596 228.9M596 228.4L595.9 233.8M599.4 224.3L599.3 229.6M602.8 222.4L602.6 227.7M606.1 220.4L606 225.8" stroke="#e71"/>
<path d="M532.6 259.1L532.4 264.3M535.9 257.1L535.7 262.4M539.3 255.1L539.1 260.4M542.6 253.1L542.4 258.5M545.9 254L545.7 259.2M549.2 252.1L549 257.4M552.6 250.1L552.4 255.5M555.9 248.1L555.7 253.6M555.8 253.1L555.6 258.5M559.2 249L559 254.2M562.5 247L562.4 252.3M562.4 251.8L562.2 257.2M565.9 245.1L565.7 250.5M565.7 250L565.6 255.4M569.1 248.1L568.9 253.6M572.5 243.9L572.4 249.2M572.4 248.7L572.2 253.9M575.9 242L575.7 247.3M575.7 246.8L575.6 252.2M579.1 245L578.9 250.4M582.4 243.2L582.3 248.6M585.8 238.9L585.7 244.1M585.7 243.6L585.6 248.9M589.1 241.8L588.9 247.2M592.4 240.1L592.3 245.4M595.8 238.3L595.6 243.7M599 238.6L598.9 243.9M602.4 236.9L602.3 242.2M605.7 235.1L605.6 240.5M609.1 233.3L609 238.8M612.4 233.6L612.3 238.9M615.7 231.9L615.6 237.2M619.1 230.1L619 235.5" stroke="#d92"/>
<path d="M540.2 226.1L540 231.2M543.6 223.6L543.4 228.8M546.9 221.2L546.8 226.1M550.3 218.7L550.1 223.7M550.1 223.2L550 228.5M553.5 220.8L553.3 226.2M556.8 218.4L556.7 223.9M560 220.5L559.9 225.8M563.4 218.2L563.2 223.5M566.7 215.8L566.6 221.2" stroke="#f50"/>
<path d="M543.3 233.3L543.1 238.7M546.6 230.4L546.5 235.6M550 228L549.8 233.3M553.3 225.7L553.2 231.1M553.2 230.6L553 236M556.5 228.3L556.4 233.8M559.9 225.3L559.7 230.5M559.8 230L559.6 235.2M563.2 223L563.1 228.3M563.1 227.8L562.9 233.1M566.5 225.6L566.3 231M569.8 223.4L569.6 228.9M569.7 228.4L569.5 233.8M573 224.9L572.9 230.2M576.4 222.8L576.2 228.1M579.7 220.6L579.6 226M579.6 225.5L579.5 230.9M583 223.4L582.8 228.9M586.4 219.8L586.2 225.1M586.2 224.6L586.1 229.9M589.7 217.7L589.6 223.1M589.6 222.6L589.4 227.9M592.9 220.5L592.8 225.9M596.3 218.5L596.1 223.9M599.7 214.8L599.5 220M599.5 219.5L599.4 224.8M602.9 217.5L602.8 222.9M606.2 215.5L606.1 220.9M609.6 213.5L609.5 219" stroke="#e61"/>
<path d="M553.6 216.2L553.5 221.3M557 213.8L556.8 218.9M560.3 211.3L560.2 216.3M560.2 215.8L560 221M563.7 208.8L563.5 213.9M563.5 213.4L563.4 218.7M566.9 211L566.7 216.3M570.2 208.6L570.1 214M570.1 213.5L569.9 219M573.5 210.6L573.3 215.9M576.8 208.3L576.7 213.6M580.2 206L580 211.3" stroke="#f40"/>
<path d="M556.7 223.4L556.5 228.8M566.6 220.7L566.4 226.1M569.9 218.5L569.8 223.9M573.3 215.4L573.2 220.7M573.2 220.2L573 225.4M576.7 213.1L576.5 218.4M576.5 217.9L576.4 223.3M579.9 215.7L579.7 221.1M583.2 213.5L583.1 219M583.1 218.5L582.9 223.9M586.5 215.1L586.3 220.3M589.8 212.9L589.7 218.2M593.2 210.7L593 216.1M593.1 215.6L592.9 221M596.4 213.5L596.3 219M599.8 210L599.7 215.3M603.1 207.9L603 213.2M603 212.7L602.9 218M606.5 205.8L606.4 211.2M606.4 210.7L606.2 216M609.8 203.6L609.7 209.1M609.7 208.6L609.6 214M613.1 204.9L613 210.2" stroke="#e51"/>
<path d="M567 206.3L566.9 211.5M570.4 203.9L570.2 209.1M573.7 201.4L573.6 206.4M573.6 205.9L573.4 211.1M576.9 203.5L576.8 208.8M580.3 201.1L580.1 206.5M583.6 198.7L583.5 204.1M583.5 203.6L583.4 209.1M586.9 200.8L586.7 206M590.2 198.4L590.1 203.8M593.6 196.1L593.4 201.5M600.2 195.7L600 201" stroke="#f30"/>
<path d="M569.2 243.2L569.1 248.6M579.2 240.1L579.1 245.5M582.6 238.3L582.4 243.7M589.2 237L589 242.3M592.5 235.2L592.4 240.6M595.9 233.3L595.7 238.8M599.2 233.8L599 239.1M602.5 232L602.4 237.4" stroke="#d82"/>
<path d="M577.1 198.9L576.9 204M580.4 196.5L580.3 201.6M583.8 194L583.6 199.2M587.1 191.5L587 196.5M587 196L586.9 201.3M590.3 193.6L590.2 198.9M593.7 191.2L593.6 196.6M597 188.8L596.9 194.2M596.9 193.7L596.8 199.2M600.3 190.9L600.1 196.2M603.6 188.6L603.5 193.9M603.5 193.4L603.4 198.7" stroke="#f20"/>
<path d="M580 210.8L579.9 216.2M583.4 208.6L583.2 214M586.7 205.5L586.6 210.8M586.6 210.3L586.5 215.6M590 208.1L589.8 213.4M593.3 205.9L593.2 211.2M596.7 203.6L596.5 209.1M596.5 208.6L596.4 214M599.9 205.2L599.8 210.5M603.3 203.1L603.1 208.4M606.6 200.9L606.5 206.3M610 198.7L609.8 204.1M613.3 195.4L613.2 200.7M613.2 200.2L613.1 205.4M616.7 193.2L616.6 198.5" stroke="#e41"/>
<path d="M590.5 189L590.3 194.1M593.8 186.6L593.7 191.7M597.2 184.1L597 189.3M600.5 181.6L600.4 186.6M600.4 186.1L600.3 191.4M603.8 183.7L603.6 189.1M607.1 181.3L607 186.7" stroke="#f10"/>
<path d="M590.1 203.3L589.9 208.6M593.4 201L593.3 206.4M596.8 198.7L596.6 204.1M600 200.5L599.9 205.7M603.4 198.2L603.2 203.6M606.7 196L606.6 201.4M610.1 193.8L609.9 199.2M613.5 190.6L613.3 195.9M616.8 188.4L616.7 193.7" stroke="#e31"/>
<path d="M603.9 179.2L603.7 184.2M607.2 176.7L607.1 181.8" stroke="#f00"/>
<path d="M607 186.2L606.8 191.6M606.9 191.1L606.7 196.5M610.3 183.9L610.2 189.3M610.2 188.8L610.1 194.3M613.7 181L613.6 186.3M613.6 185.8L613.4 191.1M617 178.7L616.9 184M616.9 183.5L616.8 188.9" stroke="#e20"/>
<path d="M606 225.3L605.9 230.7M605.9 230.2L605.7 235.6M609.3 223.4L609.2 228.9M609.2 228.4L609.1 233.8M612.6 224.1L612.5 229.3M616 222.2L615.9 227.5M619.3 220.3L619.2 225.7M622.7 218.5L622.6 223.9M626.1 214.2L626 219.5M626 219L625.9 224.3M629.4 212.4L629.3 217.7M629.3 217.2L629.2 222.5M632.8 210.5L632.7 215.9M632.7 215.4L632.6 220.8M636.1 208.6L636 214.1M636 213.6L635.9 219" stroke="#d81"/>
<path d="M610.6 174.2L610.4 179.4M613.9 171.7L613.8 176.8M617.3 169.3L617.1 174.4M620.6 166.8L620.5 171.9" stroke="#e00"/>
<path d="M610.5 178.9L610.3 184.4M613.8 176.3L613.7 181.5M617.2 173.9L617 179.2M620.5 171.4L620.4 176.8" stroke="#e10"/>
<path d="M609.5 218.5L609.3 223.9M612.8 219.3L612.6 224.6M616.1 217.4L616 222.7M619.5 215.5L619.3 220.8M622.8 213.5L622.7 219M626.2 209.5L626.1 214.7M629.6 207.5L629.4 212.9M632.9 205.6L632.8 211M636.3 203.7L636.1 209.1" stroke="#d71"/>
<path d="M608.2 268L608.1 273.4" stroke="#ce2"/>
<path d="M613 209.7L612.9 215M612.9 214.5L612.7 219.8M616.3 207.7L616.2 213M616.2 212.5L616.1 217.9M619.7 205.7L619.6 211.1M619.6 210.6L619.4 216M623 203.7L622.9 209.1M622.9 208.6L622.8 214M626.4 199.9L626.3 205.2M626.3 204.7L626.2 210M629.8 197.9L629.7 203.2M629.7 202.7L629.5 208M633.1 195.8L633 201.2M633 200.7L632.9 206.1" stroke="#d61"/>
<path d="M612.5 228.8L612.4 234.1M615.9 227L615.7 232.4M619.2 225.2L619.1 230.6M622.6 223.4L622.4 228.9M622.4 228.4L622.3 233.8M625.9 223.8L625.7 229.1M625.8 228.6L625.6 233.9M629.2 222L629.1 227.4M629.1 226.9L629 232.2M632.6 220.3L632.4 225.7M632.5 225.2L632.3 230.6M635.9 218.5L635.8 223.9M635.8 223.4L635.7 228.9M639.2 218.8L639.1 224.1" stroke="#d91"/>
<path d="M616.6 198L616.4 203.4M620 191L619.9 196.4M619.9 195.9L619.8 201.3M623.4 188.8L623.3 194.3M623.3 193.8L623.1 199.2M626.8 185.5L626.6 190.8M626.7 190.3L626.5 195.6M630.1 183.3L630 188.7M630 188.2L629.9 193.5M633.5 181.1L633.3 186.5M633.4 186L633.2 191.4" stroke="#d41"/>
<path d="M616.5 202.9L616.3 208.2M619.8 200.8L619.7 206.2M623.2 198.7L623 204.2M626.5 195.1L626.4 200.4M629.9 193L629.8 198.4M633.2 190.9L633.1 196.3" stroke="#d51"/>
<path d="M614.8 270.5L614.7 275.6" stroke="#cf2"/>
<path d="M620.4 176.3L620.3 181.7M620.3 181.2L620.1 186.6M623.7 174L623.6 179.4M623.6 178.9L623.5 184.4M627.1 171.2L627 176.5M627 176L626.9 181.2M630.4 168.8L630.3 174.2M630.3 173.7L630.2 179M633.8 166.5L633.7 171.8M633.7 171.3L633.6 176.7" stroke="#d20"/>
<path d="M620.2 186.1L620 191.5" stroke="#d31"/>
<path d="M624 164.3L623.8 169.5M627.3 161.9L627.2 166.9M630.7 159.4L630.6 164.5M634 156.9L633.9 162.1" stroke="#d00"/>
<path d="M623.9 169L623.7 174.5M627.2 166.4L627.1 171.7M630.6 164L630.4 169.3M633.9 161.6L633.8 167" stroke="#d10"/>
<path d="M623.5 183.9L623.4 189.3M626.9 180.7L626.8 186M630.2 178.5L630.1 183.8M633.6 176.2L633.5 181.6" stroke="#d30"/>
<path d="M637.4 154.4L637.3 159.6M640.7 152L640.6 157M644.1 149.5L644 154.6" stroke="#c00"/>
<path d="M637.3 159.1L637.1 164.6M640.6 156.5L640.5 161.8M644 154.1L643.8 159.4M647.3 151.7L647.2 157.1" stroke="#c10"/>
<path d="M637.1 164.1L637 169.5M637 169L636.9 174.5M640.5 161.3L640.4 166.6M640.4 166.1L640.3 171.4M643.9 158.9L643.7 164.3M643.8 163.8L643.6 169.1M647.2 156.6L647.1 162M647.1 161.5L647 166.9" stroke="#c20"/>
<path d="M636.9 174L636.8 179.4M640.3 170.9L640.2 176.2M640.2 175.7L640.1 181M643.6 168.6L643.5 174M643.5 173.5L643.4 178.8M647 166.4L646.9 171.8M646.9 171.3L646.8 176.7M650.3 164.1L650.2 169.5M650.2 169L650.1 174.5" stroke="#c30"/>
<path d="M636.8 178.9L636.7 184.4M636.7 183.9L636.6 189.3M640.1 180.5L640 185.8M643.4 178.3L643.3 183.7M646.8 176.2L646.7 181.5M650.1 174L650 179.4" stroke="#c41"/>
<path d="M636.6 188.8L636.5 194.3M640 185.3L639.9 190.6M639.9 190.1L639.7 195.4M643.3 183.2L643.2 188.5M643.2 188L643.1 193.3M646.7 181L646.6 186.4M646.6 185.9L646.4 191.3M650 178.9L649.9 184.4M649.9 183.9L649.8 189.3M653.4 176.8L653.3 182.3M653.3 181.8L653.1 187.3" stroke="#c51"/>
<path d="M636.5 193.8L636.4 199.2M636.4 198.7L636.2 204.2M639.8 194.9L639.6 200.1M643.1 192.8L643 198.2M646.5 190.8L646.3 196.2M649.8 188.8L649.7 194.3M653.2 186.8L653 192.3M656.5 183L656.4 188.3M656.4 187.8L656.3 193.2M659.8 185.9L659.7 191.3" stroke="#c61"/>
<path d="M635.7 228.4L635.6 233.8M639.1 223.6L639 228.9M639 228.4L638.9 233.7M642.4 226.7L642.2 232.1" stroke="#da1"/>
<path d="M639.6 199.6L639.5 204.9M639.5 204.4L639.4 209.7M643 197.7L642.9 203M642.9 202.5L642.8 207.9M646.3 195.7L646.2 201.1M646.2 200.6L646.1 206M649.7 193.8L649.6 199.2M649.6 198.7L649.5 204.2M653 191.8L652.9 197.3M652.9 196.8L652.8 202.3M656.3 192.7L656.2 198M659.7 190.8L659.6 196.2" stroke="#c71"/>
<path d="M639.4 209.2L639.3 214.5M639.3 214L639.2 219.3M642.8 207.4L642.7 212.7M642.7 212.2L642.6 217.6M646.1 205.5L646 210.9M646 210.4L645.9 215.8M649.5 203.7L649.4 209.1M649.4 208.6L649.3 214.1M652.8 201.8L652.7 207.3M652.7 206.8L652.6 212.3M656.2 197.5L656.1 202.9M656.1 202.4L656 207.7M659.6 195.7L659.5 201.1M659.5 200.6L659.4 206" stroke="#c81"/>
<path d="M642.6 217.1L642.4 222.4M645.9 215.3L645.8 220.7M649.3 213.6L649.1 219M652.6 211.8L652.5 217.3M656 207.2L655.9 212.6M655.9 212.1L655.8 217.4M659.4 205.5L659.3 210.9M659.3 210.4L659.2 215.8" stroke="#c91"/>
<path d="M642.5 221.9L642.3 227.2M645.8 220.2L645.7 225.6M645.7 225.1L645.6 230.5M649.2 218.5L649 224M649.1 223.5L648.9 228.9M652.5 216.8L652.4 222.3M652.4 221.8L652.3 227.3M655.8 216.9L655.7 222.3M655.7 221.8L655.6 227.1M659.2 215.3L659.1 220.6M659.1 220.1L659 225.5" stroke="#ca1"/>
<path d="M647.4 147L647.3 152.2M650.8 144.6L650.7 149.8M654.1 142.1L654 147.3M657.5 139.6L657.4 144.7" stroke="#b00"/>
<path d="M645.6 230L645.5 235.4M648.9 228.4L648.8 233.8" stroke="#db1"/>
<path d="M650.7 149.3L650.5 154.7M654 146.8L653.9 152.3M657.4 144.2L657.3 149.6M660.7 141.8L660.6 147.2" stroke="#b10"/>
<path d="M650.6 154.2L650.4 159.7M650.5 159.2L650.3 164.6M653.9 151.8L653.8 157.3M653.8 156.8L653.7 162.3M657.3 149.1L657.2 154.4M657.2 153.9L657.1 159.3M660.6 146.7L660.5 152.1M660.5 151.6L660.4 157" stroke="#b20"/>
<path d="M653.7 161.8L653.6 167.3M653.6 166.8L653.5 172.3M657.1 158.8L656.9 164.1M657 163.6L656.8 169M660.4 156.5L660.3 161.9M660.3 161.4L660.2 166.8" stroke="#b30"/>
<path d="M653.5 171.8L653.4 177.3" stroke="#b41"/>
<path d="M652.3 226.8L652.2 232.3M655.6 226.6L655.5 232M659 225L658.9 230.4" stroke="#cb1"/>
<path d="M652.2 231.8L652.1 237.3M655.5 231.5L655.4 236.8M658.9 229.9L658.7 235.3M658.8 234.8L658.6 240.2" stroke="#dc1"/>
<path d="M656.9 168.5L656.7 173.8M660.2 166.3L660.1 171.7" stroke="#b40"/>
<path d="M656.8 173.3L656.6 178.6M656.6 178.1L656.5 183.5M660.1 171.2L660 176.6M660 176.1L659.9 181.5" stroke="#b51"/>
<path d="M660.8 137.1L660.7 142.3" stroke="#a00"/>
<path d="M659.9 181L659.8 186.4" stroke="#b61"/>
</g>
<path d="M327.5 471.5L662.5 380.9M327.5 471.5L70.2 352.7M70.2 352.7L70.2 93.3M327.5 471.5L335.3 475.1M394.5 453.4L402.3 457M461.5 435.3L469.3 438.9M528.5 417.1L536.3 420.7M595.5 399L603.3 402.6M662.5 380.9L670.3 384.5M327.5 471.5L319.2 473.7M198.8 412.1L190.5 414.3M70.2 352.7L61.9 354.9M70.2 352.7L62.4 349.1M70.2 309.5L62.4 305.9M70.2 266.2L62.4 262.6M70.2 223L62.4 219.4M70.2 179.8L62.4 176.2M70.2 136.5L62.4 132.9M70.2 93.3L62.4 89.7" stroke="#2e2e2e" stroke-width="1" fill="none"/>
<g font-family="'Liberation Sans',Arial,Helvetica,sans-serif" font-size="17.6" fill="#2e2e2e">
<text x="55.3" y="354.7" text-anchor="end">-1</text>
<text x="55.3" y="311.5" text-anchor="end">-0.5</text>
<text x="55.3" y="268.2" text-anchor="end">0</text>
<text x="55.3" y="225.0" text-anchor="end">0.5</text>
<text x="55.3" y="181.8" text-anchor="end">1</text>
<text x="55.3" y="138.5" text-anchor="end">1.5</text>
<text x="55.3" y="95.3" text-anchor="end">2</text>
<text x="342.8" y="497.1">0</text>
<text x="409.8" y="479.0">0.2</text>
<text x="476.8" y="460.9">0.4</text>
<text x="543.8" y="442.7">0.6</text>
<text x="610.8" y="424.6">0.8</text>
<text x="677.8" y="406.5">1</text>
<text x="311.2" y="495.2" text-anchor="end">0</text>
<text x="182.5" y="435.8" text-anchor="end">0.5</text>
<text x="53.9" y="376.4" text-anchor="end">1</text>
</g>
<g font-family="'Liberation Serif','Times New Roman',serif" font-style="italic" fill="#2e2e2e">
<text transform="translate(197.9 494) scale(1.29 1)" font-size="19.2" text-anchor="middle">T</text>
<text transform="translate(473.4 499.1) scale(1.29 1)" font-size="19.2" text-anchor="middle">T</text>
<text transform="translate(8.9 223) rotate(-90)" font-size="18" text-anchor="middle">τ</text>
</g>
<text x="200.4" y="483.5" font-family="'Liberation Serif','Times New Roman',serif" font-size="13" text-anchor="middle" fill="#2e2e2e">ˆ</text>
<text x="476.2" y="490.9" font-family="'Liberation Serif','Times New Roman',serif" font-size="13" text-anchor="middle" fill="#2e2e2e">ˇ</text>
<text x="207.3" y="199.4" font-family="'Liberation Sans',Arial,Helvetica,sans-serif" font-weight="bold" font-size="18.2" fill="#000">Quasi-synchronization region</text>
<path d="M380.5 409.5L326 230.5" stroke="#000" stroke-width="1" fill="none"/>
<path d="M321.5 217L320.4 237L326 230.6L333.8 233Z" fill="#000"/>
</svg>
</body></html>
